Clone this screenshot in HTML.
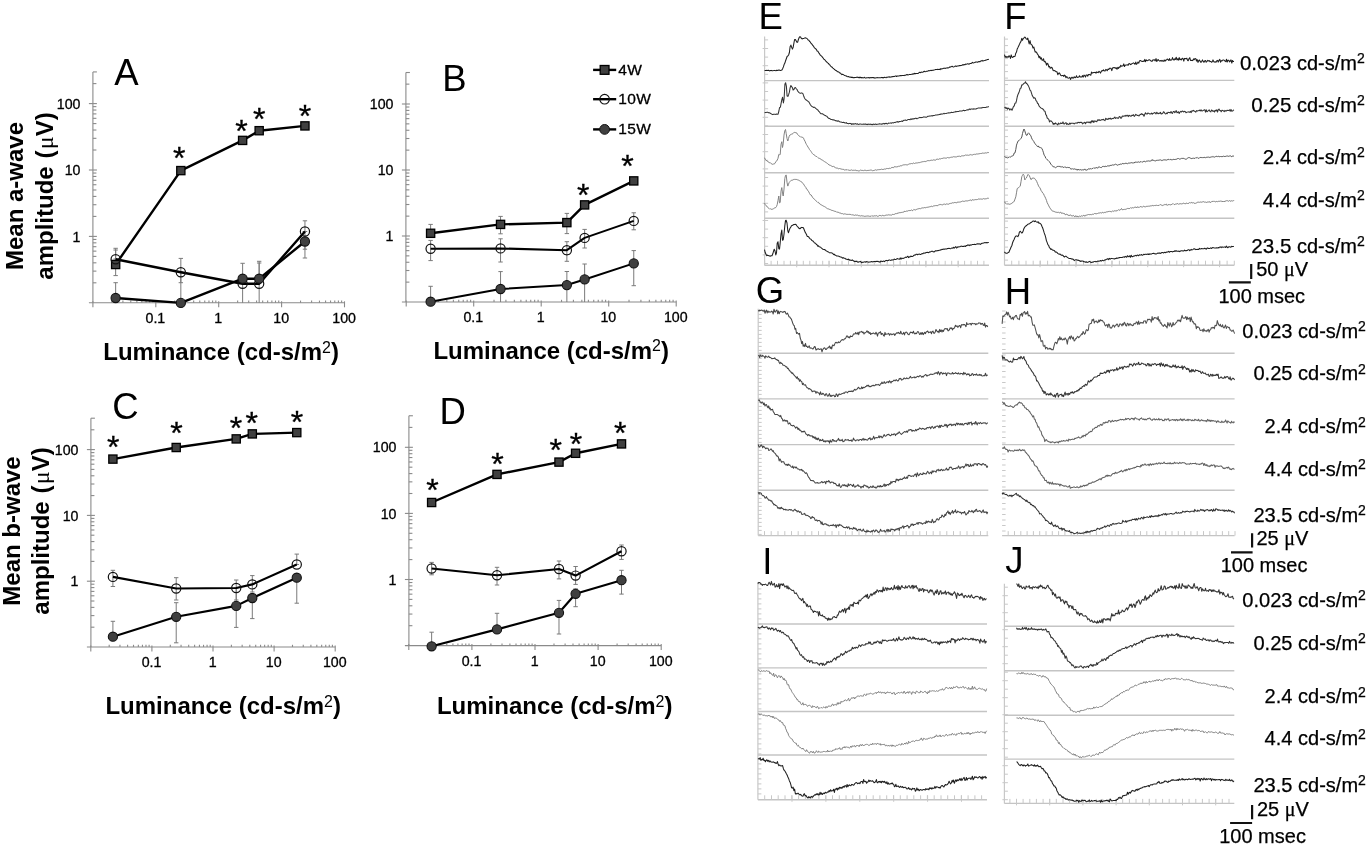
<!DOCTYPE html>
<html><head><meta charset="utf-8"><title>Figure</title>
<style>html,body{margin:0;padding:0;background:#fff;}svg{display:block;}</style></head>
<body><svg width="1368" height="846" viewBox="0 0 1368 846">
<rect width="1368" height="846" fill="#fff"/>
<g stroke="#8a8a8a" stroke-width="1.1" fill="none"><path d="M92.9 71.92V302.8"/><path d="M92.9 71.92h4"/><path d="M92.9 282.81h3.5"/><path d="M92.9 271.12h3.5"/><path d="M92.9 262.82h3.5"/><path d="M92.9 256.39h3.5"/><path d="M92.9 251.13h3.5"/><path d="M92.9 246.69h3.5"/><path d="M92.9 242.83h3.5"/><path d="M92.9 239.44h3.5"/><path d="M92.9 216.41h3.5"/><path d="M92.9 204.72h3.5"/><path d="M92.9 196.42h3.5"/><path d="M92.9 189.99h3.5"/><path d="M92.9 184.73h3.5"/><path d="M92.9 180.29h3.5"/><path d="M92.9 176.43h3.5"/><path d="M92.9 173.04h3.5"/><path d="M92.9 150.01h3.5"/><path d="M92.9 138.32h3.5"/><path d="M92.9 130.02h3.5"/><path d="M92.9 123.59h3.5"/><path d="M92.9 118.33h3.5"/><path d="M92.9 113.89h3.5"/><path d="M92.9 110.03h3.5"/><path d="M92.9 106.64h3.5"/><path d="M92.9 83.61h3.5"/><path d="M88.9 236.4h8"/><path d="M88.9 170h8"/><path d="M88.9 103.6h8"/><path d="M88.9 302.8H344.5"/><path d="M92.9 301.3V307.3"/><path d="M155.8 301.3V307.3"/><path d="M218.7 301.3V307.3"/><path d="M281.6 301.3V307.3"/><path d="M344.5 301.3V307.3"/><path d="M111.83 300.6V302.8"/><path d="M122.91 300.6V302.8"/><path d="M130.77 300.6V302.8"/><path d="M136.87 300.6V302.8"/><path d="M141.85 300.6V302.8"/><path d="M146.06 300.6V302.8"/><path d="M149.7 300.6V302.8"/><path d="M152.92 300.6V302.8"/><path d="M174.73 300.6V302.8"/><path d="M185.81 300.6V302.8"/><path d="M193.67 300.6V302.8"/><path d="M199.77 300.6V302.8"/><path d="M204.75 300.6V302.8"/><path d="M208.96 300.6V302.8"/><path d="M212.6 300.6V302.8"/><path d="M215.82 300.6V302.8"/><path d="M237.63 300.6V302.8"/><path d="M248.71 300.6V302.8"/><path d="M256.57 300.6V302.8"/><path d="M262.67 300.6V302.8"/><path d="M267.65 300.6V302.8"/><path d="M271.86 300.6V302.8"/><path d="M275.5 300.6V302.8"/><path d="M278.72 300.6V302.8"/><path d="M300.53 300.6V302.8"/><path d="M311.61 300.6V302.8"/><path d="M319.47 300.6V302.8"/><path d="M325.57 300.6V302.8"/><path d="M330.55 300.6V302.8"/><path d="M334.76 300.6V302.8"/><path d="M338.4 300.6V302.8"/><path d="M341.62 300.6V302.8"/></g>
<g font-family="'Liberation Sans', Arial, sans-serif" font-size="14.2" fill="#000" stroke="#000" stroke-width="0.3"><text x="80.5" y="241.5" text-anchor="end">1</text><text x="80.5" y="175.1" text-anchor="end">10</text><text x="80.5" y="108.7" text-anchor="end">100</text><text x="155.4" y="323.2" text-anchor="middle">0.1</text><text x="218.3" y="323.2" text-anchor="middle">1</text><text x="281.2" y="323.2" text-anchor="middle">10</text><text x="344.1" y="323.2" text-anchor="middle">100</text></g>
<g stroke="#7a7a7a" stroke-width="1" fill="none"><path d="M115.65 248.3V264"/><path d="M113.45 248.3h4.4"/><path d="M113.45 264h4.4"/><path d="M115.65 250V264"/><path d="M113.45 250h4.4"/><path d="M113.45 264h4.4"/><path d="M115.65 259V275.6"/><path d="M113.45 259h4.4"/><path d="M113.45 275.6h4.4"/><path d="M115.65 282.7V298"/><path d="M113.45 282.7h4.4"/><path d="M113.45 298h4.4"/><path d="M180.83 258.4V282.7"/><path d="M178.63 258.4h4.4"/><path d="M178.63 282.7h4.4"/><path d="M180.83 272V302.8"/><path d="M178.63 272h4.4"/><path d="M242.62 263.3V302.8"/><path d="M240.42 263.3h4.4"/><path d="M259.17 261.3V302.8"/><path d="M256.97 261.3h4.4"/><path d="M259.17 263V283"/><path d="M256.97 263h4.4"/><path d="M256.97 283h4.4"/><path d="M304.94 220.8V231.5"/><path d="M302.74 220.8h4.4"/><path d="M302.74 231.5h4.4"/><path d="M304.94 231.5V249.2"/><path d="M302.74 231.5h4.4"/><path d="M302.74 249.2h4.4"/><path d="M304.94 241.5V258"/><path d="M302.74 241.5h4.4"/><path d="M302.74 258h4.4"/></g>
<polyline points="115.65,264.5 180.83,170.6 242.62,140.4 259.17,130.7 304.94,125.9" fill="none" stroke="#000" stroke-width="2.4" stroke-linejoin="round"/>
<rect x="111.55" y="260.4" width="8.2" height="8.2" fill="#404040" stroke="#000" stroke-width="1.3"/>
<rect x="176.73" y="166.5" width="8.2" height="8.2" fill="#404040" stroke="#000" stroke-width="1.3"/>
<rect x="238.52" y="136.3" width="8.2" height="8.2" fill="#404040" stroke="#000" stroke-width="1.3"/>
<rect x="255.07" y="126.6" width="8.2" height="8.2" fill="#404040" stroke="#000" stroke-width="1.3"/>
<rect x="300.84" y="121.8" width="8.2" height="8.2" fill="#404040" stroke="#000" stroke-width="1.3"/>
<polyline points="115.65,259.2 180.83,272.3 242.62,283.7 259.17,283.7 304.94,231.5" fill="none" stroke="#000" stroke-width="2.4" stroke-linejoin="round"/>
<circle cx="115.65" cy="259.2" r="4.6" fill="none" stroke="#111" stroke-width="1.2"/>
<circle cx="180.83" cy="272.3" r="4.6" fill="none" stroke="#111" stroke-width="1.2"/>
<circle cx="242.62" cy="283.7" r="4.6" fill="none" stroke="#111" stroke-width="1.2"/>
<circle cx="259.17" cy="283.7" r="4.6" fill="none" stroke="#111" stroke-width="1.2"/>
<circle cx="304.94" cy="231.5" r="4.6" fill="none" stroke="#111" stroke-width="1.2"/>
<polyline points="115.65,298 180.83,302.9 242.62,278.7 259.17,278.7 304.94,241.5" fill="none" stroke="#000" stroke-width="2.4" stroke-linejoin="round"/>
<circle cx="115.65" cy="298" r="4.6" fill="#404040" stroke="#111" stroke-width="1.1"/>
<circle cx="180.83" cy="302.9" r="4.6" fill="#404040" stroke="#111" stroke-width="1.1"/>
<circle cx="242.62" cy="278.7" r="4.6" fill="#404040" stroke="#111" stroke-width="1.1"/>
<circle cx="259.17" cy="278.7" r="4.6" fill="#404040" stroke="#111" stroke-width="1.1"/>
<circle cx="304.94" cy="241.5" r="4.6" fill="#404040" stroke="#111" stroke-width="1.1"/>
<g font-family="'Liberation Sans', Arial, sans-serif" font-size="32" fill="#000" stroke="#000" stroke-width="0.35" text-anchor="middle"><text x="179.3" y="169.4">*</text><text x="241.4" y="142.3">*</text><text x="259.3" y="129.8">*</text><text x="305.1" y="126.5">*</text></g>
<g stroke="#8a8a8a" stroke-width="1.1" fill="none"><path d="M405.9 72.51V302"/><path d="M405.9 72.51h4"/><path d="M405.9 282.13h3.5"/><path d="M405.9 270.51h3.5"/><path d="M405.9 262.26h3.5"/><path d="M405.9 255.87h3.5"/><path d="M405.9 250.64h3.5"/><path d="M405.9 246.22h3.5"/><path d="M405.9 242.4h3.5"/><path d="M405.9 239.02h3.5"/><path d="M405.9 216.13h3.5"/><path d="M405.9 204.51h3.5"/><path d="M405.9 196.26h3.5"/><path d="M405.9 189.87h3.5"/><path d="M405.9 184.64h3.5"/><path d="M405.9 180.22h3.5"/><path d="M405.9 176.4h3.5"/><path d="M405.9 173.02h3.5"/><path d="M405.9 150.13h3.5"/><path d="M405.9 138.51h3.5"/><path d="M405.9 130.26h3.5"/><path d="M405.9 123.87h3.5"/><path d="M405.9 118.64h3.5"/><path d="M405.9 114.22h3.5"/><path d="M405.9 110.4h3.5"/><path d="M405.9 107.02h3.5"/><path d="M405.9 84.13h3.5"/><path d="M401.9 236h8"/><path d="M401.9 170h8"/><path d="M401.9 104h8"/><path d="M401.9 302H676.2"/><path d="M406.2 300.5V306.5"/><path d="M473.7 300.5V306.5"/><path d="M541.2 300.5V306.5"/><path d="M608.7 300.5V306.5"/><path d="M676.2 300.5V306.5"/><path d="M426.52 299.8V302"/><path d="M438.41 299.8V302"/><path d="M446.84 299.8V302"/><path d="M453.38 299.8V302"/><path d="M458.73 299.8V302"/><path d="M463.24 299.8V302"/><path d="M467.16 299.8V302"/><path d="M470.61 299.8V302"/><path d="M494.02 299.8V302"/><path d="M505.91 299.8V302"/><path d="M514.34 299.8V302"/><path d="M520.88 299.8V302"/><path d="M526.23 299.8V302"/><path d="M530.74 299.8V302"/><path d="M534.66 299.8V302"/><path d="M538.11 299.8V302"/><path d="M561.52 299.8V302"/><path d="M573.41 299.8V302"/><path d="M581.84 299.8V302"/><path d="M588.38 299.8V302"/><path d="M593.73 299.8V302"/><path d="M598.24 299.8V302"/><path d="M602.16 299.8V302"/><path d="M605.61 299.8V302"/><path d="M629.02 299.8V302"/><path d="M640.91 299.8V302"/><path d="M649.34 299.8V302"/><path d="M655.88 299.8V302"/><path d="M661.23 299.8V302"/><path d="M665.74 299.8V302"/><path d="M669.66 299.8V302"/><path d="M673.11 299.8V302"/></g>
<g font-family="'Liberation Sans', Arial, sans-serif" font-size="14.2" fill="#000" stroke="#000" stroke-width="0.3"><text x="393.5" y="241.1" text-anchor="end">1</text><text x="393.5" y="175.1" text-anchor="end">10</text><text x="393.5" y="109.1" text-anchor="end">100</text><text x="473.3" y="322.4" text-anchor="middle">0.1</text><text x="540.8" y="322.4" text-anchor="middle">1</text><text x="608.3" y="322.4" text-anchor="middle">10</text><text x="675.8" y="322.4" text-anchor="middle">100</text></g>
<g stroke="#7a7a7a" stroke-width="1" fill="none"><path d="M430.62 224.4V233.3"/><path d="M428.42 224.4h4.4"/><path d="M428.42 233.3h4.4"/><path d="M430.62 240.4V260.6"/><path d="M428.42 240.4h4.4"/><path d="M428.42 260.6h4.4"/><path d="M430.62 286.3V301.7"/><path d="M428.42 286.3h4.4"/><path d="M500.56 216.4V233.8"/><path d="M498.36 216.4h4.4"/><path d="M498.36 233.8h4.4"/><path d="M500.56 238.8V262"/><path d="M498.36 238.8h4.4"/><path d="M498.36 262h4.4"/><path d="M500.56 271.6V302"/><path d="M498.36 271.6h4.4"/><path d="M566.86 213.4V233.6"/><path d="M564.66 213.4h4.4"/><path d="M564.66 233.6h4.4"/><path d="M566.86 241.7V261.3"/><path d="M564.66 241.7h4.4"/><path d="M564.66 261.3h4.4"/><path d="M566.86 271.5V302"/><path d="M564.66 271.5h4.4"/><path d="M584.63 229.4V248"/><path d="M582.43 229.4h4.4"/><path d="M582.43 248h4.4"/><path d="M584.63 264V302"/><path d="M582.43 264h4.4"/><path d="M633.75 212.8V229.8"/><path d="M631.55 212.8h4.4"/><path d="M631.55 229.8h4.4"/><path d="M633.75 250.6V285.7"/><path d="M631.55 250.6h4.4"/><path d="M631.55 285.7h4.4"/></g>
<polyline points="430.62,233.3 500.56,224.4 566.86,222.6 584.63,204.9 633.75,180.9" fill="none" stroke="#000" stroke-width="2.4" stroke-linejoin="round"/>
<rect x="426.52" y="229.2" width="8.2" height="8.2" fill="#404040" stroke="#000" stroke-width="1.3"/>
<rect x="496.46" y="220.3" width="8.2" height="8.2" fill="#404040" stroke="#000" stroke-width="1.3"/>
<rect x="562.76" y="218.5" width="8.2" height="8.2" fill="#404040" stroke="#000" stroke-width="1.3"/>
<rect x="580.53" y="200.8" width="8.2" height="8.2" fill="#404040" stroke="#000" stroke-width="1.3"/>
<rect x="629.65" y="176.8" width="8.2" height="8.2" fill="#404040" stroke="#000" stroke-width="1.3"/>
<polyline points="430.62,248.7 500.56,248.4 566.86,250.2 584.63,237.9 633.75,220.9" fill="none" stroke="#000" stroke-width="2.05" stroke-linejoin="round"/>
<circle cx="430.62" cy="248.7" r="4.6" fill="none" stroke="#111" stroke-width="1.2"/>
<circle cx="500.56" cy="248.4" r="4.6" fill="none" stroke="#111" stroke-width="1.2"/>
<circle cx="566.86" cy="250.2" r="4.6" fill="none" stroke="#111" stroke-width="1.2"/>
<circle cx="584.63" cy="237.9" r="4.6" fill="none" stroke="#111" stroke-width="1.2"/>
<circle cx="633.75" cy="220.9" r="4.6" fill="none" stroke="#111" stroke-width="1.2"/>
<polyline points="430.62,301.7 500.56,289 566.86,285.1 584.63,279.4 633.75,263.4" fill="none" stroke="#000" stroke-width="2.05" stroke-linejoin="round"/>
<circle cx="430.62" cy="301.7" r="4.6" fill="#404040" stroke="#111" stroke-width="1.1"/>
<circle cx="500.56" cy="289" r="4.6" fill="#404040" stroke="#111" stroke-width="1.1"/>
<circle cx="566.86" cy="285.1" r="4.6" fill="#404040" stroke="#111" stroke-width="1.1"/>
<circle cx="584.63" cy="279.4" r="4.6" fill="#404040" stroke="#111" stroke-width="1.1"/>
<circle cx="633.75" cy="263.4" r="4.6" fill="#404040" stroke="#111" stroke-width="1.1"/>
<g font-family="'Liberation Sans', Arial, sans-serif" font-size="32" fill="#000" stroke="#000" stroke-width="0.35" text-anchor="middle"><text x="583.2" y="205.9">*</text><text x="627.4" y="176.8">*</text></g>
<g stroke="#8a8a8a" stroke-width="1.1" fill="none"><path d="M90.9 418.21V647"/><path d="M90.9 418.21h4"/><path d="M90.9 627.19h3.5"/><path d="M90.9 615.61h3.5"/><path d="M90.9 607.38h3.5"/><path d="M90.9 601.01h3.5"/><path d="M90.9 595.8h3.5"/><path d="M90.9 591.39h3.5"/><path d="M90.9 587.58h3.5"/><path d="M90.9 584.21h3.5"/><path d="M90.9 561.39h3.5"/><path d="M90.9 549.81h3.5"/><path d="M90.9 541.58h3.5"/><path d="M90.9 535.21h3.5"/><path d="M90.9 530h3.5"/><path d="M90.9 525.59h3.5"/><path d="M90.9 521.78h3.5"/><path d="M90.9 518.41h3.5"/><path d="M90.9 495.59h3.5"/><path d="M90.9 484.01h3.5"/><path d="M90.9 475.78h3.5"/><path d="M90.9 469.41h3.5"/><path d="M90.9 464.2h3.5"/><path d="M90.9 459.79h3.5"/><path d="M90.9 455.98h3.5"/><path d="M90.9 452.61h3.5"/><path d="M90.9 429.79h3.5"/><path d="M86.9 581.2h8"/><path d="M86.9 515.4h8"/><path d="M86.9 449.6h8"/><path d="M86.9 647H335.2"/><path d="M90.8 645.5V651.5"/><path d="M151.9 645.5V651.5"/><path d="M213 645.5V651.5"/><path d="M274.1 645.5V651.5"/><path d="M335.2 645.5V651.5"/><path d="M109.19 644.8V647"/><path d="M119.95 644.8V647"/><path d="M127.59 644.8V647"/><path d="M133.51 644.8V647"/><path d="M138.35 644.8V647"/><path d="M142.44 644.8V647"/><path d="M145.98 644.8V647"/><path d="M149.1 644.8V647"/><path d="M170.29 644.8V647"/><path d="M181.05 644.8V647"/><path d="M188.69 644.8V647"/><path d="M194.61 644.8V647"/><path d="M199.45 644.8V647"/><path d="M203.54 644.8V647"/><path d="M207.08 644.8V647"/><path d="M210.2 644.8V647"/><path d="M231.39 644.8V647"/><path d="M242.15 644.8V647"/><path d="M249.79 644.8V647"/><path d="M255.71 644.8V647"/><path d="M260.55 644.8V647"/><path d="M264.64 644.8V647"/><path d="M268.18 644.8V647"/><path d="M271.3 644.8V647"/><path d="M292.49 644.8V647"/><path d="M303.25 644.8V647"/><path d="M310.89 644.8V647"/><path d="M316.81 644.8V647"/><path d="M321.65 644.8V647"/><path d="M325.74 644.8V647"/><path d="M329.28 644.8V647"/><path d="M332.4 644.8V647"/></g>
<g font-family="'Liberation Sans', Arial, sans-serif" font-size="14.2" fill="#000" stroke="#000" stroke-width="0.3"><text x="78.5" y="586.3" text-anchor="end">1</text><text x="78.5" y="520.5" text-anchor="end">10</text><text x="78.5" y="454.7" text-anchor="end">100</text><text x="151.5" y="667.4" text-anchor="middle">0.1</text><text x="212.6" y="667.4" text-anchor="middle">1</text><text x="273.7" y="667.4" text-anchor="middle">10</text><text x="334.8" y="667.4" text-anchor="middle">100</text></g>
<g stroke="#7a7a7a" stroke-width="1" fill="none"><path d="M112.9 570.3V586.5"/><path d="M110.7 570.3h4.4"/><path d="M110.7 586.5h4.4"/><path d="M112.9 621.3V636.7"/><path d="M110.7 621.3h4.4"/><path d="M110.7 636.7h4.4"/><path d="M176.21 577.7V600"/><path d="M174.01 577.7h4.4"/><path d="M174.01 600h4.4"/><path d="M176.21 602.7V642.8"/><path d="M174.01 602.7h4.4"/><path d="M174.01 642.8h4.4"/><path d="M236.23 588V627.4"/><path d="M234.03 588h4.4"/><path d="M234.03 627.4h4.4"/><path d="M236.23 580V600"/><path d="M234.03 580h4.4"/><path d="M234.03 600h4.4"/><path d="M252.31 575.6V592"/><path d="M250.11 575.6h4.4"/><path d="M250.11 592h4.4"/><path d="M252.31 598V618.6"/><path d="M250.11 598h4.4"/><path d="M250.11 618.6h4.4"/><path d="M296.77 554.1V564.5"/><path d="M294.57 554.1h4.4"/><path d="M294.57 564.5h4.4"/><path d="M296.77 577.7V603.2"/><path d="M294.57 577.7h4.4"/><path d="M294.57 603.2h4.4"/></g>
<polyline points="112.9,459.1 176.21,447.5 236.23,438.9 252.31,433.9 296.77,432.6" fill="none" stroke="#000" stroke-width="2.4" stroke-linejoin="round"/>
<rect x="108.8" y="455" width="8.2" height="8.2" fill="#404040" stroke="#000" stroke-width="1.3"/>
<rect x="172.11" y="443.4" width="8.2" height="8.2" fill="#404040" stroke="#000" stroke-width="1.3"/>
<rect x="232.13" y="434.8" width="8.2" height="8.2" fill="#404040" stroke="#000" stroke-width="1.3"/>
<rect x="248.21" y="429.8" width="8.2" height="8.2" fill="#404040" stroke="#000" stroke-width="1.3"/>
<rect x="292.67" y="428.5" width="8.2" height="8.2" fill="#404040" stroke="#000" stroke-width="1.3"/>
<polyline points="112.9,576.9 176.21,588.5 236.23,588 252.31,584.4 296.77,564.5" fill="none" stroke="#000" stroke-width="2.15" stroke-linejoin="round"/>
<circle cx="112.9" cy="576.9" r="4.6" fill="none" stroke="#111" stroke-width="1.2"/>
<circle cx="176.21" cy="588.5" r="4.6" fill="none" stroke="#111" stroke-width="1.2"/>
<circle cx="236.23" cy="588" r="4.6" fill="none" stroke="#111" stroke-width="1.2"/>
<circle cx="252.31" cy="584.4" r="4.6" fill="none" stroke="#111" stroke-width="1.2"/>
<circle cx="296.77" cy="564.5" r="4.6" fill="none" stroke="#111" stroke-width="1.2"/>
<polyline points="112.9,636.7 176.21,616.8 236.23,605.9 252.31,598 296.77,577.7" fill="none" stroke="#000" stroke-width="2.15" stroke-linejoin="round"/>
<circle cx="112.9" cy="636.7" r="4.6" fill="#404040" stroke="#111" stroke-width="1.1"/>
<circle cx="176.21" cy="616.8" r="4.6" fill="#404040" stroke="#111" stroke-width="1.1"/>
<circle cx="236.23" cy="605.9" r="4.6" fill="#404040" stroke="#111" stroke-width="1.1"/>
<circle cx="252.31" cy="598" r="4.6" fill="#404040" stroke="#111" stroke-width="1.1"/>
<circle cx="296.77" cy="577.7" r="4.6" fill="#404040" stroke="#111" stroke-width="1.1"/>
<g font-family="'Liberation Sans', Arial, sans-serif" font-size="32" fill="#000" stroke="#000" stroke-width="0.35" text-anchor="middle"><text x="113.3" y="457.9">*</text><text x="176.4" y="443.9">*</text><text x="236.1" y="439.1">*</text><text x="251.7" y="434.4">*</text><text x="296.9" y="432.5">*</text></g>
<g stroke="#8a8a8a" stroke-width="1.1" fill="none"><path d="M408.9 415.76V645.6"/><path d="M408.9 415.76h4"/><path d="M408.9 625.7h3.5"/><path d="M408.9 614.06h3.5"/><path d="M408.9 605.8h3.5"/><path d="M408.9 599.4h3.5"/><path d="M408.9 594.16h3.5"/><path d="M408.9 589.74h3.5"/><path d="M408.9 585.91h3.5"/><path d="M408.9 582.52h3.5"/><path d="M408.9 559.6h3.5"/><path d="M408.9 547.96h3.5"/><path d="M408.9 539.7h3.5"/><path d="M408.9 533.3h3.5"/><path d="M408.9 528.06h3.5"/><path d="M408.9 523.64h3.5"/><path d="M408.9 519.81h3.5"/><path d="M408.9 516.42h3.5"/><path d="M408.9 493.5h3.5"/><path d="M408.9 481.86h3.5"/><path d="M408.9 473.6h3.5"/><path d="M408.9 467.2h3.5"/><path d="M408.9 461.96h3.5"/><path d="M408.9 457.54h3.5"/><path d="M408.9 453.71h3.5"/><path d="M408.9 450.32h3.5"/><path d="M408.9 427.4h3.5"/><path d="M404.9 579.5h8"/><path d="M404.9 513.4h8"/><path d="M404.9 447.3h8"/><path d="M404.9 645.6H661.2"/><path d="M408.8 644.1V650.1"/><path d="M471.9 644.1V650.1"/><path d="M535 644.1V650.1"/><path d="M598.1 644.1V650.1"/><path d="M661.2 644.1V650.1"/><path d="M427.79 643.4V645.6"/><path d="M438.91 643.4V645.6"/><path d="M446.79 643.4V645.6"/><path d="M452.91 643.4V645.6"/><path d="M457.9 643.4V645.6"/><path d="M462.13 643.4V645.6"/><path d="M465.78 643.4V645.6"/><path d="M469.01 643.4V645.6"/><path d="M490.89 643.4V645.6"/><path d="M502.01 643.4V645.6"/><path d="M509.89 643.4V645.6"/><path d="M516.01 643.4V645.6"/><path d="M521 643.4V645.6"/><path d="M525.23 643.4V645.6"/><path d="M528.88 643.4V645.6"/><path d="M532.11 643.4V645.6"/><path d="M553.99 643.4V645.6"/><path d="M565.11 643.4V645.6"/><path d="M572.99 643.4V645.6"/><path d="M579.11 643.4V645.6"/><path d="M584.1 643.4V645.6"/><path d="M588.33 643.4V645.6"/><path d="M591.98 643.4V645.6"/><path d="M595.21 643.4V645.6"/><path d="M617.09 643.4V645.6"/><path d="M628.21 643.4V645.6"/><path d="M636.09 643.4V645.6"/><path d="M642.21 643.4V645.6"/><path d="M647.2 643.4V645.6"/><path d="M651.43 643.4V645.6"/><path d="M655.08 643.4V645.6"/><path d="M658.31 643.4V645.6"/></g>
<g font-family="'Liberation Sans', Arial, sans-serif" font-size="14.2" fill="#000" stroke="#000" stroke-width="0.3"><text x="396.5" y="584.6" text-anchor="end">1</text><text x="396.5" y="518.5" text-anchor="end">10</text><text x="396.5" y="452.4" text-anchor="end">100</text><text x="471.5" y="666" text-anchor="middle">0.1</text><text x="534.6" y="666" text-anchor="middle">1</text><text x="597.7" y="666" text-anchor="middle">10</text><text x="660.8" y="666" text-anchor="middle">100</text></g>
<g stroke="#7a7a7a" stroke-width="1" fill="none"><path d="M431.63 562.4V574.8"/><path d="M429.43 562.4h4.4"/><path d="M429.43 574.8h4.4"/><path d="M431.63 632.2V646"/><path d="M429.43 632.2h4.4"/><path d="M497.01 567.3V585"/><path d="M494.81 567.3h4.4"/><path d="M494.81 585h4.4"/><path d="M497.01 613.3V629.4"/><path d="M494.81 613.3h4.4"/><path d="M494.81 629.4h4.4"/><path d="M558.99 561V578.9"/><path d="M556.79 561h4.4"/><path d="M556.79 578.9h4.4"/><path d="M558.99 600.4V634"/><path d="M556.79 600.4h4.4"/><path d="M556.79 634h4.4"/><path d="M575.6 566.5V584.4"/><path d="M573.4 566.5h4.4"/><path d="M573.4 584.4h4.4"/><path d="M575.6 588.8V606.7"/><path d="M573.4 588.8h4.4"/><path d="M573.4 606.7h4.4"/><path d="M621.51 545V559.4"/><path d="M619.31 545h4.4"/><path d="M619.31 559.4h4.4"/><path d="M621.51 570.3V594.1"/><path d="M619.31 570.3h4.4"/><path d="M619.31 594.1h4.4"/></g>
<polyline points="431.63,502.5 497.01,474.4 558.99,462.1 575.6,453.3 621.51,443.9" fill="none" stroke="#000" stroke-width="2.4" stroke-linejoin="round"/>
<rect x="427.53" y="498.4" width="8.2" height="8.2" fill="#404040" stroke="#000" stroke-width="1.3"/>
<rect x="492.91" y="470.3" width="8.2" height="8.2" fill="#404040" stroke="#000" stroke-width="1.3"/>
<rect x="554.89" y="458" width="8.2" height="8.2" fill="#404040" stroke="#000" stroke-width="1.3"/>
<rect x="571.5" y="449.2" width="8.2" height="8.2" fill="#404040" stroke="#000" stroke-width="1.3"/>
<rect x="617.41" y="439.8" width="8.2" height="8.2" fill="#404040" stroke="#000" stroke-width="1.3"/>
<polyline points="431.63,568.5 497.01,575.3 558.99,569 575.6,575.6 621.51,551.3" fill="none" stroke="#000" stroke-width="2.15" stroke-linejoin="round"/>
<circle cx="431.63" cy="568.5" r="4.6" fill="none" stroke="#111" stroke-width="1.2"/>
<circle cx="497.01" cy="575.3" r="4.6" fill="none" stroke="#111" stroke-width="1.2"/>
<circle cx="558.99" cy="569" r="4.6" fill="none" stroke="#111" stroke-width="1.2"/>
<circle cx="575.6" cy="575.6" r="4.6" fill="none" stroke="#111" stroke-width="1.2"/>
<circle cx="621.51" cy="551.3" r="4.6" fill="none" stroke="#111" stroke-width="1.2"/>
<polyline points="431.63,646.3 497.01,629.4 558.99,612.8 575.6,593.8 621.51,580.2" fill="none" stroke="#000" stroke-width="2.15" stroke-linejoin="round"/>
<circle cx="431.63" cy="646.3" r="4.6" fill="#404040" stroke="#111" stroke-width="1.1"/>
<circle cx="497.01" cy="629.4" r="4.6" fill="#404040" stroke="#111" stroke-width="1.1"/>
<circle cx="558.99" cy="612.8" r="4.6" fill="#404040" stroke="#111" stroke-width="1.1"/>
<circle cx="575.6" cy="593.8" r="4.6" fill="#404040" stroke="#111" stroke-width="1.1"/>
<circle cx="621.51" cy="580.2" r="4.6" fill="#404040" stroke="#111" stroke-width="1.1"/>
<g font-family="'Liberation Sans', Arial, sans-serif" font-size="32" fill="#000" stroke="#000" stroke-width="0.35" text-anchor="middle"><text x="432.4" y="501">*</text><text x="497.4" y="475">*</text><text x="555.7" y="461.4">*</text><text x="576.1" y="454.8">*</text><text x="620.3" y="444">*</text></g>
<g font-family="'Liberation Sans', Arial, sans-serif" font-size="36.5" fill="#000"><text x="114.2" y="85.2">A</text><text x="442.2" y="91.1">B</text><text x="112.2" y="418.5">C</text><text x="439.6" y="424.4">D</text><text x="758.6" y="28.9">E</text><text x="1004.2" y="28.9">F</text><text x="755.8" y="303">G</text><text x="1004.7" y="304">H</text><text x="762.2" y="574">I</text><text x="1005.2" y="573.3">J</text></g>
<g font-family="'Liberation Sans', Arial, sans-serif" font-size="24" font-weight="bold" fill="#000"><text x="103.3" y="360.3">Luminance (cd-s/m<tspan font-size="16" font-weight="normal" dy="-7.5">2</tspan><tspan dy="7.5">)</tspan></text><text x="433.4" y="358.6">Luminance (cd-s/m<tspan font-size="16" font-weight="normal" dy="-7.5">2</tspan><tspan dy="7.5">)</tspan></text><text x="105.4" y="714.2">Luminance (cd-s/m<tspan font-size="16" font-weight="normal" dy="-7.5">2</tspan><tspan dy="7.5">)</tspan></text><text x="436.9" y="714.2">Luminance (cd-s/m<tspan font-size="16" font-weight="normal" dy="-7.5">2</tspan><tspan dy="7.5">)</tspan></text><text transform="translate(23.4,196) rotate(-90)" text-anchor="middle">Mean a-wave</text><text transform="translate(52.8,196) rotate(-90)" text-anchor="middle">amplitude<tspan dx="1.2"> (</tspan><tspan dx="1.3" font-family="'Liberation Serif', serif" font-weight="normal">&#956;</tspan>V)</text><text transform="translate(20.2,531) rotate(-90)" text-anchor="middle">Mean b-wave</text><text transform="translate(49,531) rotate(-90)" text-anchor="middle">amplitude<tspan dx="1.2"> (</tspan><tspan dx="1.3" font-family="'Liberation Serif', serif" font-weight="normal">&#956;</tspan>V)</text></g>
<g><path d="M593.1 69.9H616.2" stroke="#000" stroke-width="2.4"/><rect x="600.2" y="65.5" width="8.8" height="8.8" fill="#404040" stroke="#000" stroke-width="1.3"/><text x="618.2" y="74.5" font-family="'Liberation Sans', Arial, sans-serif" font-size="15.5" letter-spacing="0.45" fill="#000" stroke="#000" stroke-width="0.3">4W</text><path d="M593.1 99.2H616.2" stroke="#000" stroke-width="2.4"/><circle cx="604.6" cy="99.2" r="4.8" fill="none" stroke="#111" stroke-width="1.2"/><text x="618.2" y="103.8" font-family="'Liberation Sans', Arial, sans-serif" font-size="15.5" letter-spacing="0.45" fill="#000" stroke="#000" stroke-width="0.3">10W</text><path d="M593.1 129.4H616.2" stroke="#000" stroke-width="2.4"/><circle cx="604.6" cy="129.4" r="4.9" fill="#404040" stroke="#111"/><text x="618.2" y="134" font-family="'Liberation Sans', Arial, sans-serif" font-size="15.5" letter-spacing="0.45" fill="#000" stroke="#000" stroke-width="0.3">15W</text></g>
<g fill="none"><path d="M764.6 36.5V265.3" stroke="#c8c8c8" stroke-width="1.2"/><path d="M764.6 39.9h3.5M762.6 48.5h5.5M764.6 57.1h3.5M762.6 65.7h5.5M764.6 74.3h3.5M762.6 82.9h5.5M764.6 91.5h3.5M762.6 100.1h5.5M764.6 108.7h3.5M762.6 117.3h5.5M764.6 125.9h3.5M762.6 134.5h5.5M764.6 143.1h3.5M762.6 151.7h5.5M764.6 160.3h3.5M762.6 168.9h5.5M764.6 177.5h3.5M762.6 186.1h5.5M764.6 194.7h3.5M762.6 203.3h5.5M764.6 211.9h3.5M762.6 220.5h5.5M764.6 229.1h3.5M762.6 237.7h5.5M764.6 246.3h3.5M762.6 254.9h5.5M764.6 263.5h3.5" stroke="#c8c8c8" stroke-width="1"/><path d="M764.6 80.6H989" stroke="#c4c4c4" stroke-width="1.4"/><path d="M764.6 126.3H989" stroke="#c4c4c4" stroke-width="1.4"/><path d="M764.6 172.8H989" stroke="#c4c4c4" stroke-width="1.4"/><path d="M764.6 218.3H989" stroke="#c4c4c4" stroke-width="1.4"/><path d="M764.6 265.3H989" stroke="#c4c4c4" stroke-width="1.4"/><path d="M764.6 260.8V265.3M771.1 260.8V265.3M777.5 260.8V265.3M784 260.8V265.3M790.4 260.8V265.3M796.9 260.8V265.3M803.3 260.8V265.3M809.8 260.8V265.3M816.2 260.8V265.3M822.7 260.8V265.3M829.1 260.8V265.3M835.6 260.8V265.3M842 260.8V265.3M848.5 260.8V265.3M854.9 260.8V265.3M861.4 260.8V265.3M867.8 260.8V265.3M874.3 260.8V265.3M880.7 260.8V265.3M887.2 260.8V265.3M893.6 260.8V265.3M900.1 260.8V265.3M906.5 260.8V265.3M913 260.8V265.3M919.4 260.8V265.3M925.9 260.8V265.3M932.3 260.8V265.3M938.8 260.8V265.3M945.2 260.8V265.3M951.7 260.8V265.3M958.1 260.8V265.3M964.6 260.8V265.3M971 260.8V265.3M977.5 260.8V265.3M983.9 260.8V265.3M796.7 260.8V267.3M829 260.8V267.3M861.3 260.8V267.3M893.6 260.8V267.3M925.9 260.8V267.3M958.2 260.8V267.3" stroke="#c8c8c8" stroke-width="1"/></g>
<g fill="none"><path d="M1004.5 36.5V265.2" stroke="#c8c8c8" stroke-width="1.2"/><path d="M1004.5 39.1h3.5M1004.5 45.6h3.5M1004.5 52.1h3.5M1004.5 58.6h3.5M1004.5 65.1h3.5M1004.5 71.6h3.5M1004.5 78.1h3.5M1004.5 84.6h3.5M1004.5 91.1h3.5M1004.5 97.6h3.5M1004.5 104.1h3.5M1004.5 110.6h3.5M1004.5 117.1h3.5M1004.5 123.6h3.5M1004.5 130.1h3.5M1004.5 136.6h3.5M1004.5 143.1h3.5M1004.5 149.6h3.5M1004.5 156.1h3.5M1004.5 162.6h3.5M1004.5 169.1h3.5M1004.5 175.6h3.5M1004.5 182.1h3.5M1004.5 188.6h3.5M1004.5 195.1h3.5M1004.5 201.6h3.5M1004.5 208.1h3.5M1004.5 214.6h3.5M1004.5 221.1h3.5M1004.5 227.6h3.5M1004.5 234.1h3.5M1004.5 240.6h3.5M1004.5 247.1h3.5M1004.5 253.6h3.5M1004.5 260.1h3.5" stroke="#c8c8c8" stroke-width="1"/><path d="M1004.5 80.4H1234.3" stroke="#c4c4c4" stroke-width="1.4"/><path d="M1004.5 126.2H1234.3" stroke="#c4c4c4" stroke-width="1.4"/><path d="M1004.5 172.8H1234.3" stroke="#c4c4c4" stroke-width="1.4"/><path d="M1004.5 218.3H1234.3" stroke="#c4c4c4" stroke-width="1.4"/><path d="M1004.5 265.2H1234.3" stroke="#c4c4c4" stroke-width="1.4"/><path d="M1004.5 260.7V265.2M1011.7 260.7V265.2M1018.9 260.7V265.2M1026 260.7V265.2M1033.2 260.7V265.2M1040.4 260.7V265.2M1047.6 260.7V265.2M1054.8 260.7V265.2M1061.9 260.7V265.2M1069.1 260.7V265.2M1076.3 260.7V265.2M1083.5 260.7V265.2M1090.7 260.7V265.2M1097.8 260.7V265.2M1105 260.7V265.2M1112.2 260.7V265.2M1119.4 260.7V265.2M1126.6 260.7V265.2M1133.7 260.7V265.2M1140.9 260.7V265.2M1148.1 260.7V265.2M1155.3 260.7V265.2M1162.5 260.7V265.2M1169.6 260.7V265.2M1176.8 260.7V265.2M1184 260.7V265.2M1191.2 260.7V265.2M1198.4 260.7V265.2M1205.5 260.7V265.2M1212.7 260.7V265.2M1219.9 260.7V265.2M1227.1 260.7V265.2M1234.3 260.7V265.2M1040 260.7V267.2M1075.9 260.7V267.2M1111.8 260.7V267.2M1147.7 260.7V267.2M1183.6 260.7V267.2M1219.5 260.7V267.2" stroke="#c8c8c8" stroke-width="1"/></g>
<g fill="none"><path d="M758.2 308.8V535.6" stroke="#c8c8c8" stroke-width="1.2"/><path d="M758.2 310.4h3.5M758.2 314.4h3.5M758.2 318.4h3.5M758.2 322.4h3.5M758.2 326.4h3.5M758.2 330.4h3.5M758.2 334.4h3.5M758.2 338.4h3.5M758.2 342.4h3.5M758.2 346.4h3.5M758.2 350.4h3.5M758.2 354.4h3.5M758.2 358.4h3.5M758.2 362.4h3.5M758.2 366.4h3.5M758.2 370.4h3.5M758.2 374.4h3.5M758.2 378.4h3.5M758.2 382.4h3.5M758.2 386.4h3.5M758.2 390.4h3.5M758.2 394.4h3.5M758.2 398.4h3.5M758.2 402.4h3.5M758.2 406.4h3.5M758.2 410.4h3.5M758.2 414.4h3.5M758.2 418.4h3.5M758.2 422.4h3.5M758.2 426.4h3.5M758.2 430.4h3.5M758.2 434.4h3.5M758.2 438.4h3.5M758.2 442.4h3.5M758.2 446.4h3.5M758.2 450.4h3.5M758.2 454.4h3.5M758.2 458.4h3.5M758.2 462.4h3.5M758.2 466.4h3.5M758.2 470.4h3.5M758.2 474.4h3.5M758.2 478.4h3.5M758.2 482.4h3.5M758.2 486.4h3.5M758.2 490.4h3.5M758.2 494.4h3.5M758.2 498.4h3.5M758.2 502.4h3.5M758.2 506.4h3.5M758.2 510.4h3.5M758.2 514.4h3.5M758.2 518.4h3.5M758.2 522.4h3.5M758.2 526.4h3.5M758.2 530.4h3.5M758.2 534.4h3.5" stroke="#c8c8c8" stroke-width="1"/><path d="M758.2 353.2H988.3" stroke="#c4c4c4" stroke-width="1.4"/><path d="M758.2 398.9H988.3" stroke="#c4c4c4" stroke-width="1.4"/><path d="M758.2 444.6H988.3" stroke="#c4c4c4" stroke-width="1.4"/><path d="M758.2 490.2H988.3" stroke="#c4c4c4" stroke-width="1.4"/><path d="M758.2 535.6H988.3" stroke="#c4c4c4" stroke-width="1.4"/><path d="M764.5 531.1V535.6M771.2 531.1V535.6M778 531.1V535.6M784.8 531.1V535.6M791.5 531.1V535.6M798.2 531.1V535.6M805 531.1V535.6M811.8 531.1V535.6M818.5 531.1V535.6M825.2 531.1V535.6M832 531.1V535.6M838.8 531.1V535.6M845.5 531.1V535.6M852.2 531.1V535.6M859 531.1V535.6M865.8 531.1V535.6M872.5 531.1V535.6M879.2 531.1V535.6M886 531.1V535.6M892.8 531.1V535.6M899.5 531.1V535.6M906.2 531.1V535.6M913 531.1V535.6M919.8 531.1V535.6M926.5 531.1V535.6M933.2 531.1V535.6M940 531.1V535.6M946.8 531.1V535.6M953.5 531.1V535.6M960.2 531.1V535.6M967 531.1V535.6M973.8 531.1V535.6M980.5 531.1V535.6M987.2 531.1V535.6" stroke="#c8c8c8" stroke-width="1"/></g>
<g fill="none"><path d="M1002.1 311h3.5M1002.1 316.5h3.5M1002.1 322h3.5M1002.1 327.5h3.5M1002.1 333h3.5M1002.1 338.5h3.5M1002.1 344h3.5M1002.1 349.5h3.5M1002.1 355h3.5M1002.1 360.5h3.5M1002.1 366h3.5M1002.1 371.5h3.5M1002.1 377h3.5M1002.1 382.5h3.5M1002.1 388h3.5M1002.1 393.5h3.5M1002.1 399h3.5M1002.1 404.5h3.5M1002.1 410h3.5M1002.1 415.5h3.5M1002.1 421h3.5M1002.1 426.5h3.5M1002.1 432h3.5M1002.1 437.5h3.5M1002.1 443h3.5M1002.1 448.5h3.5M1002.1 454h3.5M1002.1 459.5h3.5M1002.1 465h3.5M1002.1 470.5h3.5M1002.1 476h3.5M1002.1 481.5h3.5M1002.1 487h3.5M1002.1 492.5h3.5M1002.1 498h3.5M1002.1 503.5h3.5M1002.1 509h3.5M1002.1 514.5h3.5M1002.1 520h3.5M1002.1 525.5h3.5M1002.1 531h3.5" stroke="#c8c8c8" stroke-width="1"/><path d="M1002.1 353.2H1234.6" stroke="#c4c4c4" stroke-width="1.4"/><path d="M1002.1 398.9H1234.6" stroke="#c4c4c4" stroke-width="1.4"/><path d="M1002.1 444.6H1234.6" stroke="#c4c4c4" stroke-width="1.4"/><path d="M1002.1 490.2H1234.6" stroke="#c4c4c4" stroke-width="1.4"/><path d="M1002.1 535.6H1234.6" stroke="#c4c4c4" stroke-width="1.4"/><path d="M1008.2 531.1V535.6M1014.5 531.1V535.6M1020.8 531.1V535.6M1027.1 531.1V535.6M1033.4 531.1V535.6M1039.7 531.1V535.6M1046 531.1V535.6M1052.3 531.1V535.6M1058.6 531.1V535.6M1064.9 531.1V535.6M1071.2 531.1V535.6M1077.5 531.1V535.6M1083.8 531.1V535.6M1090.1 531.1V535.6M1096.4 531.1V535.6M1102.7 531.1V535.6M1109 531.1V535.6M1115.3 531.1V535.6M1121.6 531.1V535.6M1127.9 531.1V535.6M1134.2 531.1V535.6M1140.5 531.1V535.6M1146.8 531.1V535.6M1153.1 531.1V535.6M1159.4 531.1V535.6M1165.7 531.1V535.6M1172 531.1V535.6M1178.3 531.1V535.6M1184.6 531.1V535.6M1190.9 531.1V535.6M1197.2 531.1V535.6M1203.5 531.1V535.6M1209.8 531.1V535.6M1216.1 531.1V535.6M1222.4 531.1V535.6M1228.7 531.1V535.6M1235 531.1V535.6" stroke="#c8c8c8" stroke-width="1"/></g>
<g fill="none"><path d="M757.9 581.9V799.8" stroke="#c8c8c8" stroke-width="1.2"/><path d="M757.9 583.9h3.5M757.9 588.9h3.5M757.9 593.9h3.5M757.9 598.9h3.5M757.9 603.9h3.5M757.9 608.9h3.5M757.9 613.9h3.5M757.9 618.9h3.5M757.9 623.9h3.5M757.9 628.9h3.5M757.9 633.9h3.5M757.9 638.9h3.5M757.9 643.9h3.5M757.9 648.9h3.5M757.9 653.9h3.5M757.9 658.9h3.5M757.9 663.9h3.5M757.9 668.9h3.5M757.9 673.9h3.5M757.9 678.9h3.5M757.9 683.9h3.5M757.9 688.9h3.5M757.9 693.9h3.5M757.9 698.9h3.5M757.9 703.9h3.5M757.9 708.9h3.5M757.9 713.9h3.5M757.9 718.9h3.5M757.9 723.9h3.5M757.9 728.9h3.5M757.9 733.9h3.5M757.9 738.9h3.5M757.9 743.9h3.5M757.9 748.9h3.5M757.9 753.9h3.5M757.9 758.9h3.5M757.9 763.9h3.5M757.9 768.9h3.5M757.9 773.9h3.5M757.9 778.9h3.5M757.9 783.9h3.5M757.9 788.9h3.5M757.9 793.9h3.5" stroke="#c8c8c8" stroke-width="1"/><path d="M757.9 624H987" stroke="#c4c4c4" stroke-width="1.4"/><path d="M757.9 667.9H987" stroke="#c4c4c4" stroke-width="1.4"/><path d="M757.9 711.5H987" stroke="#c4c4c4" stroke-width="1.4"/><path d="M757.9 755H987" stroke="#c4c4c4" stroke-width="1.4"/><path d="M757.9 799.8H987" stroke="#c4c4c4" stroke-width="1.4"/><path d="M764.7 795.3V799.8M771.5 795.3V799.8M778.2 795.3V799.8M785 795.3V799.8M791.8 795.3V799.8M798.6 795.3V799.8M805.4 795.3V799.8M812.1 795.3V799.8M818.9 795.3V799.8M825.7 795.3V799.8M832.5 795.3V799.8M839.3 795.3V799.8M846 795.3V799.8M852.8 795.3V799.8M859.6 795.3V799.8M866.4 795.3V799.8M873.2 795.3V799.8M879.9 795.3V799.8M886.7 795.3V799.8M893.5 795.3V799.8M900.3 795.3V799.8M907.1 795.3V799.8M913.8 795.3V799.8M920.6 795.3V799.8M927.4 795.3V799.8M934.2 795.3V799.8M941 795.3V799.8M947.7 795.3V799.8M954.5 795.3V799.8M961.3 795.3V799.8M968.1 795.3V799.8M974.9 795.3V799.8M981.6 795.3V799.8M792 795.3V801.8M825.9 795.3V801.8M859.8 795.3V801.8M893.7 795.3V801.8M927.6 795.3V801.8M961.5 795.3V801.8" stroke="#c8c8c8" stroke-width="1"/></g>
<g fill="none"><path d="M1004.4 583.8V803.4" stroke="#c8c8c8" stroke-width="1.2"/><path d="M1004.4 587.2h3.5M1002.4 595.7h5.5M1004.4 604.2h3.5M1002.4 612.7h5.5M1004.4 621.2h3.5M1002.4 629.7h5.5M1004.4 638.2h3.5M1002.4 646.7h5.5M1004.4 655.2h3.5M1002.4 663.7h5.5M1004.4 672.2h3.5M1002.4 680.7h5.5M1004.4 689.2h3.5M1002.4 697.7h5.5M1004.4 706.2h3.5M1002.4 714.7h5.5M1004.4 723.2h3.5M1002.4 731.7h5.5M1004.4 740.2h3.5M1002.4 748.7h5.5M1004.4 757.2h3.5M1002.4 765.7h5.5M1004.4 774.2h3.5M1002.4 782.7h5.5M1004.4 791.2h3.5M1002.4 799.7h5.5" stroke="#c8c8c8" stroke-width="1"/><path d="M1004.4 626.3H1234.3" stroke="#c4c4c4" stroke-width="1.4"/><path d="M1004.4 670.8H1234.3" stroke="#c4c4c4" stroke-width="1.4"/><path d="M1004.4 715.3H1234.3" stroke="#c4c4c4" stroke-width="1.4"/><path d="M1004.4 759.1H1234.3" stroke="#c4c4c4" stroke-width="1.4"/><path d="M1004.4 803.4H1234.3" stroke="#c4c4c4" stroke-width="1.4"/><path d="M1009.9 798.9V803.4M1016.5 798.9V803.4M1023.1 798.9V803.4M1029.8 798.9V803.4M1036.4 798.9V803.4M1043.1 798.9V803.4M1049.7 798.9V803.4M1056.3 798.9V803.4M1063 798.9V803.4M1069.6 798.9V803.4M1076.3 798.9V803.4M1082.9 798.9V803.4M1089.5 798.9V803.4M1096.2 798.9V803.4M1102.8 798.9V803.4M1109.5 798.9V803.4M1116.1 798.9V803.4M1122.7 798.9V803.4M1129.4 798.9V803.4M1136 798.9V803.4M1142.7 798.9V803.4M1149.3 798.9V803.4M1155.9 798.9V803.4M1162.6 798.9V803.4M1169.2 798.9V803.4M1175.9 798.9V803.4M1182.5 798.9V803.4M1189.1 798.9V803.4M1195.8 798.9V803.4M1202.4 798.9V803.4M1209.1 798.9V803.4M1215.7 798.9V803.4M1222.3 798.9V803.4M1229 798.9V803.4M1016.5 798.9V805.4M1049.7 798.9V805.4M1082.9 798.9V805.4M1116.1 798.9V805.4M1149.3 798.9V805.4M1182.5 798.9V805.4M1215.7 798.9V805.4" stroke="#c8c8c8" stroke-width="1"/></g>
<path d="M764.6 70.5 765.4 70.6 766.1 70.5 766.9 70.3 767.6 70.4 768.4 70.3 769.1 70.6 769.9 70.9 770.6 70.5 771.4 70.4 772.1 70.7 772.9 70.7 773.6 70.6 774.4 70.4 775.1 70.6 775.9 70.8 776.6 70.3 777.4 70.5 778.1 70.1 778.9 70.3 779.6 70.1 780.4 70.5 781.1 70.3 781.9 70 782.6 68.7 783.4 66.9 784.1 64.6 784.9 63.1 785.6 60.7 786.4 58.5 787.1 56.5 787.9 55.9 788.6 55 789.4 52.5 790.1 46.8 790.9 45.1 791.6 47.1 792.4 49.1 793.1 47.6 793.9 43.1 794.6 39.5 795.4 39.6 796.1 40.7 796.9 42.2 797.6 42.3 798.4 39.5 799.1 37.7 799.9 36.7 800.6 37 801.4 38.5 802.1 38.9 802.9 38.6 803.6 38.5 804.4 38.1 805.1 37.7 805.9 38 806.6 38.2 807.4 39 808.1 39.9 808.9 40.2 809.6 41.4 810.4 42.2 811.1 43.4 811.9 44.1 812.6 45.2 813.4 46.1 814.1 47.3 814.9 48.2 815.6 48.6 816.4 49.6 817.1 51 817.9 51.3 818.6 52.6 819.4 53.6 820.1 54.9 820.9 55.6 821.6 56.2 822.4 57.1 823.1 58 823.9 59.3 824.6 59.6 825.4 60.5 826.1 61.5 826.9 62.1 827.6 62.9 828.4 63.4 829.1 64.4 829.9 65 830.6 66.1 831.4 66.7 832.1 67.2 832.9 68.1 833.6 68.5 834.4 69.5 835.1 69.9 835.9 70.6 836.6 70.8 837.4 71.7 838.1 71.7 838.9 72.1 839.6 72.9 840.4 73.1 841.1 73.8 841.9 74.6 842.6 74.2 843.4 74.6 844.1 75.2 844.9 75.5 845.6 75.7 846.4 76 847.1 76.5 847.9 76.7 848.6 76.5 849.4 77 850.1 77.2 850.9 77 851.6 77.5 852.4 77.3 853.1 77.7 853.9 77.6 854.6 77.6 855.4 77.4 856.1 77.5 856.9 77.1 857.6 77.3 858.4 77.7 859.1 77.1 859.9 77.9 860.6 77.2 861.4 77.9 862.1 77.5 862.9 77.9 863.6 77.7 864.4 77.3 865.1 78 865.9 78.1 866.6 77.7 867.4 77.7 868.1 77.7 868.9 77.5 869.6 78 870.4 77.6 871.1 77.8 871.9 77.6 872.6 77.6 873.4 77.5 874.1 78.1 874.9 77.8 875.6 78 876.4 77.8 877.1 77.6 877.9 77.7 878.6 77.7 879.4 77.8 880.1 77.7 880.9 77.7 881.6 77.4 882.4 77.5 883.1 78 883.9 77.4 884.6 77.3 885.4 77.6 886.1 77.8 886.9 77 887.6 77.2 888.4 77 889.1 76.7 889.9 77.2 890.6 76.9 891.4 76.9 892.1 76.6 892.9 76.8 893.6 76.4 894.4 76.5 895.1 76.1 895.9 76 896.6 76.5 897.4 76 898.1 76.1 898.9 75.9 899.6 75.7 900.4 75.6 901.1 75.8 901.9 75.5 902.6 75.4 903.4 75.4 904.1 75.6 904.9 75.3 905.6 75.2 906.4 74.8 907.1 74.5 907.9 75 908.6 74.8 909.4 74.4 910.1 74.5 910.9 74.4 911.6 74.3 912.4 74.2 913.1 73.7 913.9 74.1 914.6 73.3 915.4 73.7 916.1 73.4 916.9 73.4 917.6 73.5 918.4 73.3 919.1 72.5 919.9 72.2 920.6 72.7 921.4 72.1 922.1 72.2 922.9 72.3 923.6 71.5 924.4 71.3 925.1 71.7 925.9 71.5 926.6 71.3 927.4 71.3 928.1 70.9 928.9 70.6 929.6 70.8 930.4 70.5 931.1 70.2 931.9 70.6 932.6 70.3 933.4 70.3 934.1 69.9 934.9 69.8 935.6 69.6 936.4 69.5 937.1 69.6 937.9 69.3 938.6 69.4 939.4 69.3 940.1 69.6 940.9 68.6 941.6 69 942.4 68.7 943.1 68.6 943.9 68.1 944.6 68.2 945.4 68.4 946.1 68 946.9 67.9 947.6 67.7 948.4 67.9 949.1 67.5 949.9 66.8 950.6 67.1 951.4 66.6 952.1 66.2 952.9 66.7 953.6 67 954.4 66.6 955.1 66.1 955.9 66.1 956.6 66.4 957.4 66 958.1 65.9 958.9 65.7 959.6 65.6 960.4 65.6 961.1 65.4 961.9 65.2 962.6 64.7 963.4 65 964.1 64.5 964.9 64.8 965.6 64.1 966.4 64.2 967.1 64.1 967.9 63.6 968.6 64.2 969.4 64 970.1 63.4 970.9 63.5 971.6 63.2 972.4 62.3 973.1 62.9 973.9 62.7 974.6 62.5 975.4 62.1 976.1 62.1 976.9 62 977.6 62.2 978.4 61.8 979.1 61.5 979.9 61.8 980.6 61.1 981.4 60.9 982.1 60.4 982.9 61.1 983.6 60.8 984.4 60.6 985.1 60.4 985.9 60.1 986.6 59.9 987.4 59.6 988.1 59.5 988.9 59.3" fill="none" stroke="#1e1e1e" stroke-width="1.05" stroke-linejoin="round"/>
<path d="M764.6 112.8 765.4 112.5 766.1 112.4 766.9 112.3 767.6 112.2 768.4 112.8 769.1 112.6 769.9 113 770.6 113.5 771.4 113.9 772.1 114.4 772.9 114.6 773.6 114.3 774.4 114.3 775.1 114.3 775.9 114.4 776.6 114 777.4 114.3 778.1 114.2 778.9 111 779.6 107.4 780.4 107.2 781.1 103.3 781.9 99.3 782.6 97.2 783.4 103 784.1 99 784.9 84.3 785.6 82.7 786.4 86.4 787.1 96 787.9 96.4 788.6 94.7 789.4 92.2 790.1 87.8 790.9 85.5 791.6 86.7 792.4 87.6 793.1 90 793.9 89.5 794.6 88 795.4 87.5 796.1 88.5 796.9 89.3 797.6 90.8 798.4 91.8 799.1 92.6 799.9 93.2 800.6 93.2 801.4 92.9 802.1 93.1 802.9 93.7 803.6 95.7 804.4 97.7 805.1 99 805.9 99.8 806.6 100.2 807.4 100.8 808.1 101.4 808.9 102 809.6 103.2 810.4 104.7 811.1 105.6 811.9 106.5 812.6 106.7 813.4 107.5 814.1 107.1 814.9 107.5 815.6 108.4 816.4 108.9 817.1 109.5 817.9 110 818.6 111.2 819.4 111.9 820.1 112.8 820.9 113.7 821.6 113.7 822.4 113.8 823.1 114.2 823.9 114.8 824.6 115.2 825.4 115.4 826.1 116.1 826.9 116.3 827.6 117.4 828.4 118 829.1 118.5 829.9 118.6 830.6 119.3 831.4 119.4 832.1 119.6 832.9 119.9 833.6 119.8 834.4 120 835.1 120.7 835.9 120.6 836.6 120.9 837.4 121.3 838.1 120.8 838.9 121.2 839.6 121.7 840.4 121.9 841.1 121.9 841.9 122.4 842.6 122.4 843.4 122.2 844.1 122.4 844.9 123 845.6 123 846.4 122.6 847.1 123.5 847.9 123.5 848.6 123.8 849.4 123.4 850.1 123.6 850.9 123.4 851.6 124.4 852.4 123.8 853.1 124.3 853.9 123.8 854.6 124 855.4 123.6 856.1 123.9 856.9 124.3 857.6 123.8 858.4 124.4 859.1 124.3 859.9 124 860.6 124.1 861.4 124.2 862.1 124.3 862.9 124.2 863.6 124.1 864.4 124.3 865.1 124.1 865.9 124.1 866.6 124.4 867.4 124.6 868.1 124 868.9 124.4 869.6 124.2 870.4 124.1 871.1 124.6 871.9 124.2 872.6 124.7 873.4 124.1 874.1 124.4 874.9 124.2 875.6 124.1 876.4 124.4 877.1 124.2 877.9 124.3 878.6 124.1 879.4 123.8 880.1 124 880.9 124 881.6 124.2 882.4 123.7 883.1 123.9 883.9 123.4 884.6 124 885.4 123.5 886.1 123.3 886.9 123.7 887.6 123.9 888.4 123.1 889.1 123.2 889.9 123.1 890.6 122.9 891.4 123.2 892.1 122.8 892.9 122.7 893.6 122.9 894.4 122.4 895.1 122.6 895.9 122.1 896.6 121.9 897.4 121.6 898.1 122.3 898.9 121.6 899.6 121.6 900.4 121.4 901.1 121.3 901.9 121.1 902.6 121.4 903.4 120.5 904.1 120.2 904.9 120.2 905.6 120 906.4 120.4 907.1 120.2 907.9 119.6 908.6 119.4 909.4 119.5 910.1 119.8 910.9 118.7 911.6 119.4 912.4 118.8 913.1 119.2 913.9 118.6 914.6 118.7 915.4 118.2 916.1 118.2 916.9 118.7 917.6 118.4 918.4 118 919.1 117.8 919.9 117.4 920.6 117.6 921.4 117.6 922.1 117.5 922.9 117.3 923.6 116.9 924.4 117.1 925.1 117 925.9 117.2 926.6 117.2 927.4 116.6 928.1 116.3 928.9 116.3 929.6 116.1 930.4 115.9 931.1 116 931.9 115.6 932.6 115.9 933.4 115.6 934.1 115.5 934.9 115.3 935.6 115.1 936.4 114.9 937.1 114.9 937.9 114.7 938.6 114.8 939.4 114.6 940.1 114.1 940.9 114.4 941.6 113.9 942.4 114 943.1 113.9 943.9 113.3 944.6 113.7 945.4 113.6 946.1 113.4 946.9 113.2 947.6 113.1 948.4 112.8 949.1 112.9 949.9 112.7 950.6 112.7 951.4 112.3 952.1 112.5 952.9 112.4 953.6 112.2 954.4 112 955.1 112.1 955.9 111.4 956.6 111.8 957.4 111.6 958.1 111.5 958.9 111.4 959.6 111 960.4 111 961.1 111.1 961.9 110.9 962.6 110.7 963.4 110.2 964.1 110.6 964.9 110.6 965.6 110.5 966.4 110.1 967.1 109.6 967.9 110.1 968.6 109.7 969.4 109 970.1 109.6 970.9 109 971.6 108.9 972.4 109 973.1 109.3 973.9 108.8 974.6 108.9 975.4 109.1 976.1 109 976.9 108.4 977.6 108.3 978.4 107.9 979.1 107.9 979.9 108.1 980.6 108 981.4 107.8 982.1 107.9 982.9 107.4 983.6 107.5 984.4 107.5 985.1 107.4 985.9 107.4 986.6 107.1 987.4 106.9 988.1 106.9 988.9 106.5" fill="none" stroke="#333" stroke-width="1.05" stroke-linejoin="round"/>
<path d="M764.5 157.7 765.2 159.2 766 159.9 766.8 160.9 767.5 161.1 768.2 162 769 162.4 769.8 162.8 770.5 162.8 771.2 163.6 772 164.2 772.8 164.3 773.5 164 774.2 163.9 775 163.4 775.8 161.6 776.5 161.2 777.2 160.1 778 158.3 778.8 154.4 779.5 154.7 780.2 154.6 781 144.4 781.8 141.7 782.5 147.5 783.2 143.9 784 135.1 784.8 130.7 785.5 129.5 786.2 133.5 787 138.5 787.8 141 788.5 138.5 789.2 136.2 790 134.9 790.8 134.6 791.5 134.2 792.2 134 793 133.6 793.8 132.5 794.5 132.4 795.2 132.6 796 132.6 796.8 133 797.5 134.4 798.2 135.1 799 135.9 799.8 136.3 800.5 137 801.2 136.9 802 137.4 802.8 137.3 803.5 138.1 804.2 139.8 805 141.2 805.8 143.2 806.5 144.6 807.2 145.6 808 147.1 808.8 148.2 809.5 149.6 810.2 150.3 811 151.4 811.8 152.7 812.5 153.7 813.2 154.4 814 154.6 814.8 155.3 815.5 156.2 816.2 156.4 817 156.7 817.8 157.5 818.5 158.1 819.2 158.3 820 158.5 820.8 159 821.5 159.9 822.2 160 823 160.5 823.8 161.1 824.5 161.6 825.2 161.9 826 162.7 826.8 162.9 827.5 163.6 828.2 164 829 165 829.8 165.2 830.5 165.4 831.2 165.9 832 166.2 832.8 166.7 833.5 166.4 834.2 166.8 835 167.2 835.8 168.2 836.5 168 837.2 168 838 168.4 838.8 168.9 839.5 168.5 840.2 168.6 841 169.2 841.8 169.1 842.5 169.3 843.2 169.2 844 169.9 844.8 170 845.5 169.8 846.2 170 847 169.4 847.8 170.2 848.5 170 849.2 170.3 850 170.4 850.8 170.2 851.5 169.9 852.2 170.4 853 170.2 853.8 170.3 854.5 170.3 855.2 170.4 856 169.9 856.8 170.8 857.5 170.6 858.2 170.8 859 171.1 859.8 170.6 860.5 170.1 861.2 170.4 862 170.3 862.8 170.5 863.5 170.6 864.2 170.1 865 170.7 865.8 170.2 866.5 170.6 867.2 170.5 868 170.4 868.8 170.4 869.5 170.3 870.2 170.2 871 169.9 871.8 170.3 872.5 170.7 873.2 170.6 874 170.4 874.8 170.2 875.5 169.8 876.2 170.3 877 169.8 877.8 169.8 878.5 169.7 879.2 169.7 880 169.5 880.8 169.5 881.5 169.2 882.2 169.3 883 169.8 883.8 169.2 884.5 169 885.2 169.1 886 169 886.8 168.4 887.5 168.5 888.2 168.7 889 168.4 889.8 168.2 890.5 168.4 891.2 167.7 892 167.7 892.8 167.4 893.5 167.7 894.2 166.7 895 166.9 895.8 166.8 896.5 166.9 897.2 166.7 898 166.8 898.8 165.9 899.5 166.3 900.2 165.9 901 165.6 901.8 165.8 902.5 165.2 903.2 164.8 904 165.1 904.8 164.7 905.5 164.7 906.2 164.9 907 164.7 907.8 164.9 908.5 164.3 909.2 163.9 910 163.9 910.8 163.7 911.5 163.5 912.2 163.8 913 163.4 913.8 162.9 914.5 163.5 915.2 163.1 916 163.1 916.8 162.9 917.5 162.9 918.2 162.6 919 162.8 919.8 162.5 920.5 162.3 921.2 162.2 922 161.6 922.8 161.8 923.5 161.6 924.2 161.6 925 161.1 925.8 161.7 926.5 161.2 927.2 160.8 928 160.5 928.8 160.7 929.5 160.7 930.2 160.4 931 160.4 931.8 160.1 932.5 160.3 933.2 159.9 934 159.9 934.8 160.1 935.5 160.3 936.2 159.3 937 159.3 937.8 159.1 938.5 159.4 939.2 158.8 940 158.9 940.8 158.9 941.5 158.5 942.2 158.4 943 158.4 943.8 157.9 944.5 158 945.2 158.1 946 158.2 946.8 158 947.5 157.5 948.2 157.7 949 157.9 949.8 157.7 950.5 157.4 951.2 157.1 952 157.4 952.8 157 953.5 156.7 954.2 156.7 955 157.2 955.8 156.8 956.5 156.9 957.2 156.4 958 156.6 958.8 156.2 959.5 156.2 960.2 156.7 961 156.2 961.8 155.8 962.5 155.8 963.2 155.8 964 155.9 964.8 155.4 965.5 155 966.2 155.2 967 155.2 967.8 155.1 968.5 155.3 969.2 155 970 155 970.8 154.5 971.5 154.9 972.2 155.1 973 154.6 973.8 154.4 974.5 154.3 975.2 154.6 976 153.9 976.8 154 977.5 154 978.2 154 979 153.6 979.8 153.7 980.5 153.5 981.2 153.5 982 153.3 982.8 153 983.5 153.2 984.2 153.3 985 152.8 985.8 152.9 986.5 153 987.2 152.5 988 152.8 988.8 152.4" fill="none" stroke="#7c7c7c" stroke-width="0.95" stroke-linejoin="round"/>
<path d="M764.5 203.1 765.2 204.6 766 205.7 766.8 206.1 767.5 207.3 768.2 207.8 769 208.4 769.8 209.2 770.5 208.7 771.2 209.4 772 209 772.8 209.2 773.5 208.7 774.2 208.1 775 207.9 775.8 207.5 776.5 206.5 777.2 204.6 778 200.4 778.8 196 779.5 202.9 780.2 202.5 781 191.2 781.8 187.6 782.5 193.1 783.2 196 784 189.1 784.8 178.6 785.5 175.4 786.2 175 787 182.3 787.8 186.1 788.5 184.1 789.2 182.5 790 181.5 790.8 180.6 791.5 180.3 792.2 180.2 793 180 793.8 179.4 794.5 179.4 795.2 179.5 796 179.2 796.8 179.6 797.5 179.8 798.2 180 799 180.3 799.8 180.9 800.5 181.3 801.2 181.7 802 182.2 802.8 183.3 803.5 184 804.2 185.2 805 186.4 805.8 187.4 806.5 189 807.2 189.3 808 190.9 808.8 191.8 809.5 193.5 810.2 194.7 811 194.8 811.8 196 812.5 197.3 813.2 198.2 814 198.9 814.8 199.5 815.5 200.4 816.2 201.1 817 201.6 817.8 202.5 818.5 202.3 819.2 203.6 820 203.7 820.8 204.8 821.5 205 822.2 205.3 823 206.1 823.8 206.2 824.5 206.6 825.2 206.9 826 207.7 826.8 208.2 827.5 208.7 828.2 208.7 829 209.4 829.8 209.4 830.5 209.7 831.2 210.1 832 210.5 832.8 210.5 833.5 210.8 834.2 211.1 835 211.4 835.8 211.4 836.5 212.1 837.2 212 838 212.5 838.8 212.4 839.5 212.9 840.2 213.1 841 213.1 841.8 213.9 842.5 213.6 843.2 214.1 844 214.1 844.8 213.8 845.5 214 846.2 214.3 847 214.3 847.8 214.4 848.5 214.4 849.2 214.2 850 214.7 850.8 214.3 851.5 215 852.2 214.8 853 214.9 853.8 215.1 854.5 215.4 855.2 215 856 215 856.8 215.3 857.5 215.1 858.2 215.4 859 216.1 859.8 215.5 860.5 216 861.2 215.6 862 216 862.8 215.9 863.5 216 864.2 216.2 865 216.5 865.8 216.1 866.5 216.1 867.2 215.9 868 216.2 868.8 216 869.5 216.3 870.2 216.1 871 216.5 871.8 215.6 872.5 216 873.2 216.2 874 215.9 874.8 215.8 875.5 215.9 876.2 215.6 877 215.9 877.8 216.5 878.5 216.1 879.2 215.5 880 215.5 880.8 215.6 881.5 215.9 882.2 215.4 883 215.4 883.8 215.8 884.5 215.7 885.2 215.4 886 215.2 886.8 215 887.5 215.1 888.2 214.6 889 215.3 889.8 214.8 890.5 215 891.2 215.2 892 214.9 892.8 214.2 893.5 214.5 894.2 214.5 895 213.8 895.8 213.6 896.5 213.6 897.2 213.1 898 213.7 898.8 212.5 899.5 212.7 900.2 212.7 901 212.5 901.8 212.4 902.5 212.3 903.2 212 904 212.1 904.8 211.1 905.5 211.5 906.2 211.1 907 211.2 907.8 211 908.5 210.6 909.2 210.5 910 210.7 910.8 210.4 911.5 210 912.2 210.6 913 210.5 913.8 209.4 914.5 209.7 915.2 210.1 916 209.5 916.8 209.3 917.5 209 918.2 208.8 919 208.7 919.8 208.5 920.5 208.7 921.2 208.2 922 208.1 922.8 207.8 923.5 207.9 924.2 207.6 925 207.6 925.8 207.8 926.5 207.4 927.2 207.3 928 207.2 928.8 207 929.5 206.8 930.2 206.6 931 206.7 931.8 206.1 932.5 206.6 933.2 206.1 934 205.8 934.8 205.8 935.5 205.6 936.2 205.7 937 205.3 937.8 205.7 938.5 205 939.2 204.6 940 204.8 940.8 204.4 941.5 204.7 942.2 204.9 943 204.7 943.8 204.1 944.5 204.1 945.2 204.6 946 204.1 946.8 203.9 947.5 204.1 948.2 204.3 949 203.9 949.8 203.5 950.5 203.4 951.2 203.4 952 203 952.8 202.7 953.5 202.9 954.2 202.5 955 202.6 955.8 202.6 956.5 203 957.2 202.1 958 202.2 958.8 202.1 959.5 202.1 960.2 202.1 961 201.6 961.8 201.5 962.5 201.1 963.2 201.2 964 201.5 964.8 201.2 965.5 200.9 966.2 200.9 967 200.9 967.8 200.9 968.5 200.6 969.2 200.5 970 200 970.8 200.1 971.5 200.7 972.2 199.6 973 200 973.8 200 974.5 199.8 975.2 199.6 976 199.7 976.8 199.6 977.5 199.5 978.2 198.9 979 199.3 979.8 199 980.5 199 981.2 199.1 982 199.1 982.8 199.1 983.5 198.6 984.2 198.9 985 198.9 985.8 198.8 986.5 198.7 987.2 198.3 988 198.2 988.8 198.3" fill="none" stroke="#7c7c7c" stroke-width="0.95" stroke-linejoin="round"/>
<path d="M764.5 249.6 765.2 252.5 766 254.3 766.8 255.6 767.5 255.3 768.2 255.5 769 255.8 769.8 256.1 770.5 256.1 771.2 255.8 772 255.7 772.8 253.8 773.5 251.3 774.2 249.2 775 251 775.8 254.9 776.5 252.8 777.2 243.2 778 241.8 778.8 248.8 779.5 249.1 780.2 242.7 781 234 781.8 230.1 782.5 240.2 783.2 239.8 784 234.2 784.8 225.9 785.5 220.6 786.2 220.3 787 223 787.8 230.8 788.5 232.7 789.2 230.4 790 228.2 790.8 227.1 791.5 225.7 792.2 225.4 793 225.1 793.8 224.5 794.5 224.6 795.2 224.2 796 224.4 796.8 225.8 797.5 226.5 798.2 227.3 799 228.3 799.8 228.8 800.5 228.5 801.2 227.4 802 227.5 802.8 227.5 803.5 228 804.2 229.8 805 231.9 805.8 233.2 806.5 234.5 807.2 236.4 808 236.5 808.8 237 809.5 238.2 810.2 238.9 811 239.3 811.8 240.4 812.5 240.7 813.2 241.2 814 242.3 814.8 243.1 815.5 243.3 816.2 244.2 817 244.7 817.8 246.2 818.5 245.7 819.2 246.8 820 246.9 820.8 247.4 821.5 248.1 822.2 248.7 823 249.2 823.8 249.4 824.5 249.5 825.2 250 826 250.7 826.8 251.1 827.5 251.7 828.2 251.8 829 252.4 829.8 252.9 830.5 252.8 831.2 252.7 832 253.1 832.8 253.4 833.5 254.6 834.2 254.2 835 255.2 835.8 255.3 836.5 255.9 837.2 256 838 256 838.8 256.2 839.5 256.6 840.2 256.9 841 257 841.8 257.4 842.5 258.2 843.2 257.5 844 258.3 844.8 258.2 845.5 258.8 846.2 259.2 847 259.2 847.8 259.6 848.5 259.1 849.2 260.2 850 259.8 850.8 260.4 851.5 260.4 852.2 259.8 853 260.5 853.8 261 854.5 261.6 855.2 261.3 856 261.5 856.8 261.1 857.5 262.1 858.2 262.3 859 261.8 859.8 261.8 860.5 261.4 861.2 262.2 862 262.7 862.8 262.1 863.5 262.3 864.2 262.1 865 261.6 865.8 262.3 866.5 261.5 867.2 261.8 868 262 868.8 262.2 869.5 262 870.2 262 871 261.7 871.8 261.5 872.5 261.9 873.2 261.7 874 261.5 874.8 261.5 875.5 261.7 876.2 261.3 877 261.4 877.8 261.3 878.5 261.8 879.2 261.8 880 262.2 880.8 261.1 881.5 261.2 882.2 261.6 883 261.2 883.8 261.1 884.5 261.6 885.2 260.9 886 260.5 886.8 260.4 887.5 260.8 888.2 260.6 889 260 889.8 260 890.5 260.4 891.2 260.2 892 259.8 892.8 260 893.5 259.9 894.2 259.1 895 259.4 895.8 259.5 896.5 259.1 897.2 258.5 898 258.9 898.8 259.1 899.5 259.2 900.2 257.9 901 259.2 901.8 258 902.5 258.4 903.2 258.4 904 258.1 904.8 257.7 905.5 257.1 906.2 257.5 907 256.9 907.8 256.2 908.5 257.6 909.2 256.8 910 257 910.8 256 911.5 256.5 912.2 256.4 913 256.2 913.8 255.5 914.5 255 915.2 255.1 916 254.3 916.8 254.3 917.5 254.7 918.2 254.2 919 254.2 919.8 254.1 920.5 254.5 921.2 254.2 922 253.6 922.8 253.8 923.5 253.1 924.2 253 925 253.3 925.8 252.5 926.5 252.6 927.2 252.2 928 252.4 928.8 252.8 929.5 251.9 930.2 252 931 251.6 931.8 251.3 932.5 251.2 933.2 251.8 934 252 934.8 251.3 935.5 250.7 936.2 251 937 250.6 937.8 250.8 938.5 250.5 939.2 250.3 940 250.3 940.8 249.8 941.5 249.7 942.2 249.2 943 249.4 943.8 249 944.5 249.3 945.2 248.9 946 249.1 946.8 249 947.5 248.4 948.2 248.4 949 248.2 949.8 248.6 950.5 248.8 951.2 248.4 952 247.9 952.8 248.3 953.5 247.3 954.2 248.1 955 247.3 955.8 246.5 956.5 248 957.2 247.6 958 246.7 958.8 246.9 959.5 246.7 960.2 246.7 961 246.1 961.8 246.2 962.5 246.4 963.2 246.2 964 246.4 964.8 246 965.5 246.5 966.2 245.5 967 245.7 967.8 244.9 968.5 245 969.2 245.6 970 244.8 970.8 245.2 971.5 244.9 972.2 244.5 973 244.6 973.8 244.4 974.5 244.3 975.2 244.6 976 244.4 976.8 243.9 977.5 243.7 978.2 244 979 243.7 979.8 244 980.5 244.4 981.2 243.7 982 243.3 982.8 243.2 983.5 242.9 984.2 242.8 985 242.6 985.8 242.7 986.5 242.6 987.2 242.9 988 242.4 988.8 242.4" fill="none" stroke="#1e1e1e" stroke-width="1.05" stroke-linejoin="round"/>
<path d="M1004.5 54.7 1005.2 57.3 1006 56.3 1006.8 57.5 1007.5 56.7 1008.2 57.3 1009 55.7 1009.8 56.6 1010.5 58.4 1011.2 54.9 1012 57.1 1012.8 57.5 1013.5 56.4 1014.2 56.6 1015 56.3 1015.8 53.1 1016.5 52.2 1017.2 49 1018 47.4 1018.8 45.7 1019.5 44.2 1020.2 42.6 1021 41.4 1021.8 38.4 1022.5 40.3 1023.2 38.6 1024 37.9 1024.8 37 1025.5 37.7 1026.2 38.9 1027 39.4 1027.8 38.1 1028.5 41.1 1029.2 43.9 1030 40.5 1030.8 44.1 1031.5 44.6 1032.2 45.3 1033 48 1033.8 47 1034.5 49.6 1035.2 52.1 1036 51.8 1036.8 52.7 1037.5 54.3 1038.2 54.9 1039 57.7 1039.8 56.4 1040.5 58.9 1041.2 57.7 1042 60.2 1042.8 60.3 1043.5 58.7 1044.2 61.7 1045 61.4 1045.8 62.7 1046.5 65.1 1047.2 63.3 1048 64 1048.8 66.9 1049.5 66.3 1050.2 68.2 1051 67.7 1051.8 67.3 1052.5 68.7 1053.2 70.5 1054 70.8 1054.8 70.6 1055.5 71.2 1056.2 71.7 1057 71.8 1057.8 74.7 1058.5 73.4 1059.2 72.8 1060 73.9 1060.8 75.4 1061.5 75.8 1062.2 75.5 1063 75.4 1063.8 76.4 1064.5 75.1 1065.2 75.7 1066 77.7 1066.8 76.6 1067.5 77.5 1068.2 78.3 1069 77.9 1069.8 77.4 1070.5 79.4 1071.2 78.1 1072 77.2 1072.8 78.2 1073.5 77.9 1074.2 76.8 1075 77.7 1075.8 77.4 1076.5 75.8 1077.2 77.4 1078 77.3 1078.8 77 1079.5 75.8 1080.2 76.9 1081 77 1081.8 77 1082.5 75.6 1083.2 77.1 1084 75.1 1084.8 75.8 1085.5 77 1086.2 74.9 1087 74.9 1087.8 76.1 1088.5 74.5 1089.2 74.4 1090 74.7 1090.8 75.3 1091.5 72.1 1092.2 73.1 1093 72.8 1093.8 72.5 1094.5 72.5 1095.2 72.3 1096 73.1 1096.8 71.8 1097.5 72.5 1098.2 72.6 1099 71.3 1099.8 71.9 1100.5 73.1 1101.2 71.6 1102 70.5 1102.8 70.9 1103.5 69.9 1104.2 70.8 1105 71.1 1105.8 69.4 1106.5 69.7 1107.2 70.8 1108 69.1 1108.8 69.5 1109.5 68.2 1110.2 68.2 1111 68.3 1111.8 70.6 1112.5 68.1 1113.2 67.8 1114 67.6 1114.8 67.8 1115.5 68.3 1116.2 67.7 1117 69.3 1117.8 67.4 1118.5 68.4 1119.2 67.1 1120 67.3 1120.8 65.2 1121.5 66.3 1122.2 66.1 1123 65.8 1123.8 63.9 1124.5 66.5 1125.2 65.2 1126 65 1126.8 65 1127.5 64.8 1128.2 65.2 1129 63.6 1129.8 63.7 1130.5 64.6 1131.2 64.3 1132 63.6 1132.8 63.3 1133.5 62.9 1134.2 63.4 1135 64.3 1135.8 62.1 1136.5 64.3 1137.2 63.5 1138 62.1 1138.8 63.1 1139.5 60.9 1140.2 60.5 1141 60.8 1141.8 61.4 1142.5 61.4 1143.2 61.1 1144 61.5 1144.8 59.4 1145.5 61.7 1146.2 59.9 1147 60.5 1147.8 60.7 1148.5 60 1149.2 59.7 1150 60 1150.8 60.8 1151.5 61.3 1152.2 61.2 1153 59.8 1153.8 59.9 1154.5 59.7 1155.2 60.9 1156 58.6 1156.8 61.5 1157.5 60 1158.2 59.6 1159 60.6 1159.8 61.2 1160.5 60.5 1161.2 61.1 1162 60.3 1162.8 61.2 1163.5 61.2 1164.2 59.9 1165 61.3 1165.8 60.1 1166.5 60 1167.2 59 1168 59.6 1168.8 60.5 1169.5 58.6 1170.2 60.3 1171 60 1171.8 59.9 1172.5 57.6 1173.2 59.4 1174 60.1 1174.8 58.8 1175.5 59.5 1176.2 57.2 1177 59.9 1177.8 58.7 1178.5 60.1 1179.2 57.6 1180 59.8 1180.8 59 1181.5 59.9 1182.2 58.3 1183 58.6 1183.8 61.1 1184.5 58.4 1185.2 58.5 1186 58.9 1186.8 58.2 1187.5 60.2 1188.2 60.7 1189 58.6 1189.8 57.7 1190.5 60.4 1191.2 60.4 1192 60.2 1192.8 60.6 1193.5 58.9 1194.2 59.6 1195 58.6 1195.8 58.7 1196.5 61 1197.2 59.6 1198 62.4 1198.8 60.5 1199.5 60 1200.2 61.4 1201 62.4 1201.8 61.3 1202.5 59.9 1203.2 61.4 1204 62.3 1204.8 60.7 1205.5 60.5 1206.2 62.2 1207 61.4 1207.8 60.3 1208.5 61 1209.2 60.6 1210 61.6 1210.8 61.4 1211.5 62.3 1212.2 61.9 1213 59.9 1213.8 61.7 1214.5 62.1 1215.2 61.7 1216 62.2 1216.8 60.8 1217.5 60.4 1218.2 62.1 1219 60.3 1219.8 59.4 1220.5 62.2 1221.2 60.6 1222 61 1222.8 60 1223.5 60.1 1224.2 60.3 1225 61 1225.8 61.6 1226.5 59.2 1227.2 62 1228 60.2 1228.8 60.3 1229.5 61.9 1230.2 61.2 1231 59.9 1231.8 63 1232.5 60.5 1233.2 61.5 1234 61.5" fill="none" stroke="#1e1e1e" stroke-width="1.05" stroke-linejoin="round"/>
<path d="M1004.5 108 1005.2 107.2 1006 108.6 1006.8 107.7 1007.5 109.2 1008.2 108.1 1009 108.5 1009.8 110.1 1010.5 109 1011.2 108.9 1012 110.3 1012.8 108.3 1013.5 106.4 1014.2 106 1015 103.2 1015.8 103 1016.5 100.7 1017.2 97 1018 94.4 1018.8 92.8 1019.5 90.8 1020.2 88.4 1021 88 1021.8 84.9 1022.5 85 1023.2 84.1 1024 83.3 1024.8 83.1 1025.5 81.7 1026.2 83.2 1027 83.7 1027.8 84.9 1028.5 86.1 1029.2 87.6 1030 90.2 1030.8 90.9 1031.5 93.2 1032.2 95.4 1033 96.7 1033.8 98.2 1034.5 97.8 1035.2 98.2 1036 100.7 1036.8 101.4 1037.5 103.3 1038.2 103.8 1039 105.9 1039.8 106.8 1040.5 107.5 1041.2 108.1 1042 108.5 1042.8 109 1043.5 109.6 1044.2 111 1045 111.2 1045.8 114.6 1046.5 115.4 1047.2 118 1048 118.6 1048.8 119.4 1049.5 121.9 1050.2 120.9 1051 120.8 1051.8 121.7 1052.5 122.3 1053.2 124.4 1054 123.3 1054.8 124.1 1055.5 122.9 1056.2 123.8 1057 124.1 1057.8 124.9 1058.5 123.1 1059.2 124 1060 123.8 1060.8 122.9 1061.5 123.5 1062.2 123.4 1063 121.9 1063.8 123.9 1064.5 123.9 1065.2 123.2 1066 122.6 1066.8 124.5 1067.5 123.6 1068.2 124.2 1069 124.4 1069.8 123 1070.5 124 1071.2 123.2 1072 123.3 1072.8 123.2 1073.5 123.3 1074.2 124 1075 123.2 1075.8 123 1076.5 122.9 1077.2 123.2 1078 122.3 1078.8 122.5 1079.5 122.8 1080.2 122.3 1081 122.6 1081.8 122.2 1082.5 123.9 1083.2 123.4 1084 122.7 1084.8 122.3 1085.5 123.8 1086.2 122.4 1087 122 1087.8 122.2 1088.5 122.1 1089.2 122.8 1090 121.7 1090.8 123.1 1091.5 120.9 1092.2 121.9 1093 120.6 1093.8 122.5 1094.5 120.9 1095.2 121 1096 121.6 1096.8 121.7 1097.5 119.9 1098.2 120.4 1099 119.5 1099.8 120.5 1100.5 120.2 1101.2 119.9 1102 119.6 1102.8 119.7 1103.5 119.3 1104.2 120.1 1105 120.7 1105.8 118.2 1106.5 119.3 1107.2 119 1108 119.5 1108.8 118.4 1109.5 118.8 1110.2 118.1 1111 119.2 1111.8 118.7 1112.5 118.4 1113.2 118.6 1114 118 1114.8 117 1115.5 118.4 1116.2 118 1117 117.6 1117.8 118.3 1118.5 118.3 1119.2 116.6 1120 116.7 1120.8 118.2 1121.5 118 1122.2 116.3 1123 115.9 1123.8 116.2 1124.5 116.1 1125.2 115.3 1126 116.3 1126.8 115.2 1127.5 115.2 1128.2 116.6 1129 115.3 1129.8 115.7 1130.5 116.1 1131.2 116.1 1132 115.2 1132.8 115.4 1133.5 114.7 1134.2 116.4 1135 115.6 1135.8 114.3 1136.5 115 1137.2 115.4 1138 115.2 1138.8 116 1139.5 115.6 1140.2 114.2 1141 114.5 1141.8 113.6 1142.5 114.6 1143.2 114.5 1144 116.2 1144.8 114.3 1145.5 112.7 1146.2 113.7 1147 114.1 1147.8 113.1 1148.5 113.3 1149.2 113.6 1150 114.1 1150.8 113.7 1151.5 113.1 1152.2 114.2 1153 113.3 1153.8 113.2 1154.5 112.6 1155.2 112.9 1156 113.9 1156.8 112.3 1157.5 113.3 1158.2 113.8 1159 113 1159.8 113.4 1160.5 112.4 1161.2 114 1162 113.8 1162.8 113.2 1163.5 111.7 1164.2 112.2 1165 113.6 1165.8 114 1166.5 113 1167.2 113.6 1168 112.3 1168.8 112.5 1169.5 112.6 1170.2 112.9 1171 111.5 1171.8 113.1 1172.5 113.4 1173.2 111.6 1174 111.4 1174.8 112.6 1175.5 111.8 1176.2 110.6 1177 112.7 1177.8 112.2 1178.5 111.8 1179.2 113.5 1180 112.1 1180.8 111.4 1181.5 112 1182.2 111.1 1183 111.3 1183.8 112 1184.5 111.3 1185.2 111.4 1186 112.8 1186.8 112.2 1187.5 112.1 1188.2 111.9 1189 111.8 1189.8 112.4 1190.5 111.4 1191.2 112.6 1192 110.6 1192.8 111.1 1193.5 110.3 1194.2 110.9 1195 111.5 1195.8 112.1 1196.5 110.6 1197.2 111.1 1198 110.8 1198.8 110.5 1199.5 110.1 1200.2 111 1201 109.7 1201.8 110.9 1202.5 110.9 1203.2 110.4 1204 110.1 1204.8 109.8 1205.5 112.1 1206.2 109.8 1207 111.8 1207.8 111.1 1208.5 110.4 1209.2 109.9 1210 111.4 1210.8 111.9 1211.5 110 1212.2 110.4 1213 111.4 1213.8 110.8 1214.5 112 1215.2 110.2 1216 110.9 1216.8 109.7 1217.5 112 1218.2 110 1219 109 1219.8 110.4 1220.5 110.4 1221.2 111.8 1222 110.2 1222.8 110.5 1223.5 110.9 1224.2 111.6 1225 110.4 1225.8 111.2 1226.5 110.8 1227.2 110.2 1228 110.5 1228.8 110.4 1229.5 109.8 1230.2 111.3 1231 109.4 1231.8 111.2 1232.5 111.1 1233.2 110.3 1234 109.9" fill="none" stroke="#333" stroke-width="1.05" stroke-linejoin="round"/>
<path d="M1004.5 156.4 1005.2 157.1 1006 157.5 1006.8 157.6 1007.5 157.9 1008.2 157.4 1009 157.5 1009.8 156.6 1010.5 157.1 1011.2 156.5 1012 155.9 1012.8 156 1013.5 155.1 1014.2 153 1015 152.9 1015.8 149.4 1016.5 145.1 1017.2 143.2 1018 141.1 1018.8 140.6 1019.5 139.9 1020.2 139.4 1021 138.4 1021.8 137 1022.5 133.5 1023.2 131 1024 129 1024.8 130.8 1025.5 133.2 1026.2 135.1 1027 135.4 1027.8 133.7 1028.5 132.8 1029.2 133.5 1030 135 1030.8 135.6 1031.5 137.8 1032.2 139.3 1033 140.4 1033.8 141.5 1034.5 143 1035.2 143.8 1036 144.9 1036.8 145.7 1037.5 146.7 1038.2 145.9 1039 147.4 1039.8 147.2 1040.5 147.6 1041.2 147.9 1042 148.5 1042.8 150.7 1043.5 152.8 1044.2 155.3 1045 156.1 1045.8 158.3 1046.5 158.9 1047.2 159.6 1048 160.3 1048.8 161.1 1049.5 161.8 1050.2 163 1051 164.3 1051.8 165.3 1052.5 165.8 1053.2 166.8 1054 166.8 1054.8 167.1 1055.5 167.7 1056.2 167.2 1057 166.8 1057.8 166.3 1058.5 166.4 1059.2 166.2 1060 167.1 1060.8 166.5 1061.5 166.9 1062.2 166.7 1063 167 1063.8 167.6 1064.5 166.9 1065.2 167.2 1066 167.1 1066.8 167.9 1067.5 167.4 1068.2 167.5 1069 167.6 1069.8 167.7 1070.5 168.5 1071.2 169.4 1072 168.4 1072.8 169.2 1073.5 169.1 1074.2 168.8 1075 169.2 1075.8 169.3 1076.5 169.3 1077.2 170.3 1078 169 1078.8 169.9 1079.5 169.9 1080.2 169.6 1081 169.8 1081.8 170.1 1082.5 169.8 1083.2 169.9 1084 169.9 1084.8 168.9 1085.5 170.1 1086.2 170.3 1087 169.7 1087.8 169.7 1088.5 168.7 1089.2 169.1 1090 168.7 1090.8 168.7 1091.5 169.1 1092.2 168.4 1093 168.5 1093.8 167.7 1094.5 168.2 1095.2 168.1 1096 167.7 1096.8 167.6 1097.5 168.3 1098.2 167.1 1099 167 1099.8 167 1100.5 167.5 1101.2 167.7 1102 166.9 1102.8 166.4 1103.5 166.4 1104.2 166.8 1105 165.9 1105.8 166.6 1106.5 166.5 1107.2 165.9 1108 166 1108.8 165.9 1109.5 166.1 1110.2 165.1 1111 165.8 1111.8 165.1 1112.5 164.9 1113.2 165.1 1114 164.9 1114.8 164.6 1115.5 164.2 1116.2 164.4 1117 165.1 1117.8 165.2 1118.5 164.7 1119.2 164.7 1120 164.1 1120.8 164.1 1121.5 164.2 1122.2 163.6 1123 163.5 1123.8 163.8 1124.5 163.6 1125.2 163.2 1126 163.6 1126.8 163.3 1127.5 163.7 1128.2 163.2 1129 163 1129.8 163.1 1130.5 162.9 1131.2 162.7 1132 162.7 1132.8 163 1133.5 162.9 1134.2 163 1135 161.9 1135.8 162.3 1136.5 162.2 1137.2 162.3 1138 162 1138.8 161.9 1139.5 162.3 1140.2 162 1141 161.4 1141.8 162.2 1142.5 162 1143.2 161.4 1144 161.8 1144.8 161.2 1145.5 161.8 1146.2 161.3 1147 161 1147.8 161.1 1148.5 160.9 1149.2 161.1 1150 161.1 1150.8 160.9 1151.5 160.7 1152.2 159.5 1153 160.8 1153.8 160 1154.5 160.7 1155.2 161 1156 160.6 1156.8 160.3 1157.5 160.3 1158.2 160.3 1159 160.1 1159.8 160 1160.5 159.9 1161.2 160.5 1162 160.1 1162.8 160.4 1163.5 159.9 1164.2 159.9 1165 159.8 1165.8 160 1166.5 160.1 1167.2 159.8 1168 159.4 1168.8 159.3 1169.5 160.1 1170.2 159.4 1171 159.4 1171.8 159.9 1172.5 159.7 1173.2 159.5 1174 159.1 1174.8 160 1175.5 159.3 1176.2 159.3 1177 159 1177.8 158.5 1178.5 158.5 1179.2 159.1 1180 159 1180.8 158.8 1181.5 158.4 1182.2 158.3 1183 158.6 1183.8 158.2 1184.5 158.9 1185.2 159 1186 159.5 1186.8 158.8 1187.5 158.2 1188.2 158.1 1189 157.2 1189.8 158.1 1190.5 158.2 1191.2 158.6 1192 158.4 1192.8 158.3 1193.5 158.2 1194.2 158.3 1195 158.5 1195.8 157.6 1196.5 157.8 1197.2 157.4 1198 158.4 1198.8 158.2 1199.5 158 1200.2 157.3 1201 157.7 1201.8 157.5 1202.5 157.6 1203.2 157.5 1204 157.7 1204.8 157.3 1205.5 157.7 1206.2 157.4 1207 157.2 1207.8 157.2 1208.5 157.1 1209.2 157.5 1210 157.1 1210.8 157.2 1211.5 156.9 1212.2 156.5 1213 157.3 1213.8 156.6 1214.5 157.1 1215.2 157 1216 156.2 1216.8 156.4 1217.5 156.6 1218.2 156.4 1219 156.2 1219.8 156.9 1220.5 156.5 1221.2 156.7 1222 156.4 1222.8 156.6 1223.5 156.2 1224.2 156.4 1225 156.6 1225.8 156.3 1226.5 156.1 1227.2 155.9 1228 156.3 1228.8 156.3 1229.5 156 1230.2 155.8 1231 156.2 1231.8 156.9 1232.5 155.9 1233.2 156.1 1234 156" fill="none" stroke="#555" stroke-width="1.0" stroke-linejoin="round"/>
<path d="M1004.5 201.6 1005.2 203.1 1006 203.3 1006.8 204.3 1007.5 203.9 1008.2 203.9 1009 204.1 1009.8 204.3 1010.5 204 1011.2 203.8 1012 202.8 1012.8 202.6 1013.5 202.1 1014.2 201.2 1015 199.1 1015.8 196.8 1016.5 192.8 1017.2 188.6 1018 188 1018.8 187.5 1019.5 186.7 1020.2 186.2 1021 181.7 1021.8 176.6 1022.5 175.3 1023.2 174.2 1024 175.4 1024.8 179.9 1025.5 178.8 1026.2 178.2 1027 176.6 1027.8 174.6 1028.5 174.7 1029.2 175.4 1030 177.3 1030.8 179.4 1031.5 179.4 1032.2 178 1033 178.3 1033.8 178 1034.5 178.3 1035.2 179.4 1036 180.1 1036.8 181.7 1037.5 183.4 1038.2 185.1 1039 186.8 1039.8 187.7 1040.5 189 1041.2 190.8 1042 191.8 1042.8 193.2 1043.5 193.7 1044.2 195.4 1045 196.9 1045.8 198.7 1046.5 200.4 1047.2 202.8 1048 204.2 1048.8 205.9 1049.5 207.2 1050.2 208.5 1051 209.2 1051.8 210.6 1052.5 211 1053.2 211.2 1054 211.4 1054.8 211.8 1055.5 212.1 1056.2 212.3 1057 212.2 1057.8 212.5 1058.5 212.3 1059.2 212.9 1060 212.6 1060.8 212.1 1061.5 213.4 1062.2 213.2 1063 213 1063.8 213.6 1064.5 213.5 1065.2 214.8 1066 214.5 1066.8 214 1067.5 215 1068.2 214.9 1069 215.9 1069.8 215 1070.5 214.8 1071.2 215.8 1072 215.8 1072.8 215.9 1073.5 215.4 1074.2 216.4 1075 216.9 1075.8 215.6 1076.5 216.7 1077.2 216.1 1078 217.1 1078.8 216.4 1079.5 216.1 1080.2 216.5 1081 216.2 1081.8 215.7 1082.5 216.1 1083.2 215.6 1084 215.1 1084.8 216.3 1085.5 215.3 1086.2 215.1 1087 215.3 1087.8 214.6 1088.5 214.5 1089.2 214.7 1090 214.5 1090.8 214.6 1091.5 214.8 1092.2 214.1 1093 214.3 1093.8 214.2 1094.5 213.5 1095.2 213.8 1096 213.3 1096.8 213.9 1097.5 213.5 1098.2 213.3 1099 212.7 1099.8 213.1 1100.5 212.7 1101.2 213.1 1102 212.7 1102.8 212.3 1103.5 212.8 1104.2 212.6 1105 212 1105.8 212.5 1106.5 211.9 1107.2 211.8 1108 211.8 1108.8 211.4 1109.5 211.4 1110.2 211.4 1111 211.8 1111.8 211.7 1112.5 211 1113.2 211.5 1114 210.8 1114.8 210.8 1115.5 210.9 1116.2 210.5 1117 211.2 1117.8 210.3 1118.5 209.6 1119.2 210.4 1120 209.7 1120.8 209.6 1121.5 208.5 1122.2 209.8 1123 209.6 1123.8 209.5 1124.5 209.4 1125.2 209.6 1126 208.8 1126.8 209.1 1127.5 208.4 1128.2 208.4 1129 208.8 1129.8 208.4 1130.5 207.7 1131.2 208.2 1132 207.9 1132.8 207.6 1133.5 207.9 1134.2 207.5 1135 207 1135.8 207.1 1136.5 208 1137.2 206.8 1138 207.3 1138.8 207.3 1139.5 207.3 1140.2 206.5 1141 206.8 1141.8 206.9 1142.5 207 1143.2 206.4 1144 206.2 1144.8 206.9 1145.5 206.8 1146.2 206.5 1147 206.1 1147.8 206.4 1148.5 206.2 1149.2 206.4 1150 205.6 1150.8 206 1151.5 205.8 1152.2 205.4 1153 205.8 1153.8 205.7 1154.5 205.5 1155.2 205.7 1156 205 1156.8 205.4 1157.5 205.5 1158.2 205.4 1159 205.6 1159.8 204.7 1160.5 204.6 1161.2 205.1 1162 205.1 1162.8 205.6 1163.5 205.1 1164.2 204.5 1165 205 1165.8 204.4 1166.5 204.1 1167.2 205.5 1168 204.6 1168.8 204.7 1169.5 204.6 1170.2 205 1171 204.4 1171.8 204.6 1172.5 203.8 1173.2 203.6 1174 204.5 1174.8 204.5 1175.5 204.1 1176.2 204 1177 203.9 1177.8 203.5 1178.5 204.3 1179.2 203.9 1180 203.8 1180.8 203.7 1181.5 203.9 1182.2 203.7 1183 203.7 1183.8 203 1184.5 203.5 1185.2 204.1 1186 203.1 1186.8 203.2 1187.5 203.5 1188.2 203.4 1189 203.3 1189.8 202.4 1190.5 203.1 1191.2 202.5 1192 202.6 1192.8 203 1193.5 202.7 1194.2 203 1195 203.8 1195.8 202.9 1196.5 202.9 1197.2 202.3 1198 202.3 1198.8 202.1 1199.5 202.3 1200.2 202 1201 202.1 1201.8 202.2 1202.5 201.9 1203.2 201.7 1204 201.7 1204.8 202.3 1205.5 202.1 1206.2 202.4 1207 202.4 1207.8 201.9 1208.5 202.2 1209.2 201.4 1210 202.7 1210.8 202.2 1211.5 201.7 1212.2 201.3 1213 201.8 1213.8 201 1214.5 201.4 1215.2 201.9 1216 201.6 1216.8 201.4 1217.5 201.8 1218.2 201.1 1219 201.5 1219.8 201.2 1220.5 201.1 1221.2 201.5 1222 200.9 1222.8 201.9 1223.5 201 1224.2 201.9 1225 200.8 1225.8 201.3 1226.5 200.7 1227.2 200.6 1228 201.1 1228.8 201.2 1229.5 200.5 1230.2 201.4 1231 200.6 1231.8 200.9 1232.5 201 1233.2 201 1234 200.2" fill="none" stroke="#7a7a7a" stroke-width="0.95" stroke-linejoin="round"/>
<path d="M1004.4 251.9 1005.1 252.7 1005.9 253 1006.6 253.2 1007.4 253 1008.1 252.6 1008.9 252.2 1009.6 250.5 1010.4 248.8 1011.1 247 1011.9 245.5 1012.6 242.7 1013.4 240.8 1014.1 239.5 1014.9 237.4 1015.6 236.2 1016.4 235.9 1017.1 236.1 1017.9 236.6 1018.6 235.3 1019.4 232.2 1020.1 231.2 1020.9 232 1021.6 232.9 1022.4 232.8 1023.1 231 1023.9 228.6 1024.7 227.3 1025.4 226.2 1026.2 225.7 1026.9 225.2 1027.7 224.4 1028.4 224 1029.2 223.9 1029.9 223.4 1030.7 222.6 1031.4 222.4 1032.2 221.7 1032.9 221 1033.7 221.1 1034.4 221.7 1035.2 220.8 1035.9 221.6 1036.7 222 1037.4 222.3 1038.2 221.8 1038.9 223.2 1039.7 223.1 1040.4 223.6 1041.2 224.5 1041.9 226.2 1042.7 228 1043.4 230.2 1044.2 232.9 1044.9 234.7 1045.7 237.3 1046.4 240.6 1047.2 242.6 1047.9 244.6 1048.7 245.5 1049.4 247.6 1050.2 248.3 1050.9 249.5 1051.7 249 1052.4 250 1053.2 250.3 1053.9 250.3 1054.7 251 1055.4 252.1 1056.2 252 1056.9 252.4 1057.7 253.4 1058.4 253.8 1059.2 254.2 1059.9 254 1060.7 254.6 1061.4 255.3 1062.2 255.1 1062.9 255.4 1063.7 256.4 1064.4 257 1065.2 256.3 1065.9 256.2 1066.7 256.9 1067.4 257.3 1068.2 257.9 1068.9 258.4 1069.7 258.4 1070.4 258.4 1071.2 258.9 1071.9 258.7 1072.7 259.2 1073.4 259.2 1074.2 260.6 1074.9 260.1 1075.7 259.7 1076.4 259.8 1077.2 260.2 1077.9 260 1078.7 260.5 1079.4 260.6 1080.2 261.4 1080.9 261.1 1081.7 261.1 1082.4 261 1083.2 261.2 1083.9 261.7 1084.7 261.7 1085.4 262.3 1086.2 261.7 1086.9 262.4 1087.7 262.2 1088.4 262.1 1089.2 261.4 1089.9 261.6 1090.7 262.3 1091.4 262.5 1092.2 262.1 1092.9 262.2 1093.7 261.7 1094.4 261.6 1095.2 261.4 1095.9 261.9 1096.7 261.6 1097.4 261.2 1098.2 261.1 1098.9 261.2 1099.7 261 1100.4 260.5 1101.2 261.2 1101.9 260.6 1102.7 260.3 1103.4 260.7 1104.2 260.4 1104.9 259.8 1105.7 259.9 1106.4 259.2 1107.2 259.2 1107.9 258.5 1108.7 259.6 1109.4 258.4 1110.2 259.2 1110.9 258.6 1111.7 258.4 1112.4 258.6 1113.2 258.7 1113.9 258.7 1114.7 259 1115.4 258.4 1116.2 258.5 1116.9 257.9 1117.7 258.2 1118.4 257.9 1119.2 257.6 1119.9 257.6 1120.7 257.5 1121.4 257.5 1122.2 257.5 1122.9 257.1 1123.7 256.9 1124.4 257.3 1125.2 256.4 1125.9 256.7 1126.7 257.3 1127.4 255.7 1128.2 256.4 1128.9 256.7 1129.7 255.8 1130.4 257.2 1131.2 255.3 1131.9 256.6 1132.7 256.6 1133.4 256.3 1134.2 255.8 1134.9 255.9 1135.7 255.4 1136.4 255.9 1137.2 255.1 1137.9 255.3 1138.7 255.7 1139.4 254.8 1140.2 255 1140.9 255.1 1141.7 254.5 1142.4 255.3 1143.2 254.9 1143.9 254.2 1144.7 254.6 1145.4 254.2 1146.2 254.2 1146.9 254.4 1147.7 254 1148.4 254.5 1149.2 253.8 1149.9 254.4 1150.7 253.9 1151.4 254.1 1152.2 253.6 1152.9 253.5 1153.7 253.2 1154.4 253.7 1155.2 253.8 1155.9 254.1 1156.7 253.7 1157.4 253.3 1158.2 253 1158.9 253.2 1159.7 252.9 1160.4 253.4 1161.2 253.1 1161.9 252.4 1162.7 252.4 1163.4 253 1164.2 252.6 1164.9 252.3 1165.7 252.7 1166.4 252.1 1167.2 252.1 1167.9 251.9 1168.7 251.3 1169.4 252.3 1170.2 251.5 1170.9 251.6 1171.7 251.5 1172.4 251.9 1173.2 251.6 1173.9 251.5 1174.7 250.8 1175.4 251.3 1176.2 250.8 1176.9 251.3 1177.7 251.3 1178.4 251.1 1179.2 251.7 1179.9 251.1 1180.7 251.1 1181.4 250.8 1182.2 250.7 1182.9 251 1183.7 251 1184.4 250.1 1185.2 250.8 1185.9 250.6 1186.7 250.6 1187.4 250.4 1188.2 249.7 1188.9 249.7 1189.7 250.7 1190.4 250.1 1191.2 249.4 1191.9 250 1192.7 249.6 1193.4 249.1 1194.2 248.8 1194.9 249 1195.7 249.6 1196.4 249.4 1197.2 249.3 1197.9 249.4 1198.7 249.4 1199.4 248.4 1200.2 249 1200.9 248.8 1201.7 248.5 1202.4 248.7 1203.2 248.8 1203.9 248.7 1204.7 248.2 1205.4 248.5 1206.2 249.3 1206.9 248.2 1207.7 247.9 1208.4 248.5 1209.2 248.6 1209.9 248.4 1210.7 247.8 1211.4 248.5 1212.2 247.8 1212.9 247.6 1213.7 247.8 1214.4 247.9 1215.2 248.1 1215.9 248 1216.7 247.7 1217.4 248 1218.2 247.6 1218.9 247.9 1219.7 247 1220.4 246.9 1221.2 247.7 1221.9 246.8 1222.7 247.2 1223.4 247.2 1224.2 247 1224.9 246.9 1225.7 247.5 1226.4 246.1 1227.2 247.2 1227.9 247.7 1228.7 246.8 1229.4 246.7 1230.2 247 1230.9 247.3 1231.7 246.2 1232.4 246.6 1233.2 246.4 1233.9 246.6" fill="none" stroke="#1e1e1e" stroke-width="1.05" stroke-linejoin="round"/>
<path d="M758.2 310.4 759 311.1 759.7 310.1 760.5 310.7 761.2 310.1 762 310.2 762.7 310.9 763.5 311.1 764.2 310 765 313.2 765.7 311.4 766.5 310.1 767.2 312.9 768 310.9 768.7 312.3 769.5 311.8 770.2 312.1 771 312 771.7 311.1 772.5 311.8 773.2 314 774 309.2 774.7 311.7 775.5 312.1 776.2 310.4 777 310 777.7 313.8 778.5 311 779.2 313.7 780 311.9 780.7 311.4 781.5 311.8 782.2 311.9 783 312.5 783.7 311.7 784.5 311.4 785.2 311.8 786 313.8 786.7 314.1 787.5 313.1 788.2 314.6 789 316.8 789.7 316.9 790.5 318.2 791.2 318.8 792 320.9 792.7 323 793.5 325.1 794.2 325.5 795 329.3 795.7 328.4 796.5 333.5 797.2 332.5 798 333.5 798.7 334.1 799.5 333.3 800.2 338 801 340.1 801.7 343.6 802.5 341.5 803.2 346.3 804 344.9 804.7 346.6 805.5 343.4 806.2 346.5 807 346.2 807.7 347.5 808.5 347 809.2 345.8 810 348.2 810.7 348 811.5 348 812.2 348.7 813 348.9 813.7 347.9 814.5 346.6 815.2 346.8 816 350 816.7 349.5 817.5 349 818.2 348.6 819 349.3 819.7 349.4 820.5 349.1 821.2 348.7 822 351.9 822.7 349.7 823.5 348.7 824.2 347.7 825 348.2 825.7 349.5 826.5 349.3 827.2 347.9 828 347.9 828.7 347.2 829.5 346 830.2 348.4 831 347 831.7 348.9 832.5 345 833.2 345.2 834 345.8 834.7 344.1 835.5 342.4 836.2 342.3 837 343 837.7 342.8 838.5 341.8 839.2 342.6 840 342.1 840.7 341 841.5 340.2 842.2 339.5 843 340 843.7 340 844.5 338.7 845.2 338.7 846 337.5 846.7 335.9 847.5 336 848.2 337.6 849 336.9 849.7 337.9 850.5 335.9 851.2 336.5 852 336.6 852.7 335.9 853.5 333.9 854.2 334 855 334 855.7 332.5 856.5 333.8 857.2 334.1 858 332.2 858.7 334.7 859.5 332.1 860.2 332 861 331.9 861.7 331.3 862.5 332.6 863.2 332.1 864 334 864.7 332.8 865.5 332.8 866.2 332 867 330.7 867.7 332.3 868.5 331.5 869.2 333.5 870 332.5 870.7 334.5 871.5 333.5 872.2 333.7 873 333.1 873.7 333.1 874.5 333.7 875.2 334.1 876 332.3 876.7 333.7 877.5 336.1 878.2 333.1 879 333 879.7 332.5 880.5 331.7 881.2 334.6 882 333.4 882.7 333.7 883.5 335.4 884.2 336.1 885 332.4 885.7 334.6 886.5 334.1 887.2 333.9 888 333.9 888.7 333.4 889.5 335.2 890.2 334.1 891 333.8 891.7 334.8 892.5 334.5 893.2 334 894 333.8 894.7 335.4 895.5 334.1 896.2 333.4 897 332.6 897.7 333.1 898.5 332.3 899.2 333.6 900 333.8 900.7 331.2 901.5 333.5 902.2 334.2 903 333.7 903.7 332.4 904.5 334.9 905.2 332.7 906 332.1 906.7 332.3 907.5 333.4 908.2 334.5 909 334.7 909.7 333.6 910.5 332.1 911.2 332.6 912 332.3 912.7 333.1 913.5 331.3 914.2 333.4 915 334 915.7 333.1 916.5 333.7 917.2 332.1 918 331.5 918.7 332.4 919.5 334.4 920.2 334.2 921 332.5 921.7 334.3 922.5 332.6 923.2 334.6 924 333.4 924.7 332.3 925.5 333.6 926.2 331.9 927 331.6 927.7 331 928.5 332.8 929.2 332.3 930 332.2 930.7 331.8 931.5 333.7 932.2 331.5 933 331.1 933.7 333.2 934.5 333.3 935.2 332 936 329.5 936.7 330.7 937.5 331.9 938.2 331.1 939 332.7 939.7 329.4 940.5 331.5 941.2 329.9 942 332 942.7 330.3 943.5 331.4 944.2 329.4 945 328.5 945.7 328.7 946.5 329.1 947.2 328.5 948 330.8 948.7 330.7 949.5 329.4 950.2 327.8 951 328.6 951.7 327.8 952.5 329.9 953.2 328.5 954 328.4 954.7 327.3 955.5 325.3 956.2 326.4 957 325.8 957.7 327.2 958.5 326.7 959.2 325.5 960 325.8 960.7 327.7 961.5 324.7 962.2 324.6 963 325.1 963.7 324.4 964.5 324.5 965.2 325.4 966 326.6 966.7 322.6 967.5 324.4 968.2 324.3 969 324 969.7 323.8 970.5 323.6 971.2 325 972 323.3 972.7 323.6 973.5 323.7 974.2 323.8 975 323.5 975.7 324.8 976.5 323.8 977.2 324 978 323.8 978.7 322.9 979.5 323.1 980.2 323 981 324.5 981.7 323.6 982.5 323.4 983.2 325 984 325.5 984.7 323.1 985.5 327.1 986.2 325.5 987 325.5 987.7 327" fill="none" stroke="#454545" stroke-width="1.05" stroke-linejoin="round"/>
<path d="M758.2 355.9 759 355.4 759.7 357.5 760.5 355.1 761.2 355.8 762 356.6 762.7 355.3 763.5 356.1 764.2 356.5 765 358.2 765.7 355.8 766.5 356.6 767.2 357.2 768 356.9 768.7 356.1 769.5 357.5 770.2 357.4 771 357.9 771.7 358.6 772.5 358.6 773.2 358.4 774 358.6 774.7 357.9 775.5 358.9 776.2 359.6 777 359.6 777.7 360.4 778.5 360.3 779.2 362.6 780 363.6 780.7 362.3 781.5 363.5 782.2 363.6 783 365.3 783.7 365.3 784.5 365.6 785.2 366 786 366.9 786.7 366.7 787.5 368.6 788.2 368.3 789 370 789.7 370.5 790.5 372 791.2 372 792 373.5 792.7 372.9 793.5 374.8 794.2 375 795 376.1 795.7 376.8 796.5 378.2 797.2 376.7 798 379.2 798.7 378.5 799.5 381.3 800.2 379.7 801 381.2 801.7 381.4 802.5 384.6 803.2 383.2 804 384.9 804.7 385.1 805.5 384.8 806.2 386.5 807 387.8 807.7 387.7 808.5 389 809.2 388.5 810 389.2 810.7 389.3 811.5 390.3 812.2 391.8 813 391.1 813.7 391.3 814.5 391.1 815.2 391.3 816 393.3 816.7 391.7 817.5 392.1 818.2 392.9 819 392.9 819.7 394.9 820.5 391.8 821.2 394 822 394.5 822.7 393.3 823.5 393.8 824.2 394.7 825 395.8 825.7 394 826.5 393.7 827.2 395.7 828 396.2 828.7 395 829.5 393.6 830.2 396.5 831 395.3 831.7 396.4 832.5 395.5 833.2 395.3 834 395.3 834.7 396.7 835.5 396.6 836.2 393.8 837 394.6 837.7 396.5 838.5 394.7 839.2 393.8 840 394.6 840.7 394.2 841.5 394 842.2 393.4 843 393.3 843.7 392.9 844.5 393.2 845.2 392 846 392.1 846.7 392 847.5 392.8 848.2 391.8 849 391.2 849.7 391.5 850.5 391.2 851.2 391.5 852 390.8 852.7 391.6 853.5 391 854.2 389.8 855 389.3 855.7 390.1 856.5 389.6 857.2 388.9 858 387.7 858.7 387.2 859.5 388.7 860.2 388.8 861 388.7 861.7 386.9 862.5 388.5 863.2 387.2 864 387.7 864.7 387.6 865.5 386.5 866.2 386.5 867 385.2 867.7 386 868.5 385.2 869.2 386.7 870 386.3 870.7 386.8 871.5 386.2 872.2 385.3 873 385.9 873.7 385.2 874.5 385.8 875.2 385.4 876 384.3 876.7 384.9 877.5 384.8 878.2 384.4 879 385.1 879.7 385.5 880.5 383.8 881.2 383.7 882 382.1 882.7 383.5 883.5 383.1 884.2 381.6 885 383.3 885.7 383.3 886.5 382.1 887.2 382.2 888 381.6 888.7 382.7 889.5 380.8 890.2 381.5 891 383 891.7 381.4 892.5 381.6 893.2 380.9 894 380 894.7 380.7 895.5 380.8 896.2 379.6 897 380.5 897.7 381 898.5 380.7 899.2 378.6 900 378.9 900.7 378.3 901.5 380.1 902.2 379.7 903 379.6 903.7 378.3 904.5 378 905.2 378.8 906 378.7 906.7 377.9 907.5 378.5 908.2 378.8 909 378.4 909.7 377.3 910.5 376.4 911.2 377.7 912 377.9 912.7 377.5 913.5 377.2 914.2 376.9 915 377.9 915.7 377.2 916.5 377.2 917.2 376.3 918 376.5 918.7 376.9 919.5 375.9 920.2 375.6 921 376.2 921.7 377.2 922.5 376.3 923.2 377.1 924 375.7 924.7 375.4 925.5 374.5 926.2 374.9 927 376.2 927.7 375.2 928.5 375.3 929.2 375.2 930 374.5 930.7 374.1 931.5 374.2 932.2 374.5 933 374.2 933.7 374.1 934.5 373.7 935.2 372.9 936 373.2 936.7 372.6 937.5 374 938.2 371.6 939 373 939.7 374.9 940.5 372.8 941.2 372.3 942 373.1 942.7 374.1 943.5 373 944.2 373.6 945 373.3 945.7 372.9 946.5 375.6 947.2 373.3 948 372.9 948.7 373 949.5 373.7 950.2 373.8 951 374.1 951.7 373.6 952.5 372.5 953.2 374 954 373.4 954.7 373.5 955.5 372.6 956.2 373.4 957 373.3 957.7 373.9 958.5 372.8 959.2 374 960 374.1 960.7 373.2 961.5 373.6 962.2 373.5 963 374.8 963.7 372.3 964.5 374 965.2 373 966 374 966.7 375 967.5 373.9 968.2 374.5 969 373.8 969.7 375.9 970.5 375.2 971.2 375.4 972 373.6 972.7 373.8 973.5 375.5 974.2 374.5 975 374.5 975.7 375 976.5 373.9 977.2 375.4 978 374.9 978.7 375.3 979.5 374.4 980.2 375.4 981 374.5 981.7 375.8 982.5 375.9 983.2 375.8 984 375.6 984.7 375.7 985.5 373.2 986.2 375.9 987 375.1 987.7 375.4" fill="none" stroke="#454545" stroke-width="1.05" stroke-linejoin="round"/>
<path d="M758.2 400.5 759 399.9 759.7 400.9 760.5 402.3 761.2 403.3 762 402 762.7 402.2 763.5 404.6 764.2 403.1 765 406 765.7 404.8 766.5 404.6 767.2 406.6 768 407.8 768.7 405.9 769.5 408.9 770.2 408.1 771 410.2 771.7 409.4 772.5 409.2 773.2 411.6 774 412.6 774.7 414.2 775.5 414.6 776.2 414.5 777 414.4 777.7 414.7 778.5 415.5 779.2 415.7 780 416.7 780.7 415.4 781.5 418.2 782.2 418.6 783 421.2 783.7 420.3 784.5 419.9 785.2 421.2 786 420.3 786.7 421.3 787.5 420.8 788.2 424 789 423.8 789.7 422.9 790.5 424.2 791.2 425.5 792 425.6 792.7 425.9 793.5 425.4 794.2 426 795 427 795.7 428.1 796.5 427.1 797.2 427.3 798 429.5 798.7 428.2 799.5 430.2 800.2 430 801 430.9 801.7 432 802.5 431.5 803.2 432 804 431 804.7 431.6 805.5 433.1 806.2 434.2 807 434.5 807.7 435.7 808.5 434.6 809.2 434.9 810 436 810.7 435.7 811.5 436.1 812.2 435.8 813 437.8 813.7 436.6 814.5 438.2 815.2 437 816 439.4 816.7 438 817.5 439.8 818.2 438.1 819 439.4 819.7 440.9 820.5 439.6 821.2 440.6 822 440.4 822.7 439.2 823.5 441.5 824.2 441.7 825 440.6 825.7 442 826.5 440.9 827.2 440.7 828 441.5 828.7 440.9 829.5 443.2 830.2 440.1 831 441.8 831.7 442 832.5 439.5 833.2 439.6 834 441.4 834.7 440.5 835.5 441.1 836.2 441.6 837 440.4 837.7 439.8 838.5 438.4 839.2 440.7 840 439.8 840.7 440.7 841.5 440.6 842.2 439.3 843 441.8 843.7 441.3 844.5 441.1 845.2 439.4 846 440.1 846.7 439.9 847.5 440 848.2 439.5 849 440.7 849.7 440.5 850.5 440.6 851.2 439.9 852 441.4 852.7 440.5 853.5 438.1 854.2 439.8 855 440.2 855.7 441 856.5 440 857.2 440 858 439.7 858.7 440.7 859.5 439.8 860.2 439.6 861 439.4 861.7 440.4 862.5 439.4 863.2 438.4 864 440.2 864.7 439 865.5 439.7 866.2 439.6 867 440.2 867.7 439.9 868.5 438.5 869.2 438.7 870 437.7 870.7 439.9 871.5 438.8 872.2 439.4 873 437.9 873.7 436.3 874.5 439.1 875.2 437.8 876 437.7 876.7 437.5 877.5 437.8 878.2 437.6 879 435.7 879.7 437.8 880.5 436.3 881.2 436.2 882 437.9 882.7 437.1 883.5 435.9 884.2 434.6 885 436.1 885.7 436.2 886.5 435.6 887.2 434.5 888 434.7 888.7 434.2 889.5 435.2 890.2 435.6 891 435.6 891.7 434.1 892.5 434.7 893.2 434.8 894 433.8 894.7 433.9 895.5 435.6 896.2 433.9 897 434.3 897.7 433.1 898.5 433.3 899.2 431.8 900 433 900.7 433.8 901.5 434.4 902.2 433.5 903 433 903.7 432.3 904.5 431.6 905.2 431.8 906 432.3 906.7 431 907.5 432.2 908.2 430.5 909 429.7 909.7 430.2 910.5 429.5 911.2 429.6 912 431.4 912.7 430.2 913.5 430.4 914.2 431 915 430.9 915.7 429.4 916.5 430.7 917.2 429.8 918 429.3 918.7 429.6 919.5 427.9 920.2 428.3 921 428.7 921.7 429.2 922.5 428.3 923.2 428.4 924 429.1 924.7 429.4 925.5 428.7 926.2 429 927 427.6 927.7 427.6 928.5 427.9 929.2 427.3 930 427.1 930.7 428.7 931.5 427.1 932.2 426.4 933 427.5 933.7 428.4 934.5 426.9 935.2 427.8 936 426.3 936.7 426.2 937.5 425.9 938.2 426.3 939 427.8 939.7 425.3 940.5 427.4 941.2 425.2 942 425.8 942.7 426.5 943.5 426.3 944.2 425.9 945 424.3 945.7 425.8 946.5 424.6 947.2 427.4 948 425.1 948.7 425.4 949.5 424.2 950.2 424.7 951 424 951.7 425.7 952.5 424.7 953.2 425.2 954 424.2 954.7 424.3 955.5 425.6 956.2 423.7 957 423 957.7 424.7 958.5 423.4 959.2 423.9 960 424.9 960.7 423.5 961.5 424.8 962.2 423.5 963 425.1 963.7 425 964.5 423.5 965.2 423.6 966 423.1 966.7 423.9 967.5 424.6 968.2 422.4 969 424.3 969.7 422.5 970.5 422.8 971.2 422 972 425.1 972.7 423.4 973.5 423.5 974.2 422.8 975 424.1 975.7 421.5 976.5 423.2 977.2 424.9 978 422.8 978.7 423.1 979.5 423.6 980.2 422.4 981 423 981.7 423.7 982.5 423.1 983.2 423.2 984 422.6 984.7 423.1 985.5 422.9 986.2 424 987 423.4 987.7 422.6" fill="none" stroke="#454545" stroke-width="1.05" stroke-linejoin="round"/>
<path d="M758.2 444.3 759 447 759.7 447.1 760.5 445.8 761.2 444.9 762 445.8 762.7 447.7 763.5 446.2 764.2 446.9 765 447.7 765.7 448.8 766.5 448.1 767.2 448.3 768 448.2 768.7 450.4 769.5 450.2 770.2 449.6 771 448.8 771.7 449.7 772.5 451.3 773.2 450.6 774 452.6 774.7 453 775.5 453.8 776.2 455.2 777 456.1 777.7 456.1 778.5 457.6 779.2 460.9 780 458.9 780.7 460.3 781.5 462.3 782.2 461.8 783 461.7 783.7 461.7 784.5 463.7 785.2 464.4 786 465.1 786.7 464.3 787.5 465.5 788.2 464 789 465.3 789.7 464.9 790.5 466 791.2 466.8 792 467.4 792.7 466 793.5 468.2 794.2 467 795 466.9 795.7 467.9 796.5 467.1 797.2 468.6 798 469.1 798.7 469 799.5 470 800.2 469.6 801 470.2 801.7 469.3 802.5 471 803.2 470.7 804 471.5 804.7 472.5 805.5 473.4 806.2 472.7 807 473.6 807.7 475.5 808.5 477.1 809.2 477.8 810 479.2 810.7 480.4 811.5 480.5 812.2 480.7 813 480.5 813.7 481.1 814.5 482 815.2 482.9 816 483 816.7 482.8 817.5 482.6 818.2 483.3 819 482.9 819.7 482.9 820.5 482.8 821.2 482 822 481.5 822.7 482.7 823.5 482.5 824.2 481.9 825 481.6 825.7 483.8 826.5 481.2 827.2 481.5 828 481.9 828.7 480.6 829.5 481.6 830.2 483 831 482.3 831.7 482.1 832.5 482.3 833.2 482.3 834 483.6 834.7 483.3 835.5 483.6 836.2 484.6 837 485.8 837.7 485.6 838.5 486 839.2 483.7 840 486.5 840.7 487.4 841.5 486.6 842.2 485.2 843 484.8 843.7 485.7 844.5 484.7 845.2 486.1 846 485.1 846.7 486.3 847.5 486.7 848.2 483.8 849 485.8 849.7 484.9 850.5 484.3 851.2 485 852 485.4 852.7 486.4 853.5 484.3 854.2 486.5 855 487.3 855.7 486.1 856.5 486.1 857.2 485.7 858 484.7 858.7 486.2 859.5 486.1 860.2 486.5 861 488.1 861.7 486.6 862.5 486.4 863.2 487.4 864 485 864.7 485.2 865.5 485.9 866.2 485.8 867 487 867.7 486.2 868.5 488 869.2 487.8 870 487.3 870.7 486.3 871.5 487.2 872.2 487.4 873 485.8 873.7 487.1 874.5 487.4 875.2 487 876 488.1 876.7 487.8 877.5 486 878.2 486.7 879 485.8 879.7 486.9 880.5 485.5 881.2 486.9 882 486.2 882.7 486.5 883.5 485.3 884.2 484 885 486.5 885.7 484.6 886.5 485.6 887.2 484.5 888 484.4 888.7 485.1 889.5 483.5 890.2 484.1 891 481.4 891.7 483.1 892.5 481.8 893.2 481.6 894 481.4 894.7 481.4 895.5 482.3 896.2 479 897 480.3 897.7 479.4 898.5 480.8 899.2 479.2 900 479.7 900.7 478.8 901.5 479.5 902.2 479.6 903 478.2 903.7 478.4 904.5 476.9 905.2 478.2 906 478.4 906.7 477 907.5 478.3 908.2 475.4 909 475.3 909.7 475.5 910.5 476.1 911.2 476.4 912 476.1 912.7 475.9 913.5 476.4 914.2 475.2 915 474.3 915.7 474.1 916.5 476.8 917.2 472.8 918 474.5 918.7 475.7 919.5 474.7 920.2 473.4 921 474 921.7 474.5 922.5 474.6 923.2 472.7 924 473.9 924.7 473.3 925.5 473.9 926.2 474 927 472.3 927.7 471.3 928.5 472.7 929.2 473.7 930 472.6 930.7 472.1 931.5 473.8 932.2 470.7 933 472.3 933.7 470.9 934.5 471.3 935.2 471.2 936 472.3 936.7 470.1 937.5 470.3 938.2 469.3 939 470.9 939.7 470 940.5 470.6 941.2 469.2 942 469.7 942.7 470.8 943.5 469.7 944.2 470.3 945 470.1 945.7 469.2 946.5 468.1 947.2 470.1 948 469.3 948.7 469.9 949.5 467.3 950.2 467.5 951 467 951.7 467.9 952.5 469.5 953.2 469 954 468.4 954.7 468.4 955.5 468.8 956.2 467.8 957 468.3 957.7 468 958.5 465.9 959.2 467.3 960 468.7 960.7 467.1 961.5 467.2 962.2 466.7 963 466.6 963.7 467.9 964.5 466.6 965.2 465.8 966 463.9 966.7 465.9 967.5 464.6 968.2 464.5 969 466.6 969.7 466.4 970.5 464.1 971.2 466.3 972 465.8 972.7 464.7 973.5 465.8 974.2 463.7 975 464 975.7 463.7 976.5 463.9 977.2 465.5 978 463.5 978.7 463.6 979.5 463.8 980.2 464.7 981 464.2 981.7 465.2 982.5 463.9 983.2 463.5 984 464.4 984.7 465 985.5 464.5 986.2 465.8 987 467.5 987.7 465.7" fill="none" stroke="#454545" stroke-width="1.05" stroke-linejoin="round"/>
<path d="M758.2 492.2 759 493.9 759.7 492.6 760.5 492.9 761.2 493.2 762 495 762.7 495.7 763.5 495.6 764.2 496.3 765 497.9 765.7 498.1 766.5 496.6 767.2 498.4 768 499 768.7 500.2 769.5 500 770.2 500.3 771 501.2 771.7 500.7 772.5 503 773.2 503.3 774 504.9 774.7 504.3 775.5 505.5 776.2 505.6 777 506.1 777.7 508.2 778.5 507.6 779.2 508.7 780 507.5 780.7 508.8 781.5 507.3 782.2 508.5 783 508.6 783.7 509.7 784.5 509.4 785.2 509.2 786 510.2 786.7 509.6 787.5 510 788.2 510.3 789 509.6 789.7 509.5 790.5 510.1 791.2 509.5 792 510.3 792.7 511 793.5 510.9 794.2 509.9 795 509.2 795.7 510.5 796.5 510.6 797.2 511.9 798 510.8 798.7 511.2 799.5 512.4 800.2 511.6 801 512.2 801.7 514.3 802.5 514.4 803.2 514 804 514.1 804.7 513.4 805.5 515.2 806.2 515.1 807 515.6 807.7 515.4 808.5 516.2 809.2 516.4 810 517.2 810.7 518.6 811.5 518 812.2 516.5 813 517.6 813.7 517.4 814.5 518.5 815.2 520.2 816 520.4 816.7 519.9 817.5 521.1 818.2 520.6 819 520.4 819.7 520.8 820.5 521.6 821.2 524 822 521.9 822.7 524.5 823.5 524.8 824.2 523.7 825 524.1 825.7 523.7 826.5 524.4 827.2 525.2 828 524.7 828.7 525.7 829.5 526 830.2 525.3 831 525.4 831.7 525.2 832.5 525.6 833.2 524.4 834 525.8 834.7 525.7 835.5 524.9 836.2 527.6 837 524.9 837.7 525.1 838.5 526.2 839.2 524.3 840 525.4 840.7 524.8 841.5 525.4 842.2 526.2 843 526.7 843.7 527.5 844.5 527.4 845.2 527.9 846 527.5 846.7 526.7 847.5 528.2 848.2 526.9 849 527 849.7 529.1 850.5 528.6 851.2 528.3 852 528.9 852.7 529.2 853.5 527.4 854.2 528.7 855 527.9 855.7 529.3 856.5 528.8 857.2 530.8 858 530.2 858.7 529.2 859.5 530 860.2 529.1 861 530.4 861.7 531 862.5 530.9 863.2 529.1 864 530.6 864.7 531.5 865.5 531.4 866.2 532.3 867 530.1 867.7 531.8 868.5 530.8 869.2 531.6 870 531.8 870.7 532.1 871.5 530.9 872.2 531.6 873 530.4 873.7 530.1 874.5 531.9 875.2 531.3 876 529.8 876.7 530.5 877.5 531.2 878.2 532.5 879 532 879.7 531.7 880.5 529.3 881.2 530.8 882 531.2 882.7 531.1 883.5 531 884.2 530.3 885 532 885.7 531.7 886.5 530.2 887.2 529.3 888 531.9 888.7 529.5 889.5 531 890.2 531.5 891 528.8 891.7 529.8 892.5 529.2 893.2 529.8 894 529.5 894.7 530.9 895.5 529.6 896.2 528.9 897 529.8 897.7 528.5 898.5 528.3 899.2 530.5 900 527.5 900.7 527.7 901.5 528 902.2 526.8 903 525.7 903.7 528.3 904.5 526.5 905.2 526.5 906 526.5 906.7 525.7 907.5 525.4 908.2 526.3 909 528.1 909.7 526.4 910.5 526.2 911.2 524 912 525.1 912.7 523.9 913.5 525.5 914.2 524.4 915 524.5 915.7 524.2 916.5 523.6 917.2 522.6 918 524.4 918.7 522.5 919.5 522.6 920.2 523.2 921 522.7 921.7 523.5 922.5 524.1 923.2 523.3 924 523.1 924.7 522.8 925.5 523.5 926.2 520.9 927 522.8 927.7 521.5 928.5 521.1 929.2 522.1 930 521.6 930.7 522.3 931.5 522.6 932.2 519.3 933 521.2 933.7 522.8 934.5 521.6 935.2 522 936 520.5 936.7 518.9 937.5 518.8 938.2 520 939 519.7 939.7 517.7 940.5 517.5 941.2 517.4 942 515 942.7 515.7 943.5 516.9 944.2 516.8 945 514.2 945.7 515.5 946.5 513 947.2 512.4 948 510.9 948.7 513.6 949.5 512.3 950.2 514.6 951 512.7 951.7 512.4 952.5 510.5 953.2 513.4 954 511.6 954.7 511.7 955.5 509.8 956.2 512.6 957 512.6 957.7 511.1 958.5 511.7 959.2 512 960 512.7 960.7 512.1 961.5 513.9 962.2 512.5 963 512.6 963.7 513 964.5 511.5 965.2 513.2 966 515 966.7 514.1 967.5 512.8 968.2 513.2 969 510.5 969.7 511.4 970.5 511.7 971.2 511.7 972 510.4 972.7 511.9 973.5 512.7 974.2 510.7 975 511.7 975.7 509.7 976.5 509.3 977.2 511.6 978 511.1 978.7 511.3 979.5 510.6 980.2 510.9 981 511.9 981.7 512.8 982.5 511.1 983.2 509.9 984 512.6 984.7 512 985.5 512.2 986.2 511.8 987 513.8 987.7 511.9" fill="none" stroke="#454545" stroke-width="1.05" stroke-linejoin="round"/>
<path d="M1002.1 323.9 1002.9 315.9 1003.6 316.4 1004.4 315.2 1005.1 314.8 1005.9 314.1 1006.6 311.9 1007.4 315.1 1008.1 312.3 1008.9 314.5 1009.6 316.9 1010.4 316.1 1011.1 318.9 1011.9 318.8 1012.6 317.2 1013.4 319.7 1014.1 316.9 1014.9 317 1015.6 315.6 1016.4 315.4 1017.1 317.7 1017.9 318.9 1018.6 318.9 1019.4 319.7 1020.1 314.5 1020.9 315.2 1021.6 313.2 1022.4 316.3 1023.1 313 1023.9 312.4 1024.6 311.5 1025.3 314.2 1026.1 312.7 1026.8 313.9 1027.6 311.3 1028.3 315.9 1029.1 315.2 1029.8 315.7 1030.6 317.1 1031.3 316.9 1032.1 322.1 1032.8 325.2 1033.6 325.3 1034.3 324.9 1035.1 327.6 1035.8 330.4 1036.6 333.6 1037.3 335 1038.1 334.7 1038.8 338 1039.6 334.5 1040.3 337.5 1041.1 341.7 1041.8 340.7 1042.6 340.8 1043.3 346 1044.1 346.2 1044.8 345.2 1045.6 348.9 1046.3 347.4 1047.1 347.6 1047.8 349.3 1048.6 348.9 1049.3 348.2 1050.1 349.2 1050.8 348.4 1051.6 349.8 1052.3 349.6 1053.1 349.8 1053.8 346.8 1054.6 343.9 1055.3 342.3 1056.1 342.5 1056.8 343.7 1057.6 341.6 1058.3 338.6 1059.1 339.9 1059.8 336.7 1060.6 339.6 1061.3 338 1062.1 339.8 1062.8 339.9 1063.6 338.9 1064.3 339.8 1065.1 337.9 1065.8 339 1066.6 340.3 1067.3 344.1 1068.1 339.4 1068.8 338.3 1069.6 336.6 1070.3 339.2 1071.1 335.8 1071.8 337.1 1072.6 338.9 1073.3 337.1 1074.1 341 1074.8 340.6 1075.6 338.6 1076.3 338.6 1077.1 337.1 1077.8 336.3 1078.6 337.7 1079.3 337.1 1080.1 336 1080.8 335.3 1081.6 333.7 1082.3 334.4 1083.1 331.5 1083.8 332.9 1084.6 334.2 1085.3 333.3 1086.1 330.2 1086.8 329.5 1087.6 330.7 1088.3 330.1 1089.1 324.3 1089.8 324.1 1090.6 323.4 1091.3 323.5 1092.1 319.6 1092.8 320.6 1093.6 319.1 1094.3 323.1 1095.1 321.4 1095.8 321.2 1096.6 321 1097.3 322.8 1098.1 322.3 1098.8 320 1099.6 321.7 1100.3 319.7 1101.1 320.7 1101.8 320.3 1102.6 320.7 1103.3 322.1 1104.1 322.3 1104.8 324.9 1105.6 325.9 1106.3 325.1 1107.1 324.5 1107.8 327.5 1108.6 324.1 1109.3 324.4 1110.1 327.9 1110.8 327.8 1111.6 328.1 1112.3 326.5 1113.1 325 1113.8 325.9 1114.6 327.1 1115.3 325.2 1116.1 325.2 1116.8 324.1 1117.6 324.3 1118.3 326.8 1119.1 326.2 1119.8 323.9 1120.6 324 1121.3 324.6 1122.1 325.9 1122.8 323.6 1123.6 324.9 1124.3 322.2 1125.1 323.3 1125.8 325.5 1126.6 326 1127.3 323.3 1128.1 323.7 1128.8 325.7 1129.6 324.1 1130.3 323.8 1131.1 325.2 1131.8 324.7 1132.6 325.8 1133.3 325.3 1134.1 323.4 1134.8 323.8 1135.6 323.8 1136.3 321.9 1137.1 322.2 1137.8 324.6 1138.6 321 1139.3 324.2 1140.1 323.1 1140.8 322.3 1141.6 322.9 1142.3 322.6 1143.1 323.3 1143.8 321 1144.6 321 1145.3 320.8 1146.1 323.4 1146.8 321.9 1147.6 319.3 1148.3 319.8 1149.1 319.1 1149.8 319.7 1150.6 319.7 1151.3 322.2 1152.1 316.6 1152.8 320.1 1153.6 319.1 1154.3 317.5 1155.1 318.1 1155.8 317.6 1156.6 318.2 1157.3 319.5 1158.1 316.6 1158.8 321 1159.6 319.7 1160.3 323.2 1161.1 322.8 1161.8 324.9 1162.6 325 1163.3 326.4 1164.1 325.4 1164.8 324.4 1165.6 326.3 1166.3 326.3 1167.1 328 1167.8 322.5 1168.6 324.7 1169.3 326.1 1170.1 322.9 1170.8 324 1171.6 326.8 1172.3 325.7 1173.1 322.5 1173.8 325.2 1174.6 324.6 1175.3 323.7 1176.1 322.7 1176.8 322.1 1177.6 320.2 1178.3 320.1 1179.1 321.2 1179.8 320 1180.6 321.7 1181.3 318.4 1182.1 315.3 1182.8 317.7 1183.6 318.2 1184.3 318.2 1185.1 317.7 1185.8 316.5 1186.6 319.7 1187.3 317.1 1188.1 319.3 1188.8 318.4 1189.6 317.7 1190.3 321.6 1191.1 317.1 1191.8 319.8 1192.6 322 1193.3 321.7 1194.1 324 1194.8 323.8 1195.6 324.3 1196.3 328.7 1197.1 326.5 1197.8 327.4 1198.6 327 1199.3 328 1200.1 330.2 1200.8 330.5 1201.6 330.1 1202.3 329.6 1203.1 331.7 1203.8 328.8 1204.6 330.8 1205.3 331.1 1206.1 330.4 1206.8 331.6 1207.6 330.2 1208.3 329.4 1209.1 332.2 1209.8 330 1210.6 329.8 1211.3 327.6 1212.1 328.1 1212.8 327.3 1213.6 327.4 1214.3 328.8 1215.1 325.2 1215.8 325.7 1216.6 325.2 1217.3 320.6 1218.1 323.3 1218.8 325 1219.6 325.8 1220.3 324.2 1221.1 326.5 1221.8 326.8 1222.6 324.8 1223.3 327.4 1224.1 328 1224.8 326.6 1225.6 325 1226.3 328.5 1227.1 326.7 1227.8 326.7 1228.6 327.8 1229.3 327.4 1230.1 330 1230.8 330.1 1231.6 331.3 1232.3 331.1 1233.1 330 1233.8 331.6 1234.6 333.6" fill="none" stroke="#505050" stroke-width="1.05" stroke-linejoin="round"/>
<path d="M1002.1 355.4 1002.9 359.5 1003.6 357.1 1004.4 357.4 1005.1 359.8 1005.9 360 1006.6 359.7 1007.4 360 1008.1 361 1008.9 361.7 1009.6 361.9 1010.4 361 1011.1 361.8 1011.9 362.2 1012.6 362.1 1013.4 358 1014.1 359.8 1014.9 359.5 1015.6 359.6 1016.4 359.5 1017.1 359.7 1017.9 358.9 1018.6 357.7 1019.4 357.5 1020.1 358.9 1020.9 356.4 1021.6 357.3 1022.4 358.8 1023.1 358.1 1023.9 356.5 1024.6 359.8 1025.3 360.1 1026.1 361.5 1026.8 363.9 1027.6 364.6 1028.3 365.1 1029.1 367.5 1029.8 368.2 1030.6 369 1031.3 370.4 1032.1 371.7 1032.8 372.4 1033.6 373.7 1034.3 375.5 1035.1 375.9 1035.8 377 1036.6 380.9 1037.3 380.7 1038.1 382.1 1038.8 383.3 1039.6 384.9 1040.3 386.3 1041.1 387.8 1041.8 388.3 1042.6 391.3 1043.3 390.8 1044.1 393.5 1044.8 391.4 1045.6 392.7 1046.3 395 1047.1 394.1 1047.8 393.8 1048.6 395 1049.3 393.8 1050.1 395 1050.8 392.9 1051.6 394.8 1052.3 394.7 1053.1 396 1053.8 396.4 1054.6 394.7 1055.3 397.2 1056.1 395 1056.8 393.5 1057.6 393.2 1058.3 397.1 1059.1 395.4 1059.8 394.8 1060.6 394.6 1061.3 394.1 1062.1 396.4 1062.8 394.9 1063.6 396.6 1064.3 394.4 1065.1 392.1 1065.8 395.1 1066.6 393.7 1067.3 393.6 1068.1 395.2 1068.8 393.2 1069.6 394.4 1070.3 393 1071.1 392 1071.8 393 1072.6 391.7 1073.3 393.2 1074.1 392.7 1074.8 391.6 1075.6 391.8 1076.3 391.5 1077.1 390.4 1077.8 391.2 1078.6 389.6 1079.3 390 1080.1 388 1080.8 388.5 1081.6 388.3 1082.3 386.5 1083.1 386.3 1083.8 385.6 1084.6 386.3 1085.3 384.2 1086.1 384.7 1086.8 385.2 1087.6 383.4 1088.3 380.7 1089.1 381.8 1089.8 382.1 1090.6 380.2 1091.3 381 1092.1 379.9 1092.8 379.2 1093.6 378 1094.3 377.2 1095.1 377 1095.8 376.9 1096.6 376.9 1097.3 376.5 1098.1 375.4 1098.8 375.4 1099.6 375.4 1100.3 373 1101.1 373.5 1101.8 373.2 1102.6 373.5 1103.3 373.1 1104.1 372.8 1104.8 371.9 1105.6 373.1 1106.3 372.4 1107.1 370.2 1107.8 371.6 1108.6 370.2 1109.3 372.7 1110.1 370.3 1110.8 370.1 1111.6 370.4 1112.3 369.8 1113.1 369.7 1113.8 371.1 1114.6 369.6 1115.3 369.9 1116.1 370 1116.8 367.7 1117.6 370.2 1118.3 369 1119.1 369 1119.8 367 1120.6 368.5 1121.3 367.8 1122.1 366.7 1122.8 369.3 1123.6 367.4 1124.3 366.3 1125.1 366.6 1125.8 367.1 1126.6 367.1 1127.3 366.3 1128.1 366.8 1128.8 366.9 1129.6 364 1130.3 364.6 1131.1 364 1131.8 364.8 1132.6 366.1 1133.3 365.1 1134.1 363.3 1134.8 364 1135.6 365.2 1136.3 363.6 1137.1 364 1137.8 364.3 1138.6 362.2 1139.3 364.8 1140.1 364.4 1140.8 364.6 1141.6 363.1 1142.3 363.3 1143.1 363.5 1143.8 364.3 1144.6 364.2 1145.3 364.2 1146.1 365.9 1146.8 365.5 1147.6 363.5 1148.3 363.6 1149.1 366 1149.8 364 1150.6 365.7 1151.3 366 1152.1 363.9 1152.8 364.2 1153.6 364.6 1154.3 363.7 1155.1 363.6 1155.8 364.2 1156.6 365.5 1157.3 364.3 1158.1 364.6 1158.8 364.4 1159.6 363.5 1160.3 366.5 1161.1 362.7 1161.8 364.4 1162.6 365.7 1163.3 363.8 1164.1 365.9 1164.8 366.6 1165.6 364.5 1166.3 365.7 1167.1 364.4 1167.8 366.1 1168.6 365.7 1169.3 365.9 1170.1 367.2 1170.8 366.3 1171.6 367.3 1172.3 366.7 1173.1 364.9 1173.8 366.5 1174.6 366.8 1175.3 365 1176.1 367.9 1176.8 366.8 1177.6 367.2 1178.3 366.1 1179.1 367.2 1179.8 367.6 1180.6 367.2 1181.3 367.7 1182.1 365.7 1182.8 369.4 1183.6 367.1 1184.3 366.2 1185.1 367.6 1185.8 367.9 1186.6 369.5 1187.3 368.2 1188.1 369.6 1188.8 368.6 1189.6 371.9 1190.3 370.5 1191.1 372.1 1191.8 369.3 1192.6 371.2 1193.3 369.8 1194.1 371.5 1194.8 371.8 1195.6 369.8 1196.3 370.4 1197.1 370.6 1197.8 370.4 1198.6 371.4 1199.3 371.4 1200.1 371.1 1200.8 372.8 1201.6 373.4 1202.3 371.7 1203.1 372.7 1203.8 373.4 1204.6 373.3 1205.3 373 1206.1 374.6 1206.8 374.8 1207.6 374.8 1208.3 374.1 1209.1 376.4 1209.8 376.3 1210.6 374.3 1211.3 374.7 1212.1 376.2 1212.8 374.3 1213.6 375.7 1214.3 375.5 1215.1 374.9 1215.8 375.5 1216.6 374.3 1217.3 375.4 1218.1 374.1 1218.8 378.5 1219.6 377.9 1220.3 377.7 1221.1 376.9 1221.8 377.8 1222.6 378.2 1223.3 378.1 1224.1 378.1 1224.8 376.4 1225.6 377.9 1226.3 377 1227.1 376.5 1227.8 376.7 1228.6 378.4 1229.3 379.1 1230.1 376.8 1230.8 380 1231.6 379.9 1232.3 378.2 1233.1 378.2 1233.8 378.7 1234.6 379.9" fill="none" stroke="#333" stroke-width="1.05" stroke-linejoin="round"/>
<path d="M1002.1 401.9 1002.9 402.2 1003.6 403.7 1004.4 402.8 1005.1 404.7 1005.9 405.7 1006.6 405.5 1007.4 406.1 1008.1 406.2 1008.9 406.5 1009.6 406.3 1010.4 405.8 1011.1 406.3 1011.9 406.4 1012.6 407.2 1013.4 407.5 1014.1 406.7 1014.9 405.6 1015.6 405.1 1016.4 404.7 1017.1 404.9 1017.9 403.6 1018.6 402.8 1019.4 402 1020.1 403 1020.9 402.8 1021.6 403.1 1022.4 403.9 1023.1 405.6 1023.9 405.4 1024.6 407.4 1025.3 408 1026.1 408.1 1026.8 409.4 1027.6 409.6 1028.3 410 1029.1 411.2 1029.8 411.7 1030.6 413.5 1031.3 414.2 1032.1 415.6 1032.8 416.9 1033.6 415.8 1034.3 419.2 1035.1 419.3 1035.8 422 1036.6 422.9 1037.3 425 1038.1 427.2 1038.8 426.8 1039.6 429.4 1040.3 430.8 1041.1 431.4 1041.8 434.6 1042.6 435.9 1043.3 437 1044.1 438.2 1044.8 441.6 1045.6 440 1046.3 439.6 1047.1 440.6 1047.8 441.3 1048.6 441.6 1049.3 442.1 1050.1 441.7 1050.8 442.8 1051.6 442.2 1052.3 441.7 1053.1 442 1053.8 442.2 1054.6 442.9 1055.3 442.6 1056.1 442 1056.8 442.1 1057.6 442.1 1058.3 443 1059.1 441.3 1059.8 441.8 1060.6 441.8 1061.3 440.7 1062.1 441.2 1062.8 441 1063.6 440.5 1064.3 441 1065.1 441.1 1065.8 441 1066.6 440.1 1067.3 440.2 1068.1 441.3 1068.8 439.1 1069.6 439.8 1070.3 440 1071.1 439.4 1071.8 439.5 1072.6 439.1 1073.3 439.3 1074.1 439.4 1074.8 438.3 1075.6 438.4 1076.3 438.1 1077.1 437.7 1077.8 437.7 1078.6 436.8 1079.3 437.7 1080.1 438.1 1080.8 437.8 1081.6 437.3 1082.3 435.7 1083.1 436.9 1083.8 435.3 1084.6 435.4 1085.3 436.2 1086.1 434 1086.8 434.7 1087.6 433.9 1088.3 433.1 1089.1 432.1 1089.8 432.3 1090.6 431.2 1091.3 431.6 1092.1 431.1 1092.8 429 1093.6 429 1094.3 428.6 1095.1 427.6 1095.8 427.2 1096.6 427.5 1097.3 426.9 1098.1 425.6 1098.8 425.8 1099.6 426 1100.3 424.5 1101.1 424.3 1101.8 425.4 1102.6 424.8 1103.3 422.7 1104.1 422.6 1104.8 423.3 1105.6 422.1 1106.3 422.4 1107.1 422.1 1107.8 422.6 1108.6 420.6 1109.3 420.6 1110.1 421 1110.8 422.2 1111.6 421.3 1112.3 420.2 1113.1 421.4 1113.8 421.4 1114.6 420.7 1115.3 420.5 1116.1 420.8 1116.8 421.2 1117.6 420.4 1118.3 420.5 1119.1 420 1119.8 419.7 1120.6 419.3 1121.3 419.9 1122.1 419.5 1122.8 419.4 1123.6 420 1124.3 419.7 1125.1 419.8 1125.8 418.3 1126.6 419.5 1127.3 418.8 1128.1 418.6 1128.8 418.5 1129.6 419.7 1130.3 419.5 1131.1 418.5 1131.8 418.2 1132.6 418.9 1133.3 418.6 1134.1 419.9 1134.8 418 1135.6 417.8 1136.3 418.8 1137.1 418.9 1137.8 419 1138.6 419.4 1139.3 420.2 1140.1 418.8 1140.8 418.6 1141.6 417.9 1142.3 419.1 1143.1 419.5 1143.8 418.9 1144.6 419.8 1145.3 419.1 1146.1 420 1146.8 419.3 1147.6 418.5 1148.3 418.8 1149.1 418.2 1149.8 418.1 1150.6 419.4 1151.3 419.8 1152.1 420.4 1152.8 419.2 1153.6 419.2 1154.3 418.7 1155.1 419.9 1155.8 419.6 1156.6 419 1157.3 419.8 1158.1 419.8 1158.8 418.4 1159.6 419.9 1160.3 419.6 1161.1 419.3 1161.8 419.3 1162.6 420.6 1163.3 420.5 1164.1 420.7 1164.8 419 1165.6 419.3 1166.3 420.2 1167.1 419 1167.8 419.3 1168.6 418.7 1169.3 420.9 1170.1 420.4 1170.8 420.1 1171.6 420 1172.3 419.6 1173.1 419.6 1173.8 420.3 1174.6 419.5 1175.3 420.7 1176.1 419.6 1176.8 419.4 1177.6 420.7 1178.3 419.9 1179.1 420.3 1179.8 419.8 1180.6 418.7 1181.3 420.4 1182.1 419.2 1182.8 420.7 1183.6 419.2 1184.3 419 1185.1 420.3 1185.8 420.4 1186.6 420.2 1187.3 419.4 1188.1 420.7 1188.8 419.3 1189.6 419.9 1190.3 419.8 1191.1 420 1191.8 420.8 1192.6 419.9 1193.3 420.6 1194.1 420.7 1194.8 419.3 1195.6 419.7 1196.3 420.2 1197.1 420.1 1197.8 420.6 1198.6 419.3 1199.3 420.9 1200.1 421 1200.8 420.4 1201.6 419.7 1202.3 420.6 1203.1 420.3 1203.8 421 1204.6 420.6 1205.3 421.1 1206.1 420.5 1206.8 421.6 1207.6 419.4 1208.3 420.2 1209.1 421.2 1209.8 420 1210.6 421.4 1211.3 420.3 1212.1 421.1 1212.8 420.5 1213.6 420.8 1214.3 421.2 1215.1 421.1 1215.8 421 1216.6 422.6 1217.3 421.3 1218.1 420.8 1218.8 422 1219.6 421.9 1220.3 422.2 1221.1 422.6 1221.8 421 1222.6 422.3 1223.3 422.4 1224.1 421.7 1224.8 421.9 1225.6 420 1226.3 421.6 1227.1 423 1227.8 420.9 1228.6 421.7 1229.3 422.3 1230.1 422.5 1230.8 423.2 1231.6 421.2 1232.3 422.4 1233.1 422.9 1233.8 421.7 1234.6 422.5" fill="none" stroke="#626262" stroke-width="1.05" stroke-linejoin="round"/>
<path d="M1002.1 447.9 1002.9 448.1 1003.6 448.1 1004.4 446.7 1005.1 448.7 1005.9 449.4 1006.6 449.3 1007.4 449.8 1008.1 452 1008.9 450.3 1009.6 450.1 1010.4 450.9 1011.1 450.7 1011.9 450.7 1012.6 450.8 1013.4 451.3 1014.1 450.9 1014.9 449.9 1015.6 450.4 1016.4 450.6 1017.1 449.9 1017.9 450.7 1018.6 450.4 1019.4 449.2 1020.1 449.9 1020.9 450.8 1021.6 450.5 1022.4 449.7 1023.1 450.5 1023.9 450 1024.6 450.1 1025.3 452 1026.1 452.6 1026.8 453.7 1027.6 454.3 1028.3 455.5 1029.1 456.1 1029.8 457.8 1030.6 459.1 1031.3 459.7 1032.1 461.3 1032.8 460.8 1033.6 462.3 1034.3 464.6 1035.1 465.8 1035.8 465.9 1036.6 466.8 1037.3 467.3 1038.1 469.5 1038.8 471 1039.6 470.9 1040.3 473.3 1041.1 474.5 1041.8 475.6 1042.6 475.8 1043.3 477.9 1044.1 477.7 1044.8 480.4 1045.6 480.4 1046.3 480.3 1047.1 482.4 1047.8 482.7 1048.6 482 1049.3 483.9 1050.1 482.3 1050.8 483.3 1051.6 484 1052.3 482.1 1053.1 484.3 1053.8 483.8 1054.6 484 1055.3 483.5 1056.1 484.5 1056.8 483.8 1057.6 484 1058.3 484.4 1059.1 484.1 1059.8 485.9 1060.6 484.3 1061.3 484.8 1062.1 485.2 1062.8 485.5 1063.6 486.1 1064.3 486.3 1065.1 485.8 1065.8 485.9 1066.6 486.3 1067.3 486.9 1068.1 487 1068.8 486.4 1069.6 485.6 1070.3 488.3 1071.1 487.7 1071.8 487.4 1072.6 487.5 1073.3 487.1 1074.1 486.9 1074.8 487.3 1075.6 487.4 1076.3 487.2 1077.1 486.7 1077.8 487.4 1078.6 487.8 1079.3 487.1 1080.1 487.3 1080.8 485.8 1081.6 486.8 1082.3 486.6 1083.1 485.7 1083.8 485.2 1084.6 486.2 1085.3 485.2 1086.1 485.6 1086.8 484.8 1087.6 485.1 1088.3 484.1 1089.1 483.1 1089.8 483.6 1090.6 483.1 1091.3 483.3 1092.1 482.2 1092.8 481.9 1093.6 482.3 1094.3 482.1 1095.1 481.5 1095.8 481.3 1096.6 480.6 1097.3 480.4 1098.1 480.1 1098.8 479.5 1099.6 479 1100.3 478.8 1101.1 479.8 1101.8 478.2 1102.6 477.7 1103.3 477.4 1104.1 477.3 1104.8 477.2 1105.6 476.1 1106.3 475.4 1107.1 476.5 1107.8 475.1 1108.6 475.9 1109.3 475.6 1110.1 475.9 1110.8 476 1111.6 474.9 1112.3 474.1 1113.1 473.5 1113.8 473.4 1114.6 473.7 1115.3 472.2 1116.1 473.2 1116.8 472.9 1117.6 473 1118.3 472.2 1119.1 472.2 1119.8 471.4 1120.6 471.4 1121.3 470.3 1122.1 471.2 1122.8 471.9 1123.6 470.8 1124.3 470.7 1125.1 469.6 1125.8 470.9 1126.6 469.3 1127.3 470.1 1128.1 469.4 1128.8 468.6 1129.6 469.6 1130.3 468.8 1131.1 468.7 1131.8 468.6 1132.6 468.2 1133.3 467.8 1134.1 468.1 1134.8 467.4 1135.6 467.5 1136.3 466.9 1137.1 466.2 1137.8 466.5 1138.6 466.4 1139.3 466.6 1140.1 467.1 1140.8 465.2 1141.6 466.1 1142.3 464.5 1143.1 465.1 1143.8 465.2 1144.6 464 1145.3 464.1 1146.1 465.2 1146.8 465 1147.6 464.7 1148.3 464.2 1149.1 465.8 1149.8 464.3 1150.6 463.8 1151.3 465.2 1152.1 464.4 1152.8 463.8 1153.6 464.6 1154.3 463.9 1155.1 464.1 1155.8 463.8 1156.6 463 1157.3 464.1 1158.1 463.6 1158.8 462.8 1159.6 462.9 1160.3 463.9 1161.1 463 1161.8 463.2 1162.6 463.5 1163.3 463.1 1164.1 462.1 1164.8 463.3 1165.6 463.5 1166.3 463.4 1167.1 463.8 1167.8 463 1168.6 463.2 1169.3 463.7 1170.1 462.6 1170.8 463.8 1171.6 463.7 1172.3 463.2 1173.1 463.8 1173.8 463.2 1174.6 462.2 1175.3 463.4 1176.1 462.9 1176.8 463 1177.6 462.9 1178.3 463.6 1179.1 463.2 1179.8 462.4 1180.6 463.2 1181.3 463.3 1182.1 462.5 1182.8 462.7 1183.6 462.8 1184.3 462.7 1185.1 463.3 1185.8 463.8 1186.6 464.3 1187.3 464 1188.1 463.9 1188.8 464 1189.6 464.2 1190.3 463.2 1191.1 463.9 1191.8 463.8 1192.6 463.5 1193.3 463.4 1194.1 463.4 1194.8 463.6 1195.6 463.1 1196.3 464.2 1197.1 464 1197.8 464.1 1198.6 464.3 1199.3 464.6 1200.1 463.9 1200.8 464.3 1201.6 463.4 1202.3 463.1 1203.1 463.4 1203.8 465.5 1204.6 463.6 1205.3 465 1206.1 465.7 1206.8 464.6 1207.6 466 1208.3 466.2 1209.1 465.7 1209.8 466.6 1210.6 465.7 1211.3 464.9 1212.1 465.8 1212.8 465.3 1213.6 464.9 1214.3 465 1215.1 467.3 1215.8 465.7 1216.6 466.1 1217.3 465.8 1218.1 466.4 1218.8 466.3 1219.6 466.3 1220.3 466 1221.1 466 1221.8 466.5 1222.6 467.3 1223.3 468.5 1224.1 468 1224.8 468.6 1225.6 468 1226.3 467.8 1227.1 467.2 1227.8 468.1 1228.6 467 1229.3 468.2 1230.1 469.5 1230.8 468.9 1231.6 469.6 1232.3 468.8 1233.1 468.4 1233.8 469.1 1234.6 469.3" fill="none" stroke="#626262" stroke-width="1.05" stroke-linejoin="round"/>
<path d="M1002.1 492.9 1002.9 494.1 1003.6 493 1004.4 493.8 1005.1 494.4 1005.9 494.6 1006.6 494.4 1007.4 495.5 1008.1 495.9 1008.9 496.1 1009.6 495.2 1010.4 496 1011.1 495.1 1011.9 496.7 1012.6 495.4 1013.4 495.5 1014.1 494.9 1014.9 494.4 1015.6 493.8 1016.4 493.3 1017.1 495.4 1017.9 494.8 1018.6 495.1 1019.4 496.7 1020.1 495.9 1020.9 496.9 1021.6 497.2 1022.4 498.6 1023.1 498.8 1023.9 499.3 1024.6 499.6 1025.3 500.4 1026.1 501.5 1026.8 500.1 1027.6 501.8 1028.3 502.2 1029.1 502.8 1029.8 502.4 1030.6 504.6 1031.3 504.2 1032.1 505.2 1032.8 505.7 1033.6 505.6 1034.3 507 1035.1 506.8 1035.8 508 1036.6 509.1 1037.3 510 1038.1 510.9 1038.8 511.6 1039.6 513.9 1040.3 513.8 1041.1 513.7 1041.8 515 1042.6 515.8 1043.3 517 1044.1 517.6 1044.8 518.3 1045.6 520.6 1046.3 520.3 1047.1 520.8 1047.8 521.4 1048.6 522 1049.3 523.4 1050.1 523.4 1050.8 524.2 1051.6 522.1 1052.3 524.6 1053.1 525.4 1053.8 526.4 1054.6 525.6 1055.3 524.9 1056.1 526.7 1056.8 526.3 1057.6 525.9 1058.3 526.9 1059.1 528.3 1059.8 528.7 1060.6 528.7 1061.3 527.9 1062.1 530.3 1062.8 528.4 1063.6 529.3 1064.3 528.8 1065.1 530.8 1065.8 530.5 1066.6 531.1 1067.3 530.9 1068.1 531.1 1068.8 531.5 1069.6 530.6 1070.3 532.6 1071.1 532.8 1071.8 532.2 1072.6 532.6 1073.3 533 1074.1 533.9 1074.8 533.4 1075.6 533.2 1076.3 533 1077.1 532.4 1077.8 533 1078.6 533.3 1079.3 533.1 1080.1 533.3 1080.8 533.6 1081.6 533.3 1082.3 533.1 1083.1 533.3 1083.8 532.9 1084.6 532.6 1085.3 532.8 1086.1 531.3 1086.8 532.9 1087.6 531.2 1088.3 532.3 1089.1 531.6 1089.8 532.1 1090.6 531.2 1091.3 530.5 1092.1 531.4 1092.8 530.7 1093.6 530.4 1094.3 530.2 1095.1 530.5 1095.8 530.1 1096.6 529.5 1097.3 528.2 1098.1 528.7 1098.8 528.7 1099.6 529.5 1100.3 528.4 1101.1 527.9 1101.8 528.4 1102.6 527.4 1103.3 527.2 1104.1 527.1 1104.8 525.9 1105.6 527.1 1106.3 526.6 1107.1 526 1107.8 525.2 1108.6 525.9 1109.3 526.4 1110.1 525 1110.8 524.5 1111.6 525.3 1112.3 523.9 1113.1 523.3 1113.8 524.2 1114.6 523.9 1115.3 523.9 1116.1 523.6 1116.8 523.9 1117.6 523.4 1118.3 523 1119.1 522.9 1119.8 523.4 1120.6 523.4 1121.3 523.2 1122.1 522.9 1122.8 520.3 1123.6 521.5 1124.3 521.7 1125.1 521.9 1125.8 520.6 1126.6 522.2 1127.3 521.4 1128.1 520.7 1128.8 521 1129.6 520.5 1130.3 520.1 1131.1 520.6 1131.8 519.9 1132.6 519.2 1133.3 519.5 1134.1 519.6 1134.8 518.9 1135.6 520.1 1136.3 518.5 1137.1 520.1 1137.8 519.4 1138.6 518.1 1139.3 518.6 1140.1 519.1 1140.8 518.1 1141.6 517.4 1142.3 518 1143.1 519 1143.8 516.8 1144.6 517.9 1145.3 517.4 1146.1 517.2 1146.8 516.9 1147.6 516.8 1148.3 517.5 1149.1 517.1 1149.8 516 1150.6 517.4 1151.3 515.6 1152.1 516.7 1152.8 516.3 1153.6 516.7 1154.3 516.1 1155.1 516.4 1155.8 515.7 1156.6 516.2 1157.3 515.7 1158.1 516.6 1158.8 514.8 1159.6 515.8 1160.3 515.3 1161.1 515 1161.8 514.5 1162.6 515 1163.3 513.7 1164.1 513.7 1164.8 514.8 1165.6 513.4 1166.3 515.1 1167.1 513.9 1167.8 514.2 1168.6 514 1169.3 514.1 1170.1 513.6 1170.8 513.4 1171.6 513.5 1172.3 514.1 1173.1 514 1173.8 514 1174.6 513.4 1175.3 512.9 1176.1 512 1176.8 513.3 1177.6 513.3 1178.3 512.5 1179.1 513.1 1179.8 513.3 1180.6 512.5 1181.3 513 1182.1 512.4 1182.8 511.1 1183.6 511.8 1184.3 511.7 1185.1 512.2 1185.8 511.3 1186.6 511.4 1187.3 511.1 1188.1 511.5 1188.8 511.5 1189.6 512 1190.3 511.8 1191.1 511.3 1191.8 511.3 1192.6 511.2 1193.3 511.1 1194.1 511.9 1194.8 509.4 1195.6 510.8 1196.3 511 1197.1 511.4 1197.8 510.1 1198.6 510.9 1199.3 511.1 1200.1 510.3 1200.8 509.4 1201.6 510.3 1202.3 509.7 1203.1 510.8 1203.8 509.9 1204.6 511.4 1205.3 510.4 1206.1 509.8 1206.8 509.9 1207.6 509.5 1208.3 510.4 1209.1 511 1209.8 510 1210.6 510.6 1211.3 509.5 1212.1 510.2 1212.8 511.4 1213.6 509.1 1214.3 510.7 1215.1 510.7 1215.8 508.8 1216.6 509.1 1217.3 509.4 1218.1 510.5 1218.8 509.7 1219.6 509.9 1220.3 510.5 1221.1 510.2 1221.8 510.3 1222.6 510 1223.3 511 1224.1 509.9 1224.8 511.5 1225.6 510.4 1226.3 510.2 1227.1 511.1 1227.8 511.1 1228.6 509.8 1229.3 511.2 1230.1 510.4 1230.8 510.9 1231.6 512 1232.3 511.1 1233.1 512 1233.8 511.7 1234.6 513.2" fill="none" stroke="#333" stroke-width="1.05" stroke-linejoin="round"/>
<path d="M757.9 583.8 758.6 582.4 759.4 582.5 760.1 582.8 760.9 584.2 761.6 584.1 762.4 585.4 763.1 584.4 763.9 584.4 764.6 584.7 765.4 584.1 766.1 584.7 766.9 585.4 767.6 585.5 768.4 583.8 769.1 582.2 769.9 583.5 770.6 585 771.4 581.4 772.1 584.1 772.9 585.3 773.6 584.1 774.4 583.4 775.1 587.1 775.9 586.7 776.6 584.6 777.4 586.7 778.1 586.7 778.9 583.6 779.6 588.6 780.4 584 781.1 584.9 781.9 583.9 782.6 585.5 783.4 583.8 784.1 585.6 784.9 587.1 785.6 586.2 786.4 585.9 787.1 588.6 787.9 585.9 788.6 588.9 789.4 587.8 790.1 589.1 790.9 589.4 791.6 590.2 792.4 590.5 793.1 590.2 793.9 591.2 794.6 593.3 795.4 593.4 796.1 592.8 796.9 594.3 797.6 595.2 798.4 596.9 799.1 598.1 799.9 598.9 800.6 598.8 801.4 600.6 802.1 599.6 802.9 598.4 803.6 602.8 804.4 601.5 805.1 603 805.9 603.3 806.6 606.3 807.4 604.4 808.1 606.9 808.9 606.5 809.6 606 810.4 606.1 811.1 609.3 811.9 609.7 812.6 610.7 813.4 612.5 814.1 611 814.9 611.5 815.6 611.4 816.4 612.2 817.1 612.1 817.9 611.8 818.6 616 819.4 611.5 820.1 614.8 820.9 615.6 821.6 615.8 822.4 614.9 823.1 616.5 823.9 616.7 824.6 616.5 825.4 618.3 826.1 618.2 826.9 618.4 827.6 620.2 828.4 618 829.1 620 829.9 618.5 830.6 619.7 831.4 619 832.1 619 832.9 617.1 833.6 617 834.4 616.5 835.1 617.4 835.9 617.6 836.6 617.6 837.4 615 838.1 615.2 838.9 612.5 839.6 611.1 840.4 612.3 841.1 612 841.9 610.3 842.6 609.5 843.4 612 844.1 609.8 844.9 608.2 845.6 612.9 846.4 609.6 847.1 608.5 847.9 609.3 848.6 607 849.4 609.5 850.1 604.9 850.9 604.7 851.6 605.7 852.4 604.3 853.1 606.6 853.9 602.2 854.6 602.8 855.4 603.5 856.1 603.4 856.9 603.5 857.6 602.2 858.4 604.1 859.1 600.1 859.9 600.5 860.6 600.9 861.4 599 862.1 598.6 862.9 598 863.6 597.3 864.4 596.3 865.1 596.7 865.9 595 866.6 597.2 867.4 594.2 868.1 598.6 868.9 597.8 869.6 596.6 870.4 594.5 871.1 593.7 871.9 595.7 872.6 594 873.4 594.2 874.1 592.2 874.9 594.2 875.6 591.5 876.4 592.4 877.1 589.7 877.9 590.8 878.6 592.1 879.4 590.6 880.1 590.4 880.9 591.7 881.6 590.4 882.4 592 883.1 587.1 883.9 590.8 884.6 590.5 885.4 587.7 886.1 587.9 886.9 590.6 887.6 587.9 888.4 588.4 889.1 589.8 889.9 588.5 890.6 589.4 891.4 587.5 892.1 588.9 892.9 589.8 893.6 588.7 894.4 585.3 895.1 588.9 895.9 588 896.6 586.7 897.4 589.5 898.1 585.4 898.9 590 899.6 586.7 900.4 589.4 901.1 587.3 901.9 585.5 902.6 587.3 903.4 587.6 904.1 587.8 904.9 588.4 905.6 585.8 906.4 587.6 907.1 587.9 907.9 586.6 908.6 585.7 909.4 585.7 910.1 587.9 910.9 588 911.6 586 912.4 585.4 913.1 588.8 913.9 585.4 914.6 587.7 915.4 586.6 916.1 585.5 916.9 588.1 917.6 587.9 918.4 590.2 919.1 591.5 919.9 588.5 920.6 590.3 921.4 590.5 922.1 588.7 922.9 588.4 923.6 591.9 924.4 589.5 925.1 590.2 925.9 590 926.6 590.4 927.4 590 928.1 592 928.9 592.8 929.6 590.9 930.4 589.7 931.1 591.7 931.9 589.9 932.6 591.1 933.4 593.6 934.1 595.1 934.9 592.7 935.6 591 936.4 593.4 937.1 589.6 937.9 591.7 938.6 594.7 939.4 593.8 940.1 591.1 940.9 590.8 941.6 594.1 942.4 593.1 943.1 592.4 943.9 593.8 944.6 592.6 945.4 590.9 946.1 594.6 946.9 592.7 947.6 592.4 948.4 592 949.1 594.1 949.9 592.8 950.6 594.8 951.4 593.7 952.1 595.5 952.9 593.7 953.6 593.4 954.4 591.8 955.1 593 955.9 595.4 956.6 598.5 957.4 593.1 958.1 593.4 958.9 595.3 959.6 595.6 960.4 594.2 961.1 595.3 961.9 593.2 962.6 595 963.4 596.6 964.1 597.7 964.9 595.5 965.6 595.4 966.4 596.5 967.1 597.4 967.9 596.7 968.6 595.2 969.4 596.8 970.1 597.7 970.9 595.6 971.6 594.9 972.4 597.4 973.1 597.4 973.9 598.3 974.6 597.3 975.4 596.4 976.1 596.8 976.9 596.2 977.6 596.4 978.4 597 979.1 597.2 979.9 599.4 980.6 596.5 981.4 598.2 982.1 597.6 982.9 600.4 983.6 599 984.4 598.3 985.1 600 985.9 599.1 986.6 598.6" fill="none" stroke="#333" stroke-width="1.05" stroke-linejoin="round"/>
<path d="M757.9 628 758.6 627.3 759.4 628.2 760.1 627.8 760.9 627.5 761.6 627 762.4 625.9 763.1 627.6 763.9 627.2 764.6 627.8 765.4 627.3 766.1 626.9 766.9 626.7 767.6 628.4 768.4 629.1 769.1 627.8 769.9 628.7 770.6 629.7 771.4 627.9 772.1 628.5 772.9 628.1 773.6 630.3 774.4 629.7 775.1 629.3 775.9 628.4 776.6 630 777.4 631.3 778.1 630.3 778.9 630.5 779.6 631.8 780.4 630.5 781.1 632 781.9 632.9 782.6 632.1 783.4 632.5 784.1 634 784.9 634.2 785.6 634.6 786.4 635.5 787.1 636.1 787.9 635.7 788.6 636.5 789.4 638.2 790.1 639.5 790.9 640.5 791.6 639.5 792.4 642.2 793.1 643 793.9 643.5 794.6 645.2 795.4 646.7 796.1 648.9 796.9 647.6 797.6 650.4 798.4 650.9 799.1 652.1 799.9 654.5 800.6 655.3 801.4 654.6 802.1 656.2 802.9 657.4 803.6 656.7 804.4 659.2 805.1 658.8 805.9 659.4 806.6 659.9 807.4 661.5 808.1 660.3 808.9 660.3 809.6 662.5 810.4 660.8 811.1 661.1 811.9 660.6 812.6 663.1 813.4 662.6 814.1 663.1 814.9 663 815.6 663 816.4 662.6 817.1 662.8 817.9 664 818.6 663.9 819.4 665.3 820.1 663.3 820.9 663.6 821.6 663.2 822.4 665.4 823.1 663.1 823.9 664.8 824.6 665.3 825.4 663.8 826.1 664.3 826.9 661.6 827.6 662.8 828.4 661.4 829.1 662.6 829.9 662.1 830.6 661 831.4 662 832.1 661.1 832.9 659.8 833.6 659.3 834.4 658 835.1 658.6 835.9 660.1 836.6 657.1 837.4 657.6 838.1 656.3 838.9 657.1 839.6 656.3 840.4 655.3 841.1 653.5 841.9 654.3 842.6 655.4 843.4 653.8 844.1 654.2 844.9 652.8 845.6 651.2 846.4 652.8 847.1 652.3 847.9 651.2 848.6 650.9 849.4 651.1 850.1 650 850.9 650.4 851.6 649.5 852.4 647.3 853.1 648.8 853.9 648.1 854.6 647.5 855.4 648.3 856.1 647.1 856.9 647.7 857.6 647.9 858.4 646.7 859.1 644.9 859.9 645.4 860.6 646.6 861.4 645.3 862.1 644.6 862.9 645 863.6 645.3 864.4 644.9 865.1 645.1 865.9 643.6 866.6 643.9 867.4 643.7 868.1 643.8 868.9 641.7 869.6 643.2 870.4 642.1 871.1 644.3 871.9 644.3 872.6 644.3 873.4 643.3 874.1 642 874.9 643.2 875.6 642 876.4 642.6 877.1 641.1 877.9 641.2 878.6 642 879.4 643.1 880.1 641.4 880.9 643.3 881.6 643.6 882.4 639.9 883.1 640.9 883.9 640 884.6 640.6 885.4 640.1 886.1 640.5 886.9 641.3 887.6 641.2 888.4 640.5 889.1 640.2 889.9 640.2 890.6 640.1 891.4 640.5 892.1 639.9 892.9 640.3 893.6 638.6 894.4 640.5 895.1 641.2 895.9 639.8 896.6 638.3 897.4 640.7 898.1 639.2 898.9 636.8 899.6 639.2 900.4 639.9 901.1 639.6 901.9 640.3 902.6 639.7 903.4 639.3 904.1 637.3 904.9 638.1 905.6 639.2 906.4 639.6 907.1 638 907.9 638.4 908.6 639.3 909.4 637.1 910.1 637.1 910.9 638.6 911.6 639 912.4 638.3 913.1 636.7 913.9 638.7 914.6 637.5 915.4 639.2 916.1 638.5 916.9 638.8 917.6 639.2 918.4 638.1 919.1 639.3 919.9 639.7 920.6 639 921.4 639.9 922.1 638.2 922.9 639.7 923.6 639.3 924.4 638.4 925.1 639.4 925.9 639.3 926.6 639.5 927.4 640.3 928.1 641.5 928.9 640.5 929.6 641.2 930.4 640.1 931.1 641.7 931.9 642.9 932.6 642.9 933.4 642.8 934.1 642.1 934.9 641.9 935.6 642.9 936.4 641.9 937.1 642 937.9 644 938.6 642.4 939.4 644.8 940.1 641.8 940.9 643.4 941.6 641.9 942.4 642.9 943.1 641.7 943.9 642.5 944.6 642.2 945.4 641.7 946.1 642.4 946.9 643.1 947.6 641 948.4 642.1 949.1 641.2 949.9 640.9 950.6 642.6 951.4 638.5 952.1 639.7 952.9 638.5 953.6 639.6 954.4 639.5 955.1 642.9 955.9 639.7 956.6 640.9 957.4 640.3 958.1 638.7 958.9 639.5 959.6 640.5 960.4 639.1 961.1 639.2 961.9 639.4 962.6 637.7 963.4 638.3 964.1 639.3 964.9 639.6 965.6 638.3 966.4 638.8 967.1 639.1 967.9 639.1 968.6 639.9 969.4 639.4 970.1 639.5 970.9 638.2 971.6 638.6 972.4 639.9 973.1 638.3 973.9 640 974.6 639.3 975.4 639.3 976.1 640.7 976.9 639.6 977.6 639.6 978.4 639.9 979.1 640.7 979.9 643.2 980.6 639 981.4 641.1 982.1 641 982.9 642.3 983.6 641.3 984.4 639.6 985.1 643.2 985.9 641.3 986.6 642.4" fill="none" stroke="#333" stroke-width="1.05" stroke-linejoin="round"/>
<path d="M757.9 669.9 758.6 670.1 759.4 670.6 760.1 671.7 760.9 671.7 761.6 670.5 762.4 671.4 763.1 670.7 763.9 671.1 764.6 671.1 765.4 671.5 766.1 670.5 766.9 670.9 767.6 671.2 768.4 671.3 769.1 671.1 769.9 673.7 770.6 672.6 771.4 674.2 772.1 674.4 772.9 675.6 773.6 673.2 774.4 676.8 775.1 675.3 775.9 674.7 776.6 675.9 777.4 677.8 778.1 676.6 778.9 675.4 779.6 676.2 780.4 677.8 781.1 675.9 781.9 677.2 782.6 677.4 783.4 679.8 784.1 678.3 784.9 680.5 785.6 680 786.4 681.3 787.1 684.2 787.9 685.2 788.6 684.6 789.4 687.7 790.1 689 790.9 689.3 791.6 691.3 792.4 692.7 793.1 693.5 793.9 694.7 794.6 695.9 795.4 697.4 796.1 697.7 796.9 699.7 797.6 699.4 798.4 701.4 799.1 701.8 799.9 701.5 800.6 703.4 801.4 704.6 802.1 704.5 802.9 702.7 803.6 705.1 804.4 704.5 805.1 704.5 805.9 704.3 806.6 705 807.4 706.4 808.1 705.9 808.9 705.3 809.6 705.3 810.4 705.7 811.1 706.6 811.9 707.8 812.6 705.7 813.4 706.7 814.1 706.6 814.9 706.5 815.6 707.5 816.4 707.8 817.1 706.4 817.9 706.8 818.6 708.7 819.4 708 820.1 708.3 820.9 707.5 821.6 707.6 822.4 708.2 823.1 707.4 823.9 706.8 824.6 707.5 825.4 708.1 826.1 706.4 826.9 707.8 827.6 707.3 828.4 705.9 829.1 706.3 829.9 706 830.6 706.3 831.4 706.1 832.1 704.3 832.9 704 833.6 705.7 834.4 704.7 835.1 704.8 835.9 704.5 836.6 705.2 837.4 702.7 838.1 704.3 838.9 702.5 839.6 703.5 840.4 703.7 841.1 701.2 841.9 702.3 842.6 701.5 843.4 701.2 844.1 701.2 844.9 700 845.6 699.8 846.4 700.8 847.1 700.7 847.9 699.3 848.6 698.3 849.4 701.1 850.1 699.9 850.9 699.1 851.6 697.7 852.4 697.9 853.1 698.3 853.9 697.2 854.6 699 855.4 697.6 856.1 697.6 856.9 696.3 857.6 696.1 858.4 696 859.1 696.6 859.9 696 860.6 695.7 861.4 696 862.1 695.7 862.9 696.5 863.6 695 864.4 694.1 865.1 694.7 865.9 695.7 866.6 693.9 867.4 694.2 868.1 693.8 868.9 694.2 869.6 693.9 870.4 693 871.1 693.3 871.9 694.1 872.6 694.1 873.4 693.9 874.1 693.7 874.9 692.7 875.6 692.7 876.4 693.6 877.1 692 877.9 692.8 878.6 691.4 879.4 692.6 880.1 692.3 880.9 691.9 881.6 693.3 882.4 692.3 883.1 692.6 883.9 692.7 884.6 692.3 885.4 694 886.1 692.5 886.9 693 887.6 691.8 888.4 692.5 889.1 692.6 889.9 692.6 890.6 692.4 891.4 693 892.1 694.1 892.9 692.8 893.6 692.8 894.4 692.6 895.1 694.9 895.9 694.1 896.6 693.3 897.4 693.4 898.1 692.3 898.9 692.7 899.6 693 900.4 692.9 901.1 692.2 901.9 692.2 902.6 693.2 903.4 693.1 904.1 691.1 904.9 692.8 905.6 693.8 906.4 692.2 907.1 692.9 907.9 691.6 908.6 693.3 909.4 691.8 910.1 691.6 910.9 692.4 911.6 694.4 912.4 692.1 913.1 691.5 913.9 692.8 914.6 692.6 915.4 693.7 916.1 691.4 916.9 691.1 917.6 692.1 918.4 692.6 919.1 692.5 919.9 693 920.6 691 921.4 691.5 922.1 692 922.9 692.7 923.6 692.4 924.4 691.6 925.1 691.1 925.9 692.5 926.6 692.5 927.4 693.9 928.1 691.6 928.9 692.9 929.6 690.6 930.4 691.1 931.1 691 931.9 691.1 932.6 690.7 933.4 690.9 934.1 691.2 934.9 690.8 935.6 691.5 936.4 690.8 937.1 690.7 937.9 691.6 938.6 690.5 939.4 690.2 940.1 689.9 940.9 689.7 941.6 689.9 942.4 688.6 943.1 690 943.9 690.1 944.6 689.6 945.4 688.1 946.1 687.1 946.9 687.8 947.6 688.2 948.4 688.6 949.1 687.7 949.9 687.6 950.6 689 951.4 687.3 952.1 688.6 952.9 688.5 953.6 686.7 954.4 688 955.1 687.3 955.9 687 956.6 686.3 957.4 686.6 958.1 688.1 958.9 687.5 959.6 688 960.4 687 961.1 687.6 961.9 687.6 962.6 686.6 963.4 686.5 964.1 688.2 964.9 688 965.6 687.2 966.4 687.8 967.1 688.5 967.9 689.4 968.6 687.3 969.4 688.5 970.1 689.7 970.9 688.1 971.6 689.3 972.4 686.1 973.1 689.3 973.9 688.2 974.6 686.8 975.4 688.9 976.1 689.2 976.9 689.4 977.6 689.4 978.4 688.5 979.1 688.1 979.9 688.3 980.6 688.8 981.4 689.2 982.1 688.6 982.9 689.1 983.6 689.8 984.4 689.5 985.1 691.1 985.9 691.1 986.6 688.6" fill="none" stroke="#7c7c7c" stroke-width="0.95" stroke-linejoin="round"/>
<path d="M757.9 714.4 758.6 713.9 759.4 714 760.1 715.2 760.9 714.2 761.6 714.2 762.4 714.8 763.1 715.6 763.9 714.9 764.6 715 765.4 715.9 766.1 715.7 766.9 715.8 767.6 716.2 768.4 715 769.1 716 769.9 715.6 770.6 716.9 771.4 717 772.1 716 772.9 717.9 773.6 716.5 774.4 718.5 775.1 718.2 775.9 717.9 776.6 718.2 777.4 719.2 778.1 719.9 778.9 719.9 779.6 721.4 780.4 720.6 781.1 722.1 781.9 722.8 782.6 722.5 783.4 725.1 784.1 725.2 784.9 725.7 785.6 728.4 786.4 730.1 787.1 732.3 787.9 732.8 788.6 735.4 789.4 736.6 790.1 737.5 790.9 738.6 791.6 738.9 792.4 739.3 793.1 741.1 793.9 742.2 794.6 742.6 795.4 743.1 796.1 743 796.9 745.3 797.6 745.8 798.4 745.2 799.1 746.8 799.9 747.7 800.6 747.6 801.4 748.6 802.1 749.1 802.9 748 803.6 749.2 804.4 750.2 805.1 750.9 805.9 751.6 806.6 749.7 807.4 751.2 808.1 752.1 808.9 752.6 809.6 753.2 810.4 751.5 811.1 752 811.9 751.5 812.6 752.8 813.4 751.4 814.1 753.1 814.9 752.9 815.6 752.5 816.4 750.7 817.1 751.7 817.9 752.6 818.6 751.1 819.4 751.8 820.1 751.9 820.9 752.5 821.6 752 822.4 752 823.1 751.4 823.9 751.6 824.6 751.5 825.4 752 826.1 751.3 826.9 752.1 827.6 750.1 828.4 752 829.1 751 829.9 751.7 830.6 750.9 831.4 751.3 832.1 751.5 832.9 750 833.6 750.2 834.4 749.9 835.1 750 835.9 748.5 836.6 749.3 837.4 749.1 838.1 748.5 838.9 748.8 839.6 747.6 840.4 749.5 841.1 748.7 841.9 749.5 842.6 747.5 843.4 747.1 844.1 748 844.9 746.5 845.6 747.7 846.4 747 847.1 747.1 847.9 747.4 848.6 747.2 849.4 748.3 850.1 747.4 850.9 746 851.6 747.4 852.4 745.7 853.1 746.6 853.9 745.6 854.6 745.7 855.4 747.1 856.1 745.7 856.9 745.6 857.6 745.5 858.4 745.6 859.1 746.7 859.9 744.8 860.6 744.7 861.4 745.9 862.1 744.3 862.9 745 863.6 746 864.4 745.1 865.1 744.7 865.9 744.5 866.6 744.3 867.4 744.4 868.1 744.9 868.9 745.6 869.6 745.3 870.4 744.2 871.1 744.1 871.9 745 872.6 743.2 873.4 744.2 874.1 744.2 874.9 743.6 875.6 743.7 876.4 744.6 877.1 743.2 877.9 743.7 878.6 743.9 879.4 744.5 880.1 743.5 880.9 745.3 881.6 744.4 882.4 744.5 883.1 744.6 883.9 744.4 884.6 744.3 885.4 745.9 886.1 745.4 886.9 745.3 887.6 746.2 888.4 745.1 889.1 746.1 889.9 745.7 890.6 745.2 891.4 746.4 892.1 744.8 892.9 746.3 893.6 745.2 894.4 746.1 895.1 746.7 895.9 746 896.6 745.1 897.4 745.4 898.1 745.1 898.9 744.4 899.6 744.3 900.4 744.9 901.1 745.1 901.9 743.3 902.6 744.3 903.4 744.5 904.1 744 904.9 743 905.6 744.2 906.4 742.5 907.1 743.6 907.9 744 908.6 741.3 909.4 742.7 910.1 742.5 910.9 742.2 911.6 741.4 912.4 741.5 913.1 740.6 913.9 741.5 914.6 741.6 915.4 740.6 916.1 740.3 916.9 740.4 917.6 740.6 918.4 740.5 919.1 740.2 919.9 740.1 920.6 739 921.4 737.9 922.1 740 922.9 740.4 923.6 738.3 924.4 738.6 925.1 739.1 925.9 739.4 926.6 739 927.4 739.3 928.1 738.2 928.9 738.4 929.6 738.2 930.4 737.5 931.1 738.4 931.9 737.9 932.6 738 933.4 736.9 934.1 737.7 934.9 736.1 935.6 737 936.4 734.8 937.1 735.8 937.9 736.8 938.6 735.9 939.4 736.2 940.1 734.9 940.9 736.9 941.6 736.2 942.4 735.6 943.1 735.9 943.9 735.7 944.6 736.3 945.4 735.4 946.1 734.2 946.9 734.9 947.6 735.9 948.4 735.3 949.1 734.5 949.9 735.2 950.6 734.7 951.4 735 952.1 733.4 952.9 733.8 953.6 734.8 954.4 734.1 955.1 734.4 955.9 735.5 956.6 733.8 957.4 734.1 958.1 733.5 958.9 733.4 959.6 733.7 960.4 732.7 961.1 732.2 961.9 734.5 962.6 733.4 963.4 734.2 964.1 733.5 964.9 733.4 965.6 733.7 966.4 733.7 967.1 732.4 967.9 734 968.6 732.4 969.4 733.2 970.1 734.7 970.9 733 971.6 734 972.4 732.6 973.1 733.2 973.9 732.8 974.6 733 975.4 732.1 976.1 732 976.9 732.8 977.6 731.5 978.4 731.9 979.1 732.9 979.9 732 980.6 731.8 981.4 731.6 982.1 732.4 982.9 732 983.6 732.4 984.4 732.1 985.1 733.5 985.9 731.9 986.6 730.8" fill="none" stroke="#7c7c7c" stroke-width="0.95" stroke-linejoin="round"/>
<path d="M757.9 758.7 758.6 758.8 759.4 759.1 760.1 757.6 760.9 760.4 761.6 759.5 762.4 759.7 763.1 758.3 763.9 760.5 764.6 760.2 765.4 761.8 766.1 760.3 766.9 759.7 767.6 761.2 768.4 760.4 769.1 761.9 769.9 760.7 770.6 761.8 771.4 761.9 772.1 762.2 772.9 762 773.6 761.9 774.4 762.8 775.1 762.5 775.9 763.4 776.6 763.3 777.4 761.6 778.1 764 778.9 765.7 779.6 765 780.4 765.7 781.1 766 781.9 765.7 782.6 765.6 783.4 768.7 784.1 770.2 784.9 771 785.6 772.3 786.4 773.8 787.1 775 787.9 777 788.6 778.4 789.4 780.9 790.1 782.2 790.9 784.8 791.6 787.8 792.4 788.1 793.1 787.1 793.9 790.6 794.6 789.1 795.4 794 796.1 793.5 796.9 794 797.6 793.3 798.4 793.2 799.1 794.4 799.9 794.9 800.6 794.3 801.4 795.4 802.1 796.1 802.9 796.2 803.6 794.7 804.4 793.7 805.1 795.9 805.9 795.4 806.6 796.5 807.4 797.8 808.1 797.9 808.9 796.6 809.6 797.5 810.4 798 811.1 796.5 811.9 796.8 812.6 797.3 813.4 796.2 814.1 795.4 814.9 794.7 815.6 794.9 816.4 793.9 817.1 794.8 817.9 793.5 818.6 795 819.4 794.7 820.1 792.2 820.9 794.4 821.6 792.9 822.4 794.5 823.1 793.6 823.9 793 824.6 793.6 825.4 792.2 826.1 792.9 826.9 792.7 827.6 791.9 828.4 792.1 829.1 790.5 829.9 791.7 830.6 789.7 831.4 791.1 832.1 790.7 832.9 790.7 833.6 789.2 834.4 792.4 835.1 789.1 835.9 789.2 836.6 788.2 837.4 790 838.1 788 838.9 789.2 839.6 787.2 840.4 788.2 841.1 787.3 841.9 788.4 842.6 787 843.4 786.3 844.1 787.4 844.9 785.6 845.6 785.7 846.4 787.1 847.1 784.5 847.9 786.8 848.6 785.5 849.4 784.8 850.1 785.6 850.9 785.8 851.6 784.4 852.4 784.5 853.1 785.2 853.9 784.9 854.6 783.9 855.4 783 856.1 782.6 856.9 782.7 857.6 783.7 858.4 783.3 859.1 782.9 859.9 783.7 860.6 781.9 861.4 781.6 862.1 781.4 862.9 783.4 863.6 779.5 864.4 781.6 865.1 781.7 865.9 781.2 866.6 783.3 867.4 782.1 868.1 781.7 868.9 780.1 869.6 781.4 870.4 780.6 871.1 781.1 871.9 781.3 872.6 780.7 873.4 781.8 874.1 782.8 874.9 782.3 875.6 781.6 876.4 779.6 877.1 782.6 877.9 782.6 878.6 781.5 879.4 781.4 880.1 782.5 880.9 781.2 881.6 782.8 882.4 781.2 883.1 781.4 883.9 782.4 884.6 781.2 885.4 782.7 886.1 783.4 886.9 781.8 887.6 784.1 888.4 782.9 889.1 784.2 889.9 784.1 890.6 783.6 891.4 783.8 892.1 782.9 892.9 784.1 893.6 784.2 894.4 786.7 895.1 786.4 895.9 784.3 896.6 786.6 897.4 786.3 898.1 785.9 898.9 786.9 899.6 787.4 900.4 786.3 901.1 786.8 901.9 787.4 902.6 786.5 903.4 787.7 904.1 787.6 904.9 787.2 905.6 787.2 906.4 788.4 907.1 789 907.9 788.6 908.6 787.6 909.4 789.2 910.1 788.8 910.9 789.3 911.6 790 912.4 788.2 913.1 789 913.9 788.6 914.6 788.5 915.4 791.3 916.1 790.4 916.9 787.9 917.6 790 918.4 789.2 919.1 790.8 919.9 789.8 920.6 789.6 921.4 789.9 922.1 790.2 922.9 789.8 923.6 789.5 924.4 789.6 925.1 790.1 925.9 788.5 926.6 789.5 927.4 789.3 928.1 788.8 928.9 789.8 929.6 787.8 930.4 788.5 931.1 787.9 931.9 789.1 932.6 787.9 933.4 788.3 934.1 788.4 934.9 786.4 935.6 788.1 936.4 786.8 937.1 787.1 937.9 787 938.6 787.7 939.4 787.4 940.1 788.2 940.9 786.5 941.6 785.7 942.4 785.5 943.1 786.4 943.9 787 944.6 785.6 945.4 784.5 946.1 785 946.9 784.7 947.6 784.2 948.4 783.2 949.1 781.2 949.9 782.8 950.6 783.9 951.4 782.8 952.1 780.3 952.9 782 953.6 780 954.4 783.3 955.1 781.3 955.9 779.8 956.6 781.4 957.4 779.7 958.1 780.7 958.9 780 959.6 778.7 960.4 780.3 961.1 778.3 961.9 780.6 962.6 779.3 963.4 778.2 964.1 777.3 964.9 780.4 965.6 780.1 966.4 777.5 967.1 780.1 967.9 778.6 968.6 778.2 969.4 778.2 970.1 777.9 970.9 779.4 971.6 778.2 972.4 776.2 973.1 779.8 973.9 778.6 974.6 776.7 975.4 777.4 976.1 776.8 976.9 777.6 977.6 777.9 978.4 777.7 979.1 776.8 979.9 776.6 980.6 778.1 981.4 777.2 982.1 779.3 982.9 776.4 983.6 777.9 984.4 777.1 985.1 776.3 985.9 778.3 986.6 777.1" fill="none" stroke="#1e1e1e" stroke-width="1.05" stroke-linejoin="round"/>
<path d="M1016.5 583.6 1017.2 584.5 1018 586.4 1018.8 583.9 1019.5 587.3 1020.2 586.7 1021 585.7 1021.8 587.9 1022.5 588.5 1023.2 587.3 1024 586.9 1024.8 589.1 1025.5 588.8 1026.2 586 1027 587 1027.8 587 1028.5 586.9 1029.2 585.6 1030 588.5 1030.8 587.5 1031.5 587.5 1032.2 589.1 1033 586.6 1033.8 587.2 1034.5 587.6 1035.2 586.7 1036 587 1036.8 588 1037.5 587 1038.2 588.6 1039 586 1039.8 587.1 1040.5 585 1041.2 586.6 1042 585.8 1042.8 588.3 1043.5 587.5 1044.2 587.2 1045 588.8 1045.8 588.3 1046.5 587.4 1047.2 585.8 1048 585.3 1048.8 587.7 1049.5 588.2 1050.2 588.9 1051 590.4 1051.8 589.9 1052.5 594.8 1053.2 592.5 1054 593.9 1054.8 596 1055.5 594 1056.2 597.7 1057 598.3 1057.8 597.3 1058.5 596.9 1059.2 598.1 1060 596.9 1060.8 601.4 1061.5 600.2 1062.2 599.7 1063 600 1063.8 602.3 1064.5 603.9 1065.2 600.9 1066 602.3 1066.8 601.3 1067.5 604.8 1068.2 604.7 1069 607.9 1069.8 605.5 1070.5 605.7 1071.2 606 1072 608.5 1072.8 606.1 1073.5 609.7 1074.2 609.7 1075 609.4 1075.8 609.5 1076.5 612.5 1077.2 614.1 1078 611.9 1078.8 613.6 1079.5 615.7 1080.2 613.3 1081 614.2 1081.8 613.5 1082.5 615.3 1083.2 615.9 1084 616 1084.8 616.1 1085.5 615.6 1086.2 616.4 1087 617.3 1087.8 619.8 1088.5 618.8 1089.2 618.9 1090 621.1 1090.8 621.4 1091.5 620.1 1092.2 620.6 1093 622.4 1093.8 622.2 1094.5 620.9 1095.2 622.3 1096 622 1096.8 623.3 1097.5 620.8 1098.2 622.9 1099 622.2 1099.8 620.2 1100.5 622.5 1101.2 622.1 1102 619.1 1102.8 622.9 1103.5 618.8 1104.2 618.8 1105 619.2 1105.8 620.2 1106.5 619.7 1107.2 618.5 1108 620 1108.8 618.5 1109.5 619.4 1110.2 620.9 1111 617.3 1111.8 613.6 1112.5 615.9 1113.2 614.8 1114 615.9 1114.8 615.5 1115.5 613.5 1116.2 613.2 1117 613.9 1117.8 613.6 1118.5 610.1 1119.2 614.2 1120 612.6 1120.8 612.1 1121.5 612.1 1122.2 610 1123 610.8 1123.8 611.7 1124.5 611.4 1125.2 610.2 1126 608.8 1126.8 607.7 1127.5 610 1128.2 608.6 1129 607 1129.8 604.4 1130.5 605.6 1131.2 603.9 1132 607.5 1132.8 605.7 1133.5 604.1 1134.2 604.3 1135 607.5 1135.8 605.3 1136.5 601.7 1137.2 602.8 1138 600.9 1138.8 599.9 1139.5 601.9 1140.2 604.3 1141 602.8 1141.8 600.4 1142.5 599.5 1143.2 599.8 1144 600.4 1144.8 596.8 1145.5 595.9 1146.2 600.3 1147 597.8 1147.8 599 1148.5 596.8 1149.2 597.8 1150 594.7 1150.8 595.6 1151.5 596.4 1152.2 595.2 1153 592.8 1153.8 594.1 1154.5 591.6 1155.2 590.1 1156 592.2 1156.8 592.8 1157.5 591.7 1158.2 588.6 1159 591 1159.8 590.4 1160.5 588.6 1161.2 585.7 1162 590 1162.8 589.6 1163.5 589 1164.2 586 1165 586.2 1165.8 589.3 1166.5 588.9 1167.2 588.4 1168 587.3 1168.8 588 1169.5 586.7 1170.2 586.9 1171 586.1 1171.8 587.5 1172.5 586.5 1173.2 588.2 1174 587.8 1174.8 585.8 1175.5 589.1 1176.2 585.3 1177 587.2 1177.8 588 1178.5 588.2 1179.2 583.7 1180 587.8 1180.8 588.1 1181.5 588.4 1182.2 583.6 1183 585.6 1183.8 586.4 1184.5 586 1185.2 588.3 1186 585.7 1186.8 588.3 1187.5 587.5 1188.2 584.9 1189 585.6 1189.8 586.3 1190.5 587.1 1191.2 588.4 1192 587 1192.8 588.5 1193.5 585.4 1194.2 583.5 1195 587.2 1195.8 588.3 1196.5 587.4 1197.2 586.7 1198 588.7 1198.8 590.7 1199.5 588.2 1200.2 587.6 1201 587.5 1201.8 591.3 1202.5 588.9 1203.2 589.9 1204 590.8 1204.8 590.7 1205.5 588.3 1206.2 590.9 1207 590.9 1207.8 590.5 1208.5 591.4 1209.2 589.5 1210 590.2 1210.8 589.8 1211.5 591.6 1212.2 589.9 1213 591.5 1213.8 589.7 1214.5 591.1 1215.2 591 1216 591.5 1216.8 592 1217.5 591.8 1218.2 592 1219 589.8 1219.8 594.1 1220.5 592.1 1221.2 592.8 1222 592.3 1222.8 594.9 1223.5 592.6 1224.2 594.7 1225 595.8 1225.8 596.7 1226.5 596.3 1227.2 595.8 1228 593.7 1228.8 597.2 1229.5 597.3 1230.2 597.1 1231 597.4 1231.8 596.7 1232.5 596.2 1233.2 598.5 1234 599" fill="none" stroke="#333" stroke-width="1.05" stroke-linejoin="round"/>
<path d="M1016.5 627.7 1017.2 629.2 1018 628.7 1018.8 629.2 1019.5 628.7 1020.2 629.4 1021 629.3 1021.8 629.2 1022.5 627.4 1023.2 629.2 1024 628.6 1024.8 627.7 1025.5 629.1 1026.2 627.5 1027 629.3 1027.8 630 1028.5 628.2 1029.2 629.4 1030 629 1030.8 629.2 1031.5 627.6 1032.2 629.2 1033 628.9 1033.8 629.4 1034.5 628.8 1035.2 629.7 1036 629.1 1036.8 629.5 1037.5 630.1 1038.2 629.1 1039 629.8 1039.8 629.3 1040.5 629.5 1041.2 628.8 1042 629.8 1042.8 630.2 1043.5 629.3 1044.2 630 1045 629.8 1045.8 628.9 1046.5 630.5 1047.2 632 1048 631.5 1048.8 631.5 1049.5 634.2 1050.2 634.6 1051 637.7 1051.8 637.2 1052.5 638.2 1053.2 638.7 1054 640.4 1054.8 640.8 1055.5 641.6 1056.2 643.3 1057 643.8 1057.8 646.5 1058.5 645.7 1059.2 647.6 1060 648.2 1060.8 648.8 1061.5 652.3 1062.2 650.4 1063 654.2 1063.8 653.1 1064.5 655.4 1065.2 658.3 1066 656 1066.8 657.8 1067.5 661 1068.2 661.2 1069 661.5 1069.8 662.7 1070.5 662.6 1071.2 664.1 1072 665.7 1072.8 664.8 1073.5 665.7 1074.2 667 1075 668 1075.8 666.4 1076.5 667.4 1077.2 666.9 1078 667 1078.8 667.2 1079.5 667 1080.2 666.1 1081 665.9 1081.8 666.8 1082.5 667.4 1083.2 668.1 1084 666.6 1084.8 666.8 1085.5 667.3 1086.2 667.2 1087 666.3 1087.8 666.2 1088.5 667.5 1089.2 665.6 1090 665.3 1090.8 664.2 1091.5 665.7 1092.2 664.9 1093 666.4 1093.8 664.5 1094.5 665.1 1095.2 664.9 1096 665.2 1096.8 662.6 1097.5 664.5 1098.2 662.9 1099 662.4 1099.8 661.9 1100.5 661.4 1101.2 661 1102 659.1 1102.8 660.8 1103.5 660.1 1104.2 658.8 1105 659 1105.8 660.4 1106.5 658.5 1107.2 657.4 1108 658.5 1108.8 656.1 1109.5 656.1 1110.2 655.4 1111 655.1 1111.8 655.4 1112.5 654.9 1113.2 653.4 1114 653.4 1114.8 653.2 1115.5 652.4 1116.2 652.2 1117 651.3 1117.8 650.9 1118.5 651.2 1119.2 650 1120 650.7 1120.8 649.9 1121.5 649 1122.2 648.9 1123 648.6 1123.8 648.5 1124.5 648.4 1125.2 647.8 1126 646.9 1126.8 648.4 1127.5 647.7 1128.2 646.7 1129 647 1129.8 646.2 1130.5 645.4 1131.2 645.4 1132 647.1 1132.8 645.4 1133.5 645.2 1134.2 643.7 1135 644.2 1135.8 645.2 1136.5 643.4 1137.2 643.6 1138 643.4 1138.8 642.6 1139.5 643 1140.2 641.7 1141 641.6 1141.8 640.4 1142.5 642.6 1143.2 640.4 1144 640 1144.8 640.7 1145.5 638.9 1146.2 639 1147 638.2 1147.8 638.6 1148.5 638 1149.2 638.5 1150 637.8 1150.8 637.3 1151.5 637.3 1152.2 637.3 1153 636.9 1153.8 637.8 1154.5 637.5 1155.2 636.9 1156 635.7 1156.8 636.9 1157.5 635.4 1158.2 636.4 1159 636.1 1159.8 635.5 1160.5 635.2 1161.2 635.2 1162 637.2 1162.8 635.3 1163.5 635.3 1164.2 636.1 1165 635.6 1165.8 636 1166.5 634.2 1167.2 634.2 1168 637.6 1168.8 634.9 1169.5 634.7 1170.2 635.1 1171 635.7 1171.8 634 1172.5 635.2 1173.2 635 1174 635.6 1174.8 635.2 1175.5 634.8 1176.2 634.6 1177 633.5 1177.8 636.2 1178.5 634.4 1179.2 635.4 1180 637.1 1180.8 635.6 1181.5 636.6 1182.2 636.1 1183 636.9 1183.8 636.5 1184.5 636.2 1185.2 637.8 1186 636.7 1186.8 636 1187.5 636.9 1188.2 637.7 1189 636.6 1189.8 638.1 1190.5 638.2 1191.2 639.4 1192 637.4 1192.8 638.5 1193.5 636.8 1194.2 637.8 1195 638.3 1195.8 638.7 1196.5 638.4 1197.2 638.5 1198 638.2 1198.8 638.4 1199.5 639.1 1200.2 639.4 1201 639.5 1201.8 639.9 1202.5 640.2 1203.2 638 1204 639 1204.8 639.4 1205.5 639.1 1206.2 640.5 1207 640.4 1207.8 639.8 1208.5 640.1 1209.2 641.1 1210 639.9 1210.8 640.1 1211.5 641.1 1212.2 640.9 1213 641.7 1213.8 641 1214.5 641.4 1215.2 640.5 1216 640.3 1216.8 641.1 1217.5 639.1 1218.2 641.6 1219 642.1 1219.8 641.5 1220.5 641.4 1221.2 642.5 1222 641.7 1222.8 642.6 1223.5 643.6 1224.2 642.6 1225 642.8 1225.8 642.6 1226.5 642.5 1227.2 642.6 1228 642.5 1228.8 643.4 1229.5 641.4 1230.2 642.5 1231 643.3 1231.8 642.3 1232.5 642.9 1233.2 642.6 1234 643.5" fill="none" stroke="#333" stroke-width="1.05" stroke-linejoin="round"/>
<path d="M1016.5 673.6 1017.2 673.9 1018 673.5 1018.8 672.9 1019.5 673.4 1020.2 673.5 1021 674 1021.8 672.3 1022.5 673.5 1023.2 672.5 1024 673.8 1024.8 673.7 1025.5 673.8 1026.2 674 1027 673.9 1027.8 673.4 1028.5 674 1029.2 674.5 1030 673.9 1030.8 674.1 1031.5 673.6 1032.2 674.8 1033 674.1 1033.8 674.1 1034.5 674.4 1035.2 674.3 1036 674.7 1036.8 675.6 1037.5 675.5 1038.2 676 1039 676.1 1039.8 675.2 1040.5 676 1041.2 676.6 1042 677.2 1042.8 675.6 1043.5 675.8 1044.2 676.9 1045 676.7 1045.8 676.8 1046.5 678 1047.2 678.2 1048 678.4 1048.8 680.4 1049.5 681.5 1050.2 682.9 1051 684.1 1051.8 684.8 1052.5 685.6 1053.2 686.5 1054 687.1 1054.8 688.9 1055.5 690.8 1056.2 691.9 1057 693.8 1057.8 694 1058.5 694.4 1059.2 696.7 1060 697.8 1060.8 697.8 1061.5 698.6 1062.2 700.5 1063 701.7 1063.8 701.8 1064.5 703.1 1065.2 703.7 1066 704.3 1066.8 705 1067.5 706.5 1068.2 707 1069 707.7 1069.8 707.5 1070.5 710.3 1071.2 709.8 1072 710.8 1072.8 710.8 1073.5 711.9 1074.2 711.3 1075 712.2 1075.8 712 1076.5 712.4 1077.2 711.4 1078 711.4 1078.8 711.4 1079.5 712.3 1080.2 710.4 1081 711 1081.8 710.3 1082.5 710.5 1083.2 710.5 1084 710 1084.8 709.9 1085.5 709.7 1086.2 709.2 1087 709.2 1087.8 708.3 1088.5 708.8 1089.2 708.5 1090 708.6 1090.8 708.9 1091.5 708.6 1092.2 708.5 1093 708.7 1093.8 706.9 1094.5 708.1 1095.2 707.7 1096 707.5 1096.8 706.8 1097.5 707.5 1098.2 707.5 1099 707.3 1099.8 706.5 1100.5 706.6 1101.2 706.5 1102 706.6 1102.8 705.9 1103.5 705 1104.2 704.6 1105 704.2 1105.8 703.8 1106.5 703 1107.2 703.1 1108 701.9 1108.8 701.3 1109.5 701.3 1110.2 700.4 1111 700 1111.8 698.6 1112.5 699.4 1113.2 698.4 1114 697.8 1114.8 697.6 1115.5 696.9 1116.2 695.9 1117 696.7 1117.8 695 1118.5 695.2 1119.2 695.1 1120 693.5 1120.8 693.4 1121.5 692.6 1122.2 693.1 1123 692 1123.8 691.2 1124.5 691.9 1125.2 691.3 1126 690.1 1126.8 690.6 1127.5 689.7 1128.2 690.5 1129 689.7 1129.8 688.2 1130.5 687.9 1131.2 687.2 1132 687.3 1132.8 686.9 1133.5 686.9 1134.2 686.2 1135 685.1 1135.8 685.1 1136.5 685.8 1137.2 685.4 1138 684.5 1138.8 684.2 1139.5 684 1140.2 683.8 1141 682.8 1141.8 683.8 1142.5 682.9 1143.2 683.1 1144 681.6 1144.8 682.8 1145.5 683.2 1146.2 681.3 1147 682.9 1147.8 682.3 1148.5 681.6 1149.2 681 1150 682.2 1150.8 681.6 1151.5 681.6 1152.2 681.1 1153 680.7 1153.8 681.4 1154.5 680.4 1155.2 681.2 1156 679.9 1156.8 680.1 1157.5 679.8 1158.2 681 1159 679.4 1159.8 679.6 1160.5 680.4 1161.2 680.1 1162 680.9 1162.8 680.7 1163.5 680 1164.2 680 1165 678.7 1165.8 679 1166.5 679.2 1167.2 679.2 1168 678.5 1168.8 678.7 1169.5 678.6 1170.2 679.5 1171 679.1 1171.8 678.7 1172.5 678.6 1173.2 678.8 1174 678.3 1174.8 678.5 1175.5 677.8 1176.2 678.9 1177 679.1 1177.8 678.8 1178.5 678.9 1179.2 678.9 1180 679.8 1180.8 679 1181.5 678.3 1182.2 678.5 1183 679.5 1183.8 679.8 1184.5 679.8 1185.2 679.9 1186 679.8 1186.8 679.1 1187.5 679.7 1188.2 679.3 1189 680.1 1189.8 679.8 1190.5 680.7 1191.2 680.8 1192 680.1 1192.8 681.5 1193.5 681.7 1194.2 680.9 1195 681.8 1195.8 682.2 1196.5 681.9 1197.2 682.6 1198 682.5 1198.8 683 1199.5 682.8 1200.2 682.7 1201 683.2 1201.8 683.4 1202.5 683.3 1203.2 683.1 1204 683.1 1204.8 683.4 1205.5 683.5 1206.2 684 1207 684.1 1207.8 684.1 1208.5 684.3 1209.2 684.5 1210 685.3 1210.8 685.3 1211.5 684.5 1212.2 685.1 1213 684.9 1213.8 685.2 1214.5 685.2 1215.2 685.2 1216 685 1216.8 684.6 1217.5 686 1218.2 686.6 1219 685.7 1219.8 686.5 1220.5 686.2 1221.2 686.7 1222 686.3 1222.8 686.7 1223.5 686.9 1224.2 685.9 1225 687.3 1225.8 687.3 1226.5 686.3 1227.2 687.9 1228 687.7 1228.8 688 1229.5 688.2 1230.2 688 1231 687.8 1231.8 688.2 1232.5 688.4 1233.2 689.8 1234 689.7" fill="none" stroke="#7c7c7c" stroke-width="0.95" stroke-linejoin="round"/>
<path d="M1016.5 717.9 1017.2 717.9 1018 718.3 1018.8 718.4 1019.5 717.8 1020.2 717.7 1021 719.1 1021.8 718.8 1022.5 717.5 1023.2 717.5 1024 718 1024.8 718.6 1025.5 718.8 1026.2 718.5 1027 717.9 1027.8 718.9 1028.5 719.2 1029.2 719 1030 718.9 1030.8 719.5 1031.5 719.3 1032.2 718.9 1033 719.7 1033.8 719.1 1034.5 720.4 1035.2 720.3 1036 719.7 1036.8 720.5 1037.5 721.2 1038.2 719.7 1039 720.9 1039.8 722 1040.5 720.6 1041.2 721.5 1042 721.1 1042.8 722 1043.5 721.1 1044.2 722 1045 723.1 1045.8 724.2 1046.5 725.3 1047.2 726.3 1048 727.7 1048.8 728.6 1049.5 729.8 1050.2 730 1051 731.5 1051.8 734.2 1052.5 734.7 1053.2 735 1054 736 1054.8 737.3 1055.5 737.7 1056.2 740 1057 740 1057.8 741.3 1058.5 743.5 1059.2 742.4 1060 744.6 1060.8 744.5 1061.5 745.9 1062.2 746.9 1063 747.4 1063.8 748.3 1064.5 748.4 1065.2 749.3 1066 749.3 1066.8 750.2 1067.5 750.3 1068.2 751.8 1069 751.4 1069.8 752.8 1070.5 752.8 1071.2 753.3 1072 754.5 1072.8 754.3 1073.5 753.8 1074.2 755.3 1075 754 1075.8 755.8 1076.5 755.8 1077.2 755.5 1078 756.5 1078.8 756.5 1079.5 757.7 1080.2 756.6 1081 757.8 1081.8 757.6 1082.5 756.6 1083.2 756.4 1084 757.4 1084.8 756.6 1085.5 756.7 1086.2 756.4 1087 755.8 1087.8 756.1 1088.5 755.7 1089.2 755.2 1090 755.7 1090.8 756.5 1091.5 756.3 1092.2 755.3 1093 755.2 1093.8 755.1 1094.5 755.4 1095.2 754.6 1096 754 1096.8 753.8 1097.5 754.4 1098.2 754.9 1099 753.1 1099.8 752.1 1100.5 753.3 1101.2 752.6 1102 752.4 1102.8 752.6 1103.5 751.6 1104.2 750.5 1105 749.8 1105.8 750.3 1106.5 749.3 1107.2 749.6 1108 748.3 1108.8 748.3 1109.5 747.2 1110.2 747.3 1111 746.7 1111.8 746.7 1112.5 746.6 1113.2 745.3 1114 744.4 1114.8 745.3 1115.5 744 1116.2 743.7 1117 743.2 1117.8 743.2 1118.5 742.5 1119.2 741.9 1120 741.5 1120.8 740.4 1121.5 740.1 1122.2 740 1123 739.8 1123.8 739.4 1124.5 739.3 1125.2 738.8 1126 738.2 1126.8 737.3 1127.5 738.2 1128.2 737.8 1129 736.7 1129.8 737.1 1130.5 736.8 1131.2 736.3 1132 735.1 1132.8 735.1 1133.5 735.1 1134.2 736 1135 734.5 1135.8 734.5 1136.5 733.9 1137.2 734 1138 734.2 1138.8 732.8 1139.5 732.2 1140.2 733.7 1141 733.3 1141.8 732.8 1142.5 733.4 1143.2 733.3 1144 731.6 1144.8 732.4 1145.5 732.9 1146.2 731.9 1147 731.9 1147.8 732.4 1148.5 731.7 1149.2 731.1 1150 731.2 1150.8 730.8 1151.5 731.6 1152.2 730.3 1153 731.6 1153.8 730.2 1154.5 730.9 1155.2 730 1156 730.5 1156.8 731.1 1157.5 731.1 1158.2 731.1 1159 730.3 1159.8 730.3 1160.5 730.3 1161.2 730.5 1162 729.9 1162.8 730.6 1163.5 730.2 1164.2 730.5 1165 730.1 1165.8 730.2 1166.5 729.5 1167.2 729.6 1168 729.1 1168.8 729.6 1169.5 729.6 1170.2 730.1 1171 729 1171.8 731.2 1172.5 729.5 1173.2 730.1 1174 730 1174.8 728.2 1175.5 729.3 1176.2 730.2 1177 728.2 1177.8 729.8 1178.5 728.9 1179.2 729.2 1180 729.5 1180.8 728.5 1181.5 729.5 1182.2 729.1 1183 729.1 1183.8 729.8 1184.5 731.3 1185.2 729.7 1186 729.9 1186.8 729.6 1187.5 729.3 1188.2 729.9 1189 730.6 1189.8 730 1190.5 730.4 1191.2 729.9 1192 731.4 1192.8 729.4 1193.5 730.6 1194.2 730.7 1195 730.6 1195.8 730 1196.5 730.1 1197.2 730.6 1198 730.9 1198.8 730.3 1199.5 730.5 1200.2 731.4 1201 731.7 1201.8 731 1202.5 731.1 1203.2 731.1 1204 732.8 1204.8 731.9 1205.5 731.7 1206.2 732.4 1207 733.1 1207.8 732.6 1208.5 731.4 1209.2 732.1 1210 732 1210.8 732.1 1211.5 731.8 1212.2 732.3 1213 732 1213.8 732.8 1214.5 732.7 1215.2 732 1216 732 1216.8 732.7 1217.5 733.3 1218.2 733.3 1219 733.1 1219.8 731.5 1220.5 733 1221.2 733 1222 733.2 1222.8 732.9 1223.5 733.3 1224.2 733.3 1225 735 1225.8 734.1 1226.5 733.7 1227.2 733.9 1228 733.9 1228.8 734.1 1229.5 733.9 1230.2 734.2 1231 734.8 1231.8 734.8 1232.5 734.6 1233.2 735.1 1234 734.7" fill="none" stroke="#7c7c7c" stroke-width="0.95" stroke-linejoin="round"/>
<path d="M1016.5 761.7 1017.2 761.9 1018 763.3 1018.8 764.4 1019.5 765.1 1020.2 765.6 1021 764.7 1021.8 764.6 1022.5 765.6 1023.2 765.9 1024 764.9 1024.8 765.4 1025.5 766.1 1026.2 765.4 1027 765.2 1027.8 764 1028.5 766.1 1029.2 765.7 1030 765.4 1030.8 765 1031.5 764.6 1032.2 765.3 1033 765.3 1033.8 766 1034.5 764.7 1035.2 766.3 1036 765.5 1036.8 766.2 1037.5 765 1038.2 765.9 1039 766.8 1039.8 766.6 1040.5 766.2 1041.2 767.5 1042 768.8 1042.8 768.4 1043.5 769.2 1044.2 771 1045 771.1 1045.8 773 1046.5 772.8 1047.2 773.5 1048 775.3 1048.8 777.8 1049.5 777.6 1050.2 779.4 1051 780.8 1051.8 781.3 1052.5 783.7 1053.2 784.4 1054 785.9 1054.8 786.1 1055.5 787.4 1056.2 788.2 1057 791 1057.8 792.2 1058.5 793.7 1059.2 795 1060 794.7 1060.8 795.3 1061.5 796.3 1062.2 797.6 1063 796.7 1063.8 798.1 1064.5 798.1 1065.2 798.4 1066 799.5 1066.8 798.8 1067.5 798.9 1068.2 800.1 1069 799.8 1069.8 799.8 1070.5 799.9 1071.2 800.4 1072 799.9 1072.8 800.7 1073.5 800.6 1074.2 801.3 1075 801.2 1075.8 801 1076.5 800.4 1077.2 800.7 1078 800.3 1078.8 802.4 1079.5 800.6 1080.2 801.1 1081 801.7 1081.8 800.1 1082.5 800.4 1083.2 800.7 1084 800.4 1084.8 800.2 1085.5 800.7 1086.2 801.8 1087 801.5 1087.8 801.1 1088.5 801.1 1089.2 800.1 1090 801.5 1090.8 801.3 1091.5 800.4 1092.2 801.2 1093 801 1093.8 800.8 1094.5 800.5 1095.2 800.7 1096 800.5 1096.8 801.4 1097.5 801.3 1098.2 801.3 1099 801 1099.8 800.8 1100.5 802.3 1101.2 800 1102 801.8 1102.8 801.3 1103.5 801.1 1104.2 800.8 1105 801 1105.8 800.4 1106.5 800.2 1107.2 801 1108 800.1 1108.8 801.6 1109.5 801.7 1110.2 799 1111 800 1111.8 801 1112.5 800.8 1113.2 800.6 1114 800.5 1114.8 800.5 1115.5 800.3 1116.2 800.6 1117 799.2 1117.8 799.4 1118.5 797.6 1119.2 798.2 1120 797.1 1120.8 798.3 1121.5 798.5 1122.2 797 1123 795.5 1123.8 795.8 1124.5 795.5 1125.2 795.2 1126 795.3 1126.8 794.8 1127.5 792.2 1128.2 794.2 1129 792.7 1129.8 792.3 1130.5 793.1 1131.2 791.7 1132 790.7 1132.8 790.4 1133.5 790.9 1134.2 791.1 1135 791.1 1135.8 789.8 1136.5 789.4 1137.2 790.4 1138 788.9 1138.8 789.8 1139.5 788.8 1140.2 788.6 1141 788 1141.8 788.1 1142.5 787.4 1143.2 787 1144 787.1 1144.8 786.5 1145.5 786.9 1146.2 786.5 1147 786.1 1147.8 785.9 1148.5 785.6 1149.2 786.6 1150 785.3 1150.8 784.7 1151.5 784.7 1152.2 785 1153 784.3 1153.8 784.1 1154.5 783.9 1155.2 783.9 1156 783.9 1156.8 783.7 1157.5 782.3 1158.2 782.5 1159 781.4 1159.8 783.3 1160.5 783.3 1161.2 783.3 1162 782.4 1162.8 782.9 1163.5 782.1 1164.2 781.9 1165 780.9 1165.8 781.3 1166.5 781.3 1167.2 782.1 1168 782.4 1168.8 781 1169.5 781.4 1170.2 781.2 1171 780.5 1171.8 779.8 1172.5 780.3 1173.2 779.8 1174 780.3 1174.8 780.3 1175.5 780.2 1176.2 780.1 1177 780.4 1177.8 779.5 1178.5 780.5 1179.2 778.9 1180 779.8 1180.8 780 1181.5 779.2 1182.2 778.6 1183 779.9 1183.8 779.1 1184.5 779.9 1185.2 779.8 1186 779.3 1186.8 779.3 1187.5 779.8 1188.2 779.5 1189 778.6 1189.8 779.3 1190.5 779.5 1191.2 779.3 1192 779.3 1192.8 779.1 1193.5 779.1 1194.2 778.6 1195 778.3 1195.8 779.9 1196.5 778.8 1197.2 779.3 1198 778.3 1198.8 779.3 1199.5 778.7 1200.2 781 1201 778.6 1201.8 778.6 1202.5 779.8 1203.2 779.9 1204 778 1204.8 779.4 1205.5 779.8 1206.2 778.5 1207 779.7 1207.8 779 1208.5 778.7 1209.2 779.1 1210 779.1 1210.8 778.5 1211.5 780.7 1212.2 779.1 1213 779 1213.8 780 1214.5 779.4 1215.2 780.3 1216 779.4 1216.8 779.8 1217.5 779.7 1218.2 779.7 1219 779.5 1219.8 779.6 1220.5 780.8 1221.2 779.4 1222 779.5 1222.8 779.7 1223.5 780.3 1224.2 780.2 1225 780.6 1225.8 779.3 1226.5 780.3 1227.2 780.1 1228 780.1 1228.8 780.5 1229.5 779.3 1230.2 780.7 1231 780.7 1231.8 779.8 1232.5 780.7 1233.2 781.8 1234 780.7" fill="none" stroke="#1e1e1e" stroke-width="1.05" stroke-linejoin="round"/>
<g font-family="'Liberation Sans', Arial, sans-serif" font-size="20" fill="#000" stroke="#000" stroke-width="0.25" text-anchor="end"><text x="1364.8" y="69.5"><tspan font-size="20.6">0.023</tspan> cd-s/m<tspan font-size="14" dy="-6.8">2</tspan></text><text x="1364.8" y="111.5"><tspan font-size="20.6">0.25</tspan> cd-s/m<tspan font-size="14" dy="-6.8">2</tspan></text><text x="1364.8" y="164.2"><tspan font-size="20.6">2.4</tspan> cd-s/m<tspan font-size="14" dy="-6.8">2</tspan></text><text x="1364.8" y="206.8"><tspan font-size="20.6">4.4</tspan> cd-s/m<tspan font-size="14" dy="-6.8">2</tspan></text><text x="1364.8" y="252.8"><tspan font-size="20.6">23.5</tspan> cd-s/m<tspan font-size="14" dy="-6.8">2</tspan></text><text x="1365.9" y="337.8"><tspan font-size="20.1">0.023</tspan> cd-s/m<tspan font-size="14" dy="-6.8">2</tspan></text><text x="1365.9" y="380.4"><tspan font-size="20.1">0.25</tspan> cd-s/m<tspan font-size="14" dy="-6.8">2</tspan></text><text x="1365.9" y="433.3"><tspan font-size="20.1">2.4</tspan> cd-s/m<tspan font-size="14" dy="-6.8">2</tspan></text><text x="1365.9" y="475.6"><tspan font-size="20.1">4.4</tspan> cd-s/m<tspan font-size="14" dy="-6.8">2</tspan></text><text x="1365.9" y="522"><tspan font-size="20.1">23.5</tspan> cd-s/m<tspan font-size="14" dy="-6.8">2</tspan></text><text x="1365.9" y="606.8"><tspan font-size="20.1">0.023</tspan> cd-s/m<tspan font-size="14" dy="-6.8">2</tspan></text><text x="1365.9" y="649.5"><tspan font-size="20.1">0.25</tspan> cd-s/m<tspan font-size="14" dy="-6.8">2</tspan></text><text x="1365.9" y="703.3"><tspan font-size="20.1">2.4</tspan> cd-s/m<tspan font-size="14" dy="-6.8">2</tspan></text><text x="1365.9" y="745.4"><tspan font-size="20.1">4.4</tspan> cd-s/m<tspan font-size="14" dy="-6.8">2</tspan></text><text x="1365.9" y="792"><tspan font-size="20.1">23.5</tspan> cd-s/m<tspan font-size="14" dy="-6.8">2</tspan></text></g>
<g fill="none" stroke="#111" stroke-width="2.2"><path d="M1251.2 264.1V279.1M1228.9 282.4H1250.8"/><path d="M1252.1 533.2V547.6M1231 552.3H1252.6"/><path d="M1252.1 804.9V819.3M1230.1 823H1252.1"/></g>
<g font-family="'Liberation Sans', Arial, sans-serif" font-size="20" fill="#000" stroke="#000" stroke-width="0.25"><text x="1256.2" y="276.2">50 <tspan font-family="'Liberation Serif', serif">&#956;</tspan>V</text><text x="1218.4" y="303.2">100 msec</text><text x="1256.4" y="544.6">25 <tspan font-family="'Liberation Serif', serif">&#956;</tspan>V</text><text x="1220.7" y="571.6">100 msec</text><text x="1256.9" y="816.1">25 <tspan font-family="'Liberation Serif', serif">&#956;</tspan>V</text><text x="1219.2" y="843.4">100 msec</text></g>
</svg></body></html>
